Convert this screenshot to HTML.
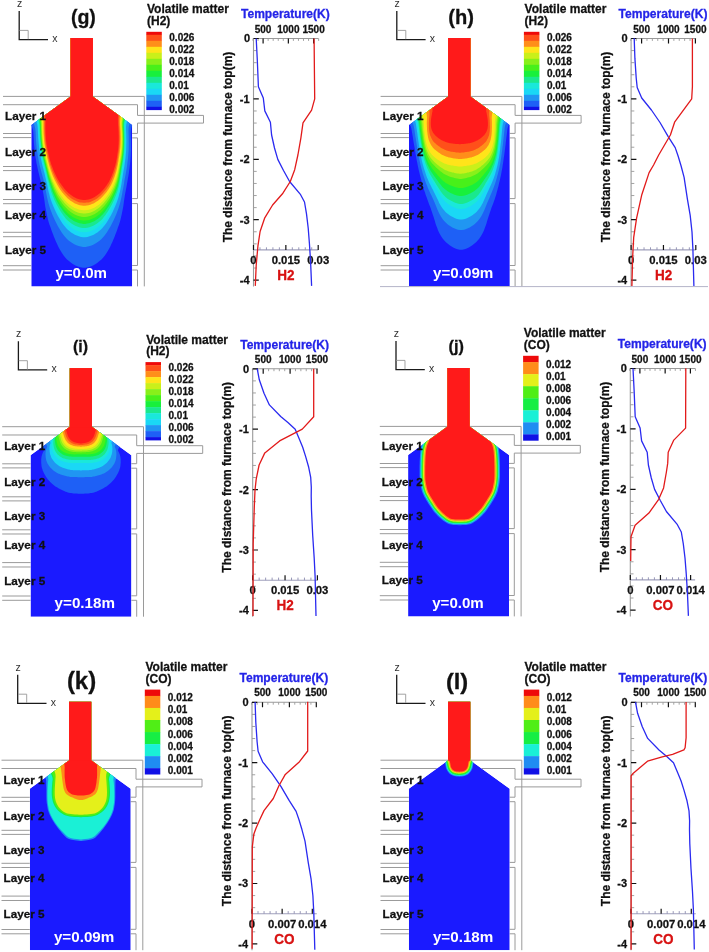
<!DOCTYPE html>
<html><head><meta charset="utf-8"><title>Volatile matter contours</title>
<style>html,body{margin:0;padding:0;background:#fff;}svg{display:block;}</style></head>
<body>
<svg width="709" height="952" viewBox="0 0 709 952">
<rect width="709" height="952" fill="#fff"/>
<g transform="translate(0,0)">
<path d="M19.2 10.9V39.6H48" stroke="#1a1a1a" stroke-width="1.3" fill="none"/><path d="M19.5 30.4H28.2V39.2" stroke="#999" stroke-width="0.9" fill="none"/><text x="16.9" y="6.7" font-family="&quot;Liberation Sans&quot;, Arial, sans-serif" font-size="10.5" fill="#333">z</text><text x="52.2" y="42" font-family="&quot;Liberation Sans&quot;, Arial, sans-serif" font-size="10.5" fill="#333">x</text>
<text stroke="#111" stroke-width="0.28" x="70.9" y="23.8" font-family="&quot;Liberation Sans&quot;, Arial, sans-serif" font-weight="bold" font-size="20.2" fill="#111" textLength="25" lengthAdjust="spacingAndGlyphs">(g)</text>
<path d="M3 96.4H70.6M92.8 96.4H144.3V286.4 M3 104.7H59.3M104.1 104.7H137.5V115.4H203.5V123.1H137.5V133.4H132.2 M132.2 137.9H137.5V198.6H132.2M132.2 203.6H137.5V265.5H132.2M132.2 270H137.5V286.4 M3 133.5H31.3 M3 137.6H31.3 M3 166.5H31.3 M3 170.6H31.3 M3 199.5H31.3 M3 203.7H31.3 M3 232.3H31.3 M3 236.7H31.3 M3 265.7H31.3 M3 270H31.3" stroke="#9a9a9a" stroke-width="1" fill="none"/>
<clipPath id="clipg"><polygon points="70.6,37.9 92.8,37.9 92.8,96.5 132.2,124.9 132.2,286.4 31.3,286.4 31.3,124.9 70.6,96.5"/></clipPath>
<g clip-path="url(#clipg)">
<polygon points="70.6,37.9 92.8,37.9 92.8,96.5 132.2,124.9 132.2,286.4 31.3,286.4 31.3,124.9 70.6,96.5" fill="#1a1aff"/>
<polygon points="18,20 18,108 19.7,110 21.3,112 23,114 24.7,116 26.3,118.1 27.9,120.1 29.5,122.3 30.8,124.5 32,126.8 32.9,129.3 33.3,131.9 33.5,134.5 33.6,137.1 33.8,139.7 33.9,142.4 34.1,145 34.4,147.6 34.6,150.2 34.9,152.8 35.2,155.4 35.6,158 36.1,160.6 36.5,163.2 37.1,165.8 37.6,168.3 38.2,170.9 38.8,173.5 39.4,176 40,178.6 40.7,181.1 41.4,183.7 41.9,186.3 42.4,188.8 42.9,191.4 43.4,194 43.8,196.5 44.2,199.1 44.6,201.7 44.9,204.3 45.3,206.9 45.8,209.5 46.3,212 46.8,214.6 47.4,217.1 48,219.7 48.7,222.2 49.5,224.7 50.4,227.1 51.2,229.6 52.1,232.1 53.1,234.5 54,236.9 55,239.3 56,241.7 57.1,244.1 58.2,246.5 59.4,248.8 60.7,251.1 62.1,253.3 63.6,255.5 65.2,257.5 67,259.4 69,261.1 71,262.7 73.2,264.2 75.5,265.4 77.9,266.5 80.4,267.2 83,267.7 85.5,267.7 88.1,267.2 90.6,266.5 93,265.4 95.3,264.2 97.5,262.7 99.5,261.1 101.5,259.4 103.3,257.5 104.9,255.5 106.4,253.3 107.8,251.1 109.1,248.8 110.3,246.5 111.4,244.1 112.5,241.7 113.5,239.3 114.5,236.9 115.4,234.5 116.4,232.1 117.3,229.6 118.1,227.1 119,224.7 119.8,222.2 120.5,219.7 121.1,217.1 121.7,214.6 122.2,212 122.7,209.5 123.2,206.9 123.6,204.3 123.9,201.7 124.3,199.1 124.7,196.5 125.1,194 125.6,191.4 126.1,188.8 126.6,186.3 127,183.7 127.5,181.1 127.9,178.6 128.4,176 128.8,173.5 129.1,170.9 129.5,168.3 129.8,165.8 130.1,163.2 130.4,160.6 130.6,158 130.8,155.4 130.9,152.8 131,150.2 131,147.6 131,145 131,142.4 131,139.7 130.9,137.1 130.8,134.5 130.8,131.9 131,129.3 131.6,126.8 132.7,124.5 134,122.3 135.6,120.1 137.2,118.1 138.8,116 140.5,114 142.2,112 143.8,110 145.5,108 145.5,20" fill="#1e60f6"/>
<polygon points="21.4,20 21.4,106.6 22.9,108.6 24.5,110.5 26,112.4 27.5,114.3 29,116.2 30.5,118.2 31.9,120.2 33.1,122.3 34.2,124.5 34.9,126.9 35.3,129.3 35.6,131.8 35.7,134.2 35.8,136.6 35.9,139.1 36.1,141.5 36.3,143.9 36.5,146.4 36.8,148.8 37.1,151.2 37.5,153.6 37.8,155.9 38.3,158.3 38.7,160.7 39.2,163 39.7,165.4 40.3,167.7 40.9,170 41.4,172.3 42.1,174.6 42.7,176.9 43.3,179.1 43.9,181.4 44.4,183.7 44.9,185.9 45.3,188.2 45.8,190.4 46.2,192.7 46.6,194.9 47,197.1 47.5,199.3 48,201.5 48.6,203.7 49.2,205.8 49.9,207.9 50.6,210 51.4,212.1 52.2,214.2 53.1,216.2 54,218.3 54.9,220.3 55.9,222.3 56.9,224.2 57.9,226.2 59,228.1 60.2,230 61.4,231.9 62.6,233.8 63.9,235.6 65.4,237.3 67,238.9 68.6,240.4 70.4,241.8 72.3,243.1 74.3,244.3 76.4,245.3 78.6,246.1 80.8,246.6 83.1,247 85.4,247 87.7,246.6 89.9,246.1 92.1,245.3 94.2,244.3 96.2,243.1 98.1,241.8 99.9,240.4 101.5,238.9 103.1,237.3 104.6,235.6 105.9,233.8 107.1,231.9 108.3,230 109.5,228.1 110.6,226.2 111.6,224.2 112.6,222.3 113.6,220.3 114.5,218.3 115.4,216.2 116.3,214.2 117.1,212.1 117.9,210 118.6,207.9 119.3,205.8 119.9,203.7 120.5,201.5 121,199.3 121.5,197.1 121.9,194.9 122.3,192.7 122.7,190.4 123.2,188.2 123.6,185.9 124,183.7 124.3,181.4 124.7,179.1 125.1,176.9 125.6,174.6 126,172.3 126.4,170 126.8,167.7 127.1,165.4 127.4,163 127.7,160.7 128,158.3 128.2,155.9 128.4,153.6 128.6,151.2 128.7,148.8 128.7,146.4 128.8,143.9 128.7,141.5 128.7,139.1 128.7,136.6 128.6,134.2 128.5,131.8 128.5,129.3 128.7,126.9 129.3,124.5 130.4,122.3 131.6,120.2 133,118.2 134.5,116.2 136,114.3 137.5,112.4 139,110.5 140.6,108.6 142.1,106.6 142.1,20" fill="#2096f2"/>
<polygon points="25.2,20 25.2,105.1 26.6,106.9 27.9,108.7 29.3,110.6 30.7,112.4 32,114.2 33.4,116 34.6,118 35.7,119.9 36.6,122 37.2,124.2 37.6,126.5 37.8,128.7 37.9,131 38,133.3 38.1,135.5 38.2,137.8 38.4,140.1 38.6,142.3 38.8,144.6 39,146.8 39.3,149.1 39.6,151.3 40,153.5 40.4,155.7 40.8,157.9 41.2,160.1 41.7,162.3 42.2,164.5 42.7,166.7 43.3,168.8 43.8,171 44.4,173.1 44.9,175.3 45.4,177.4 45.9,179.5 46.4,181.7 46.9,183.8 47.4,185.9 47.8,188 48.2,190.1 48.7,192.2 49.3,194.3 49.8,196.4 50.4,198.4 51.1,200.4 51.8,202.4 52.6,204.4 53.4,206.4 54.2,208.3 55.1,210.3 56,212.2 56.9,214.1 57.9,215.9 59,217.8 60,219.6 61.2,221.4 62.3,223.2 63.6,224.9 64.9,226.6 66.3,228.2 67.8,229.7 69.4,231.1 71.1,232.4 72.9,233.6 74.8,234.7 76.8,235.6 78.9,236.3 81,236.9 83.2,237.2 85.3,237.2 87.5,236.9 89.6,236.3 91.7,235.6 93.7,234.7 95.6,233.6 97.4,232.4 99.1,231.1 100.7,229.7 102.2,228.2 103.6,226.6 104.9,224.9 106.2,223.2 107.3,221.4 108.5,219.6 109.5,217.8 110.6,215.9 111.6,214.1 112.5,212.2 113.4,210.3 114.3,208.3 115.1,206.4 115.9,204.4 116.7,202.4 117.4,200.4 118.1,198.4 118.7,196.4 119.2,194.3 119.8,192.2 120.3,190.1 120.7,188 121.1,185.9 121.5,183.8 121.8,181.7 122.1,179.5 122.5,177.4 122.8,175.3 123.2,173.1 123.5,171 123.9,168.8 124.3,166.7 124.6,164.5 124.9,162.3 125.2,160.1 125.5,157.9 125.7,155.7 125.9,153.5 126.1,151.3 126.2,149.1 126.3,146.8 126.3,144.6 126.4,142.3 126.4,140.1 126.3,137.8 126.3,135.5 126.2,133.3 126.1,131 126,128.7 126,126.5 126.3,124.2 126.9,122 127.8,119.9 128.9,118 130.1,116 131.5,114.2 132.8,112.4 134.2,110.6 135.6,108.7 136.9,106.9 138.3,105.1 138.3,20" fill="#1ad8f5"/>
<polygon points="26.6,20 26.6,104.6 27.9,106.3 29.2,108.1 30.5,109.9 31.9,111.7 33.2,113.4 34.4,115.3 35.6,117.1 36.6,119.1 37.5,121.1 38.1,123.2 38.4,125.4 38.6,127.6 38.7,129.8 38.8,132 38.9,134.2 39,136.4 39.2,138.6 39.3,140.8 39.5,143 39.7,145.2 40,147.4 40.3,149.5 40.6,151.7 41,153.8 41.4,156 41.8,158.1 42.2,160.2 42.7,162.3 43.2,164.4 43.7,166.5 44.3,168.6 44.8,170.7 45.3,172.8 45.8,174.9 46.3,176.9 46.8,179 47.3,181.1 47.8,183.1 48.3,185.1 48.8,187.2 49.2,189.2 49.8,191.2 50.3,193.2 51,195.1 51.6,197.1 52.3,199 53.1,200.9 53.9,202.8 54.7,204.7 55.6,206.6 56.5,208.4 57.4,210.2 58.4,212 59.5,213.8 60.5,215.5 61.6,217.2 62.8,218.9 64,220.6 65.3,222.2 66.7,223.7 68.2,225.1 69.8,226.5 71.5,227.7 73.3,228.9 75.1,229.9 77,230.8 79,231.4 81.1,231.9 83.2,232.2 85.3,232.2 87.4,231.9 89.5,231.4 91.5,230.8 93.4,229.9 95.2,228.9 97,227.7 98.7,226.5 100.3,225.1 101.8,223.7 103.2,222.2 104.5,220.6 105.7,218.9 106.9,217.2 108,215.5 109,213.8 110.1,212 111.1,210.2 112,208.4 112.9,206.6 113.8,204.7 114.6,202.8 115.4,200.9 116.2,199 116.9,197.1 117.5,195.1 118.2,193.2 118.7,191.2 119.3,189.2 119.7,187.2 120.2,185.1 120.6,183.1 120.9,181.1 121.2,179 121.5,176.9 121.9,174.9 122.2,172.8 122.5,170.7 122.9,168.6 123.2,166.5 123.6,164.4 123.9,162.3 124.2,160.2 124.5,158.1 124.7,156 124.9,153.8 125.1,151.7 125.3,149.5 125.4,147.4 125.4,145.2 125.5,143 125.5,140.8 125.5,138.6 125.4,136.4 125.4,134.2 125.3,132 125.2,129.8 125.1,127.6 125.1,125.4 125.4,123.2 126,121.1 126.9,119.1 127.9,117.1 129.1,115.3 130.3,113.4 131.6,111.7 133,109.9 134.3,108.1 135.6,106.3 136.9,104.6 136.9,20" fill="#1ae8da"/>
<polygon points="28,20 28,104 29.3,105.7 30.5,107.5 31.8,109.2 33,110.9 34.3,112.7 35.5,114.5 36.6,116.3 37.6,118.2 38.4,120.2 39,122.2 39.3,124.4 39.5,126.5 39.6,128.6 39.6,130.8 39.7,132.9 39.8,135.1 39.9,137.2 40.1,139.3 40.3,141.4 40.5,143.6 40.7,145.7 41,147.8 41.3,149.9 41.6,152 42,154.1 42.4,156.1 42.8,158.2 43.2,160.3 43.7,162.3 44.2,164.3 44.7,166.4 45.2,168.4 45.7,170.4 46.2,172.4 46.7,174.5 47.1,176.5 47.6,178.5 48.1,180.5 48.7,182.5 49.2,184.4 49.7,186.4 50.3,188.3 50.8,190.3 51.4,192.2 52.1,194.1 52.8,195.9 53.6,197.8 54.3,199.7 55.2,201.5 56,203.3 56.9,205.1 57.9,206.8 58.9,208.6 59.9,210.3 61,212 62.1,213.6 63.2,215.3 64.5,216.8 65.7,218.4 67.1,219.9 68.6,221.2 70.2,222.5 71.8,223.7 73.5,224.8 75.3,225.8 77.2,226.6 79.2,227.3 81.2,227.7 83.2,228 85.3,228 87.3,227.7 89.3,227.3 91.3,226.6 93.2,225.8 95,224.8 96.7,223.7 98.3,222.5 99.9,221.2 101.4,219.9 102.8,218.4 104,216.8 105.3,215.3 106.4,213.6 107.5,212 108.6,210.3 109.6,208.6 110.6,206.8 111.6,205.1 112.5,203.3 113.3,201.5 114.2,199.7 114.9,197.8 115.7,195.9 116.4,194.1 117.1,192.2 117.7,190.3 118.2,188.3 118.8,186.4 119.3,184.4 119.6,182.5 120,180.5 120.3,178.5 120.6,176.5 120.9,174.5 121.3,172.4 121.6,170.4 121.9,168.4 122.2,166.4 122.6,164.3 122.9,162.3 123.2,160.3 123.5,158.2 123.7,156.1 124,154.1 124.2,152 124.3,149.9 124.4,147.8 124.5,145.7 124.6,143.6 124.6,141.4 124.6,139.3 124.6,137.2 124.5,135.1 124.5,132.9 124.4,130.8 124.2,128.6 124.2,126.5 124.2,124.4 124.5,122.2 125.1,120.2 125.9,118.2 126.9,116.3 128,114.5 129.2,112.7 130.5,110.9 131.7,109.2 133,107.5 134.2,105.7 135.5,104 135.5,20" fill="#1ae88e"/>
<polygon points="29,20 29,103.6 30.2,105.3 31.4,107 32.6,108.7 33.9,110.4 35.1,112.2 36.2,113.9 37.3,115.7 38.3,117.6 39,119.5 39.6,121.5 39.9,123.6 40.1,125.7 40.2,127.8 40.2,129.9 40.3,132 40.4,134.1 40.5,136.1 40.6,138.2 40.8,140.3 41,142.4 41.2,144.4 41.4,146.5 41.7,148.5 42.1,150.6 42.4,152.6 42.8,154.6 43.2,156.7 43.6,158.7 44.1,160.7 44.5,162.6 45,164.6 45.5,166.6 46,168.6 46.5,170.5 47,172.5 47.4,174.4 47.9,176.4 48.4,178.3 49,180.2 49.5,182.1 50.1,184 50.7,185.9 51.2,187.8 51.9,189.6 52.5,191.4 53.2,193.3 54,195 54.8,196.8 55.6,198.6 56.4,200.3 57.3,202 58.3,203.7 59.3,205.4 60.3,207 61.4,208.6 62.5,210.2 63.6,211.8 64.8,213.3 66.1,214.7 67.5,216.1 68.9,217.5 70.5,218.7 72.1,219.8 73.8,220.9 75.5,221.8 77.4,222.6 79.3,223.2 81.3,223.6 83.3,223.9 85.2,223.9 87.2,223.6 89.2,223.2 91.1,222.6 93,221.8 94.7,220.9 96.4,219.8 98,218.7 99.6,217.5 101,216.1 102.4,214.7 103.7,213.3 104.9,211.8 106,210.2 107.1,208.6 108.2,207 109.2,205.4 110.2,203.7 111.2,202 112.1,200.3 112.9,198.6 113.7,196.8 114.5,195 115.3,193.3 116,191.4 116.6,189.6 117.3,187.8 117.8,185.9 118.3,184 118.8,182.1 119.1,180.2 119.5,178.3 119.8,176.4 120.2,174.4 120.5,172.5 120.8,170.5 121.1,168.6 121.4,166.6 121.8,164.6 122.1,162.6 122.4,160.7 122.7,158.7 123,156.7 123.2,154.6 123.4,152.6 123.6,150.6 123.7,148.5 123.8,146.5 123.9,144.4 124,142.4 124,140.3 124,138.2 123.9,136.1 123.9,134.1 123.8,132 123.7,129.9 123.6,127.8 123.5,125.7 123.6,123.6 123.9,121.5 124.5,119.5 125.2,117.6 126.2,115.7 127.3,113.9 128.4,112.2 129.6,110.4 130.9,108.7 132.1,107 133.3,105.3 134.5,103.6 134.5,20" fill="#18f03c"/>
<polygon points="29.8,20 29.8,103.3 31,105 32.2,106.7 33.3,108.3 34.5,110 35.7,111.7 36.8,113.4 37.8,115.2 38.8,117.1 39.5,119 40.1,121 40.4,123 40.5,125.1 40.6,127.1 40.7,129.2 40.7,131.2 40.8,133.3 40.9,135.3 41.1,137.4 41.2,139.4 41.4,141.4 41.6,143.4 41.8,145.5 42.1,147.5 42.4,149.5 42.8,151.5 43.1,153.4 43.5,155.4 43.9,157.4 44.4,159.3 44.8,161.3 45.3,163.2 45.8,165.1 46.3,167.1 46.7,169 47.2,170.9 47.7,172.8 48.2,174.7 48.7,176.6 49.2,178.4 49.7,180.3 50.3,182.1 51,184 51.6,185.8 52.2,187.6 52.9,189.3 53.6,191.1 54.3,192.8 55.1,194.6 55.9,196.3 56.7,197.9 57.6,199.6 58.6,201.2 59.6,202.8 60.6,204.4 61.7,206 62.8,207.5 63.9,209 65.2,210.4 66.4,211.8 67.8,213.2 69.2,214.4 70.7,215.6 72.3,216.7 74,217.7 75.7,218.6 77.5,219.3 79.4,219.9 81.3,220.3 83.3,220.6 85.2,220.6 87.2,220.3 89.1,219.9 91,219.3 92.8,218.6 94.5,217.7 96.2,216.7 97.8,215.6 99.3,214.4 100.7,213.2 102.1,211.8 103.3,210.4 104.6,209 105.7,207.5 106.8,206 107.9,204.4 108.9,202.8 109.9,201.2 110.9,199.6 111.8,197.9 112.6,196.3 113.4,194.6 114.2,192.8 114.9,191.1 115.6,189.3 116.3,187.6 116.9,185.8 117.5,184 117.9,182.1 118.4,180.3 118.8,178.4 119.1,176.6 119.5,174.7 119.8,172.8 120.1,170.9 120.4,169 120.7,167.1 121.1,165.1 121.4,163.2 121.7,161.3 122,159.3 122.3,157.4 122.5,155.4 122.8,153.4 123,151.5 123.1,149.5 123.3,147.5 123.4,145.5 123.4,143.4 123.5,141.4 123.5,139.4 123.5,137.4 123.4,135.3 123.3,133.3 123.3,131.2 123.2,129.2 123,127.1 123,125.1 123.1,123 123.4,121 124,119 124.7,117.1 125.7,115.2 126.7,113.4 127.8,111.7 129,110 130.2,108.3 131.3,106.7 132.5,105 133.7,103.3 133.7,20" fill="#48f01a"/>
<polygon points="30.6,20 30.6,103 31.7,104.6 32.9,106.3 34,108 35.2,109.6 36.3,111.3 37.4,113 38.4,114.8 39.3,116.6 40.1,118.4 40.6,120.4 40.9,122.4 41,124.4 41.1,126.4 41.1,128.4 41.2,130.5 41.3,132.5 41.4,134.5 41.5,136.5 41.7,138.5 41.8,140.5 42,142.4 42.2,144.4 42.5,146.4 42.8,148.3 43.1,150.3 43.5,152.2 43.8,154.2 44.2,156.1 44.7,158 45.1,159.9 45.6,161.8 46.1,163.6 46.5,165.5 47,167.4 47.5,169.2 47.9,171.1 48.4,172.9 48.9,174.7 49.4,176.6 50,178.3 50.6,180.1 51.2,181.9 51.9,183.6 52.6,185.4 53.2,187.1 53.9,188.8 54.7,190.5 55.4,192.1 56.2,193.8 57.1,195.4 58,197 58.9,198.5 59.9,200 61,201.6 62,203 63.1,204.5 64.3,205.9 65.5,207.3 66.8,208.6 68.1,209.9 69.5,211.1 71,212.2 72.6,213.3 74.2,214.2 75.9,215.1 77.7,215.8 79.5,216.3 81.4,216.7 83.3,216.9 85.2,216.9 87.1,216.7 89,216.3 90.8,215.8 92.6,215.1 94.3,214.2 95.9,213.3 97.5,212.2 99,211.1 100.4,209.9 101.7,208.6 103,207.3 104.2,205.9 105.4,204.5 106.5,203 107.5,201.6 108.6,200 109.6,198.5 110.5,197 111.4,195.4 112.3,193.8 113.1,192.1 113.8,190.5 114.6,188.8 115.3,187.1 115.9,185.4 116.5,183.6 117,181.9 117.5,180.1 117.9,178.3 118.4,176.6 118.7,174.7 119.1,172.9 119.4,171.1 119.7,169.2 120,167.4 120.3,165.5 120.7,163.6 121,161.8 121.3,159.9 121.6,158 121.9,156.1 122.1,154.2 122.3,152.2 122.5,150.3 122.7,148.3 122.8,146.4 122.9,144.4 122.9,142.4 123,140.5 123,138.5 122.9,136.5 122.9,134.5 122.8,132.5 122.7,130.5 122.6,128.4 122.5,126.4 122.5,124.4 122.6,122.4 122.9,120.4 123.4,118.4 124.2,116.6 125.1,114.8 126.1,113 127.2,111.3 128.3,109.6 129.5,108 130.6,106.3 131.8,104.6 132.9,103 132.9,20" fill="#88f01a"/>
<polygon points="31.6,20 31.6,102.6 32.7,104.2 33.8,105.8 34.9,107.5 36,109.1 37.1,110.8 38.2,112.4 39.1,114.2 40,115.9 40.7,117.8 41.2,119.7 41.5,121.6 41.7,123.6 41.7,125.6 41.7,127.6 41.8,129.5 41.9,131.5 41.9,133.4 42,135.4 42.2,137.3 42.3,139.3 42.5,141.2 42.7,143.2 43,145.1 43.2,147 43.5,148.9 43.9,150.8 44.2,152.7 44.6,154.6 45,156.4 45.5,158.3 45.9,160.1 46.4,161.9 46.8,163.8 47.3,165.6 47.7,167.4 48.2,169.2 48.7,171 49.2,172.8 49.7,174.5 50.3,176.3 50.9,178 51.5,179.7 52.1,181.4 52.9,183.1 53.6,184.8 54.3,186.4 55,188 55.8,189.6 56.6,191.2 57.4,192.8 58.3,194.4 59.3,195.9 60.3,197.3 61.3,198.8 62.4,200.2 63.5,201.6 64.6,203 65.8,204.3 67.1,205.6 68.4,206.8 69.8,208 71.3,209.1 72.8,210.1 74.4,211 76.1,211.8 77.8,212.4 79.6,213 81.5,213.3 83.3,213.5 85.2,213.5 87,213.3 88.9,213 90.7,212.4 92.4,211.8 94.1,211 95.7,210.1 97.2,209.1 98.7,208 100.1,206.8 101.4,205.6 102.7,204.3 103.9,203 105,201.6 106.1,200.2 107.2,198.8 108.2,197.3 109.2,195.9 110.2,194.4 111.1,192.8 111.9,191.2 112.7,189.6 113.5,188 114.2,186.4 114.9,184.8 115.5,183.1 116.1,181.4 116.6,179.7 117.1,178 117.5,176.3 117.9,174.5 118.3,172.8 118.6,171 119,169.2 119.3,167.4 119.6,165.6 119.9,163.8 120.2,161.9 120.5,160.1 120.8,158.3 121.1,156.4 121.4,154.6 121.6,152.7 121.8,150.8 122,148.9 122.1,147 122.2,145.1 122.3,143.2 122.3,141.2 122.4,139.3 122.3,137.3 122.3,135.4 122.3,133.4 122.2,131.5 122.1,129.5 122,127.6 121.9,125.6 121.8,123.6 122,121.6 122.3,119.7 122.8,117.8 123.5,115.9 124.4,114.2 125.3,112.4 126.4,110.8 127.5,109.1 128.6,107.5 129.7,105.8 130.8,104.2 131.9,102.6 131.9,20" fill="#caf01a"/>
<polygon points="32.6,20 32.6,102.2 33.7,103.8 34.7,105.4 35.8,107 36.9,108.6 37.9,110.2 39,111.9 39.8,113.6 40.7,115.3 41.3,117.1 41.8,119 42.1,120.9 42.3,122.8 42.3,124.7 42.3,126.7 42.4,128.6 42.4,130.5 42.5,132.4 42.6,134.3 42.7,136.2 42.8,138.1 43,140 43.2,141.9 43.4,143.8 43.7,145.7 44,147.5 44.3,149.4 44.6,151.2 45,153 45.4,154.9 45.8,156.7 46.2,158.5 46.7,160.3 47.1,162 47.6,163.8 48,165.6 48.4,167.3 48.9,169.1 49.4,170.8 50,172.5 50.5,174.2 51.1,175.9 51.8,177.6 52.4,179.3 53.1,180.9 53.8,182.5 54.6,184.1 55.4,185.7 56.1,187.3 56.9,188.8 57.8,190.3 58.7,191.8 59.6,193.3 60.6,194.7 61.6,196.1 62.7,197.5 63.8,198.9 64.9,200.2 66.1,201.5 67.4,202.7 68.7,203.9 70.1,205 71.6,206 73.1,207 74.6,207.9 76.3,208.6 78,209.2 79.7,209.8 81.5,210.1 83.3,210.3 85.2,210.3 87,210.1 88.8,209.8 90.5,209.2 92.2,208.6 93.9,207.9 95.4,207 96.9,206 98.4,205 99.8,203.9 101.1,202.7 102.4,201.5 103.6,200.2 104.7,198.9 105.8,197.5 106.9,196.1 107.9,194.7 108.9,193.3 109.8,191.8 110.7,190.3 111.6,188.8 112.4,187.3 113.1,185.7 113.8,184.1 114.5,182.5 115,180.9 115.6,179.3 116.1,177.6 116.6,175.9 117.1,174.2 117.5,172.5 117.9,170.8 118.2,169.1 118.6,167.3 118.9,165.6 119.2,163.8 119.5,162 119.8,160.3 120.1,158.5 120.3,156.7 120.6,154.9 120.9,153 121.1,151.2 121.3,149.4 121.4,147.5 121.5,145.7 121.6,143.8 121.7,141.9 121.7,140 121.7,138.1 121.7,136.2 121.7,134.3 121.6,132.4 121.5,130.5 121.4,128.6 121.3,126.7 121.2,124.7 121.2,122.8 121.4,120.9 121.7,119 122.2,117.1 122.8,115.3 123.7,113.6 124.5,111.9 125.6,110.2 126.6,108.6 127.7,107 128.8,105.4 129.8,103.8 130.9,102.2 130.9,20" fill="#ffe41a"/>
<polygon points="34.4,20 34.4,101.4 35.4,103 36.4,104.6 37.4,106.1 38.4,107.7 39.3,109.3 40.3,110.8 41.1,112.5 41.9,114.2 42.5,115.9 43,117.7 43.2,119.5 43.4,121.4 43.4,123.2 43.4,125.1 43.4,126.9 43.4,128.8 43.5,130.6 43.5,132.4 43.6,134.2 43.8,136.1 43.9,137.9 44,139.7 44.2,141.5 44.4,143.3 44.7,145.1 45,146.9 45.3,148.7 45.6,150.4 46,152.2 46.4,153.9 46.8,155.7 47.2,157.4 47.6,159.1 48,160.9 48.5,162.6 48.9,164.3 49.4,166 49.9,167.6 50.4,169.3 51,171 51.6,172.6 52.2,174.2 52.8,175.8 53.6,177.4 54.3,179 55,180.5 55.8,182.1 56.6,183.6 57.4,185.1 58.3,186.6 59.2,188 60.1,189.4 61.1,190.8 62.1,192.2 63.2,193.5 64.3,194.8 65.4,196.1 66.6,197.3 67.8,198.5 69.1,199.6 70.5,200.7 71.9,201.6 73.4,202.6 74.9,203.4 76.5,204.1 78.2,204.7 79.9,205.2 81.6,205.5 83.4,205.7 85.1,205.7 86.9,205.5 88.6,205.2 90.3,204.7 92,204.1 93.6,203.4 95.1,202.6 96.6,201.6 98,200.7 99.4,199.6 100.7,198.5 101.9,197.3 103.1,196.1 104.2,194.8 105.3,193.5 106.4,192.2 107.4,190.8 108.4,189.4 109.3,188 110.2,186.6 111.1,185.1 111.8,183.6 112.5,182.1 113.1,180.5 113.7,179 114.3,177.4 114.9,175.8 115.4,174.2 115.9,172.6 116.4,171 116.8,169.3 117.2,167.6 117.5,166 117.9,164.3 118.2,162.6 118.5,160.9 118.7,159.1 119,157.4 119.3,155.7 119.5,153.9 119.8,152.2 120,150.4 120.2,148.7 120.4,146.9 120.5,145.1 120.6,143.3 120.6,141.5 120.7,139.7 120.7,137.9 120.7,136.1 120.6,134.2 120.6,132.4 120.5,130.6 120.4,128.8 120.3,126.9 120.2,125.1 120.1,123.2 120.1,121.4 120.3,119.5 120.5,117.7 121,115.9 121.6,114.2 122.4,112.5 123.2,110.8 124.2,109.3 125.1,107.7 126.1,106.1 127.1,104.6 128.1,103 129.1,101.4 129.1,20" fill="#ff8e1a"/>
<polygon points="36.2,20 36.2,100.7 37.1,102.2 38,103.8 38.9,105.3 39.9,106.8 40.8,108.3 41.7,109.8 42.4,111.4 43.1,113.1 43.6,114.7 44.1,116.5 44.4,118.2 44.5,120 44.5,121.7 44.4,123.5 44.4,125.3 44.4,127 44.4,128.8 44.5,130.5 44.6,132.3 44.6,134.1 44.7,135.8 44.9,137.6 45,139.3 45.2,141.1 45.4,142.8 45.6,144.5 45.9,146.3 46.2,148 46.5,149.7 46.9,151.4 47.3,153.1 47.7,154.8 48.1,156.5 48.4,158.2 48.9,159.9 49.3,161.6 49.8,163.2 50.2,164.9 50.8,166.5 51.3,168.2 51.9,169.8 52.5,171.4 53.2,173 53.9,174.6 54.6,176.2 55.3,177.7 56.1,179.3 56.9,180.8 57.7,182.3 58.6,183.8 59.5,185.2 60.5,186.7 61.4,188 62.4,189.4 63.5,190.7 64.6,192 65.7,193.3 66.9,194.5 68.1,195.7 69.4,196.8 70.8,197.9 72.2,198.9 73.6,199.8 75.1,200.6 76.7,201.3 78.3,201.9 80,202.4 81.7,202.6 83.4,202.8 85.1,202.8 86.8,202.6 88.5,202.4 90.2,201.9 91.8,201.3 93.4,200.6 94.9,199.8 96.3,198.9 97.7,197.9 99.1,196.8 100.4,195.7 101.6,194.5 102.8,193.3 103.9,192 105,190.7 106.1,189.4 107.1,188 108,186.7 109,185.2 109.8,183.8 110.5,182.3 111.2,180.8 111.9,179.3 112.5,177.7 113.2,176.2 113.7,174.6 114.3,173 114.8,171.4 115.3,169.8 115.8,168.2 116.2,166.5 116.6,164.9 116.9,163.2 117.3,161.6 117.5,159.9 117.8,158.2 118.1,156.5 118.3,154.8 118.6,153.1 118.8,151.4 119,149.7 119.2,148 119.4,146.3 119.5,144.5 119.6,142.8 119.7,141.1 119.7,139.3 119.7,137.6 119.7,135.8 119.6,134.1 119.6,132.3 119.5,130.5 119.4,128.8 119.3,127 119.1,125.3 119.1,123.5 119,121.7 119,120 119.1,118.2 119.4,116.5 119.9,114.7 120.4,113.1 121.1,111.4 121.8,109.8 122.7,108.3 123.6,106.8 124.6,105.3 125.5,103.8 126.4,102.2 127.3,100.7 127.3,20" fill="#ff501a"/>
<polygon points="38,20 38,100 38.8,101.5 39.7,102.9 40.5,104.4 41.4,105.9 42.2,107.3 43,108.8 43.7,110.4 44.3,111.9 44.8,113.6 45.2,115.2 45.5,116.9 45.6,118.5 45.6,120.2 45.5,121.9 45.5,123.6 45.4,125.3 45.4,127 45.4,128.7 45.5,130.4 45.5,132.1 45.6,133.7 45.7,135.4 45.8,137.1 45.9,138.8 46.1,140.5 46.3,142.2 46.5,143.9 46.8,145.5 47.1,147.2 47.4,148.9 47.8,150.6 48.1,152.2 48.5,153.9 48.9,155.6 49.3,157.2 49.7,158.9 50.1,160.5 50.6,162.2 51.1,163.8 51.7,165.4 52.3,167 52.9,168.6 53.5,170.2 54.2,171.8 54.9,173.3 55.7,174.9 56.4,176.4 57.2,178 58,179.5 58.9,181 59.8,182.4 60.8,183.8 61.8,185.2 62.8,186.6 63.8,187.9 64.9,189.2 66,190.5 67.2,191.7 68.4,192.9 69.7,194 71,195 72.4,196 73.8,196.9 75.3,197.7 76.8,198.4 78.4,199 80.1,199.5 81.7,199.7 83.4,199.9 85.1,199.9 86.8,199.7 88.4,199.5 90.1,199 91.7,198.4 93.2,197.7 94.7,196.9 96.1,196 97.5,195 98.8,194 100.1,192.9 101.3,191.7 102.5,190.5 103.6,189.2 104.7,187.9 105.7,186.6 106.7,185.2 107.6,183.8 108.5,182.4 109.3,181 110,179.5 110.7,178 111.4,176.4 112,174.9 112.6,173.3 113.2,171.8 113.7,170.2 114.2,168.6 114.7,167 115.2,165.4 115.6,163.8 116,162.2 116.3,160.5 116.7,158.9 116.9,157.2 117.2,155.6 117.4,153.9 117.7,152.2 117.9,150.6 118.1,148.9 118.3,147.2 118.4,145.5 118.6,143.9 118.6,142.2 118.7,140.5 118.7,138.8 118.7,137.1 118.7,135.4 118.6,133.7 118.6,132.1 118.5,130.4 118.4,128.7 118.3,127 118.1,125.3 118,123.6 118,121.9 117.9,120.2 117.9,118.5 118,116.9 118.3,115.2 118.7,113.6 119.2,111.9 119.8,110.4 120.5,108.8 121.3,107.3 122.1,105.9 123,104.4 123.8,102.9 124.7,101.5 125.5,100 125.5,20" fill="#ff1a1a"/>
<rect x="70.6" y="37.9" width="22.2" height="59.1" fill="#ff1a1a"/>
</g>
<text stroke="#111" stroke-width="0.28" x="5" y="119.8" font-family="&quot;Liberation Sans&quot;, Arial, sans-serif" font-weight="bold" font-size="11.5" fill="#111" textLength="41" lengthAdjust="spacingAndGlyphs">Layer 1</text>
<text stroke="#111" stroke-width="0.28" x="5" y="156" font-family="&quot;Liberation Sans&quot;, Arial, sans-serif" font-weight="bold" font-size="11.5" fill="#111" textLength="41" lengthAdjust="spacingAndGlyphs">Layer 2</text>
<text stroke="#111" stroke-width="0.28" x="5" y="190" font-family="&quot;Liberation Sans&quot;, Arial, sans-serif" font-weight="bold" font-size="11.5" fill="#111" textLength="41" lengthAdjust="spacingAndGlyphs">Layer 3</text>
<text stroke="#111" stroke-width="0.28" x="5" y="218.5" font-family="&quot;Liberation Sans&quot;, Arial, sans-serif" font-weight="bold" font-size="11.5" fill="#111" textLength="41" lengthAdjust="spacingAndGlyphs">Layer 4</text>
<text stroke="#111" stroke-width="0.28" x="5" y="254.3" font-family="&quot;Liberation Sans&quot;, Arial, sans-serif" font-weight="bold" font-size="11.5" fill="#111" textLength="41" lengthAdjust="spacingAndGlyphs">Layer 5</text>
<text x="55.4" y="277.9" font-family="&quot;Liberation Sans&quot;, Arial, sans-serif" font-weight="bold" font-size="14.6" fill="#fff" textLength="51.6" lengthAdjust="spacingAndGlyphs">y=0.0m</text>
<text stroke="#111" stroke-width="0.28" x="147" y="13.4" font-family="&quot;Liberation Sans&quot;, Arial, sans-serif" font-weight="bold" font-size="12" fill="#111">Volatile matter</text>
<text stroke="#111" stroke-width="0.28" x="147" y="25.1" font-family="&quot;Liberation Sans&quot;, Arial, sans-serif" font-weight="bold" font-size="12" fill="#111">(H2)</text>
<rect x="146.3" y="31.8" width="15.5" height="3.3" fill="#ee0a0a"/>
<rect x="146.3" y="34.8" width="15.5" height="6.3" fill="#ff501a"/>
<rect x="146.3" y="40.8" width="15.5" height="6.3" fill="#ff8e1a"/>
<rect x="146.3" y="46.8" width="15.5" height="6.3" fill="#ffe41a"/>
<rect x="146.3" y="52.8" width="15.5" height="6.3" fill="#caf01a"/>
<rect x="146.3" y="58.8" width="15.5" height="6.3" fill="#88f01a"/>
<rect x="146.3" y="64.8" width="15.5" height="6.3" fill="#48f01a"/>
<rect x="146.3" y="70.8" width="15.5" height="6.3" fill="#18f03c"/>
<rect x="146.3" y="76.8" width="15.5" height="6.3" fill="#1ae88e"/>
<rect x="146.3" y="82.8" width="15.5" height="6.3" fill="#1ae8da"/>
<rect x="146.3" y="88.8" width="15.5" height="6.3" fill="#1ad8f5"/>
<rect x="146.3" y="94.8" width="15.5" height="6.3" fill="#2096f2"/>
<rect x="146.3" y="100.8" width="15.5" height="6.3" fill="#1e60f6"/>
<rect x="146.3" y="106.8" width="15.5" height="3.3" fill="#1010e6"/>
<text stroke="#111" stroke-width="0.28" x="169.3" y="40.5" font-family="&quot;Liberation Sans&quot;, Arial, sans-serif" font-weight="bold" font-size="10" fill="#111">0.026</text>
<text stroke="#111" stroke-width="0.28" x="169.3" y="52.5" font-family="&quot;Liberation Sans&quot;, Arial, sans-serif" font-weight="bold" font-size="10" fill="#111">0.022</text>
<text stroke="#111" stroke-width="0.28" x="169.3" y="64.5" font-family="&quot;Liberation Sans&quot;, Arial, sans-serif" font-weight="bold" font-size="10" fill="#111">0.018</text>
<text stroke="#111" stroke-width="0.28" x="169.3" y="76.5" font-family="&quot;Liberation Sans&quot;, Arial, sans-serif" font-weight="bold" font-size="10" fill="#111">0.014</text>
<text stroke="#111" stroke-width="0.28" x="169.3" y="88.5" font-family="&quot;Liberation Sans&quot;, Arial, sans-serif" font-weight="bold" font-size="10" fill="#111">0.01</text>
<text stroke="#111" stroke-width="0.28" x="169.3" y="100.5" font-family="&quot;Liberation Sans&quot;, Arial, sans-serif" font-weight="bold" font-size="10" fill="#111">0.006</text>
<text stroke="#111" stroke-width="0.28" x="169.3" y="112.5" font-family="&quot;Liberation Sans&quot;, Arial, sans-serif" font-weight="bold" font-size="10" fill="#111">0.002</text>
<text stroke="#2424e8" stroke-width="0.28" x="241" y="18.3" font-family="&quot;Liberation Sans&quot;, Arial, sans-serif" font-weight="bold" font-size="12" fill="#2424e8" textLength="88.8" lengthAdjust="spacingAndGlyphs">Temperature(K)</text>
<text stroke="#111" stroke-width="0.28" transform="translate(232,147) rotate(-90)" font-family="&quot;Liberation Sans&quot;, Arial, sans-serif" font-weight="bold" font-size="12" fill="#111" text-anchor="middle">The distance from furnace top(m)</text>
<path d="M253.5 38.5H318.5M253.5 38.5V286.4" stroke="#9a9a9a" stroke-width="1.1" fill="none"/>
<path d="M253 38.5v2.4 M258.05 38.5v2.4 M268.15 38.5v2.4 M273.2 38.5v2.4 M278.25 38.5v2.4 M283.3 38.5v2.4 M293.4 38.5v2.4 M298.45 38.5v2.4 M303.5 38.5v2.4 M308.55 38.5v2.4 M318.65 38.5v2.4" stroke="#999" stroke-width="0.9"/>
<path d="M263.1 38.5v5 M288.35 38.5v5 M313.6 38.5v5" stroke="#111" stroke-width="1.2"/>
<text stroke="#111" stroke-width="0.28" x="263.1" y="32.6" font-family="&quot;Liberation Sans&quot;, Arial, sans-serif" font-weight="bold" font-size="10" fill="#111" text-anchor="middle">500</text>
<text stroke="#111" stroke-width="0.28" x="288.35" y="32.6" font-family="&quot;Liberation Sans&quot;, Arial, sans-serif" font-weight="bold" font-size="10" fill="#111" text-anchor="middle">1000</text>
<text stroke="#111" stroke-width="0.28" x="313.6" y="32.6" font-family="&quot;Liberation Sans&quot;, Arial, sans-serif" font-weight="bold" font-size="10" fill="#111" text-anchor="middle">1500</text>
<path d="M253.5 50.58h3.2 M253.5 62.66h3.2 M253.5 74.74h3.2 M253.5 86.82h3.2 M253.5 110.98h3.2 M253.5 123.06h3.2 M253.5 135.14h3.2 M253.5 147.22h3.2 M253.5 171.38h3.2 M253.5 183.46h3.2 M253.5 195.54h3.2 M253.5 207.62h3.2 M253.5 231.78h3.2 M253.5 243.86h3.2 M253.5 255.94h3.2 M253.5 268.02h3.2" stroke="#999" stroke-width="0.9"/>
<path d="M253.5 38.5h5.3 M253.5 98.9h5.3 M253.5 159.3h5.3 M253.5 219.7h5.3 M253.5 280.1h5.3" stroke="#111" stroke-width="1.2"/>
<text stroke="#111" stroke-width="0.28" x="250" y="42.3" font-family="&quot;Liberation Sans&quot;, Arial, sans-serif" font-weight="bold" font-size="11" fill="#111" text-anchor="end">0</text>
<text stroke="#111" stroke-width="0.28" x="249.6" y="102.9" font-family="&quot;Liberation Sans&quot;, Arial, sans-serif" font-weight="bold" font-size="11" fill="#111" text-anchor="end">-1</text>
<text stroke="#111" stroke-width="0.28" x="249.6" y="163.3" font-family="&quot;Liberation Sans&quot;, Arial, sans-serif" font-weight="bold" font-size="11" fill="#111" text-anchor="end">-2</text>
<text stroke="#111" stroke-width="0.28" x="249.6" y="223.7" font-family="&quot;Liberation Sans&quot;, Arial, sans-serif" font-weight="bold" font-size="11" fill="#111" text-anchor="end">-3</text>
<text stroke="#111" stroke-width="0.28" x="249.6" y="284.1" font-family="&quot;Liberation Sans&quot;, Arial, sans-serif" font-weight="bold" font-size="11" fill="#111" text-anchor="end">-4</text>
<path d="M253.5 249.9H318.3" stroke="#a0a0bc" stroke-width="1.1"/>
<path d="M259.97 249.9v-2.6 M266.44 249.9v-2.6 M272.91 249.9v-2.6 M279.38 249.9v-2.6 M292.32 249.9v-2.6 M298.79 249.9v-2.6 M305.26 249.9v-2.6 M311.73 249.9v-2.6" stroke="#8c8cb0" stroke-width="0.9"/>
<path d="M253.5 249.9v-5 M285.85 249.9v-5 M318.2 249.9v-5" stroke="#111" stroke-width="1.2"/>
<text stroke="#111" stroke-width="0.28" x="253.5" y="264.2" font-family="&quot;Liberation Sans&quot;, Arial, sans-serif" font-weight="bold" font-size="11.3" fill="#111" text-anchor="middle">0</text>
<text stroke="#111" stroke-width="0.28" x="285.85" y="264.2" font-family="&quot;Liberation Sans&quot;, Arial, sans-serif" font-weight="bold" font-size="11.3" fill="#111" text-anchor="middle">0.015</text>
<text stroke="#111" stroke-width="0.28" x="318.2" y="264.2" font-family="&quot;Liberation Sans&quot;, Arial, sans-serif" font-weight="bold" font-size="11.3" fill="#111" text-anchor="middle">0.03</text>
<text stroke="#d81212" stroke-width="0.28" x="277.35" y="279.8" font-family="&quot;Liberation Sans&quot;, Arial, sans-serif" font-weight="bold" font-size="14.5" fill="#d81212" textLength="17.3" lengthAdjust="spacingAndGlyphs">H2</text>
<polyline points="256.2,38.5 257.3,60 258.4,86.7 263.3,98 264.8,110.9 270.4,122.2 271.6,135 274.5,148 277.8,159.4 283.5,170.5 289.6,181.5 300.6,194.7 304.5,202 306.5,213.8 308.2,228 309.4,243.2 310.6,262 311.6,285.9" fill="none" stroke="#2a2af0" stroke-width="1.3" stroke-linejoin="round"/>
<polyline points="314.1,38.5 314.4,70 314.7,98.8 311.6,110.1 303,122.9 300.9,137.8 297.9,155 294.7,169.7 290.3,181.5 282.9,193.2 272.6,205 264.6,218.2 260.1,231.5 257.9,246.2 256.2,265.3 255.3,285.9" fill="none" stroke="#e21a1a" stroke-width="1.3" stroke-linejoin="round"/>
</g>
<g transform="translate(377.6,0)">
<path d="M19.2 10.9V39.6H48" stroke="#1a1a1a" stroke-width="1.3" fill="none"/><path d="M19.5 30.4H28.2V39.2" stroke="#999" stroke-width="0.9" fill="none"/><text x="16.9" y="6.7" font-family="&quot;Liberation Sans&quot;, Arial, sans-serif" font-size="10.5" fill="#333">z</text><text x="52.2" y="42" font-family="&quot;Liberation Sans&quot;, Arial, sans-serif" font-size="10.5" fill="#333">x</text>
<text stroke="#111" stroke-width="0.28" x="70.7" y="23.5" font-family="&quot;Liberation Sans&quot;, Arial, sans-serif" font-weight="bold" font-size="20.3" fill="#111" textLength="25.7" lengthAdjust="spacingAndGlyphs">(h)</text>
<path d="M3 96.4H70.6M92.8 96.4H144.3V286.4 M3 104.7H59.3M104.1 104.7H137.5V115.4H203.5V123.1H137.5V133.4H132.2 M132.2 137.9H137.5V198.6H132.2M132.2 203.6H137.5V265.5H132.2M132.2 270H137.5V286.4 M3 133.5H31.3 M3 137.6H31.3 M3 166.5H31.3 M3 170.6H31.3 M3 199.5H31.3 M3 203.7H31.3 M3 232.3H31.3 M3 236.7H31.3 M3 265.7H31.3 M3 270H31.3" stroke="#9a9a9a" stroke-width="1" fill="none"/>
<clipPath id="cliph"><polygon points="70.6,37.9 92.8,37.9 92.8,96.5 132.2,124.9 132.2,286.4 31.3,286.4 31.3,124.9 70.6,96.5"/></clipPath>
<g clip-path="url(#cliph)">
<polygon points="70.6,37.9 92.8,37.9 92.8,96.5 132.2,124.9 132.2,286.4 31.3,286.4 31.3,124.9 70.6,96.5" fill="#1a1aff"/>
<polygon points="18,20 18,108 19.5,109.8 21,111.6 22.5,113.4 24,115.2 25.5,117 27,118.8 28.5,120.6 30,122.4 31.5,124.2 33,126 33.7,128.2 34.1,130.6 34.5,132.9 34.9,135.2 35.3,137.5 35.6,139.8 36,142.2 36.4,144.5 36.8,146.8 37.2,149.1 37.6,151.4 38,153.7 38.4,156.1 38.8,158.4 39.2,160.7 39.7,163 40.1,165.3 40.6,167.6 41.1,169.9 41.7,172.2 42.2,174.5 42.8,176.8 43.4,179.1 44,181.3 44.6,183.6 45.3,185.9 46,188.1 46.6,190.4 47.4,192.6 48.1,194.9 48.9,197.1 49.7,199.3 50.5,201.5 51.3,203.7 52.2,205.9 53,208.1 53.7,210.3 54.5,212.5 55.2,214.7 56,217 56.7,219.2 57.4,221.4 58,223.7 58.8,225.9 59.6,228.1 60.4,230.3 61.4,232.4 62.5,234.5 63.7,236.5 65,238.4 66.5,240.3 68.1,242 69.9,243.5 71.7,245 73.6,246.3 75.6,247.5 77.7,248.6 79.9,249.3 82.2,249.8 84.6,249.8 86.9,249.3 89.1,248.6 91.2,247.5 93.2,246.3 95.1,245 96.9,243.5 98.7,242 100.3,240.3 101.8,238.4 103.1,236.5 104.3,234.5 105.4,232.4 106.4,230.3 107.2,228.1 108,225.9 108.8,223.7 109.4,221.4 110.1,219.2 110.8,217 111.6,214.7 112.3,212.5 113.1,210.3 113.8,208.1 114.6,205.9 115.5,203.7 116.3,201.5 117.1,199.3 117.8,197.1 118.5,194.9 119.1,192.6 119.7,190.4 120.3,188.1 120.9,185.9 121.4,183.6 122,181.3 122.5,179.1 123,176.8 123.5,174.5 123.9,172.2 124.3,169.9 124.8,167.6 125.1,165.3 125.5,163 125.8,160.7 126.1,158.4 126.5,156.1 126.8,153.7 127.1,151.4 127.4,149.1 127.7,146.8 128,144.5 128.2,142.2 128.5,139.8 128.8,137.5 129.1,135.2 129.4,132.9 129.6,130.6 130,128.2 130.6,126 132,124.2 133.5,122.4 135,120.6 136.5,118.8 138,117 139.5,115.2 141,113.4 142.5,111.6 144,109.8 145.5,108 145.5,20" fill="#1e60f6"/>
<polygon points="21.7,20 21.7,107.1 23.1,108.8 24.5,110.4 25.9,112.1 27.3,113.8 28.7,115.5 30.1,117.1 31.4,118.8 32.8,120.5 34.2,122.2 35.5,123.9 36.1,126 36.5,128.1 36.9,130.3 37.2,132.4 37.5,134.6 37.8,136.7 38.2,138.8 38.5,141 38.8,143.1 39.2,145.2 39.5,147.3 39.9,149.4 40.3,151.6 40.6,153.7 41,155.8 41.4,157.8 41.8,159.9 42.3,162 42.7,164 43.2,166.1 43.7,168.1 44.3,170.2 44.8,172.2 45.4,174.2 46,176.1 46.7,178.1 47.3,180.1 48,182 48.7,183.9 49.5,185.8 50.2,187.7 51,189.6 51.9,191.4 52.7,193.3 53.6,195.1 54.5,196.9 55.3,198.7 56.1,200.5 56.9,202.3 57.6,204.1 58.4,205.9 59.1,207.7 59.8,209.5 60.6,211.3 61.4,213.1 62.3,214.8 63.3,216.5 64.3,218.1 65.5,219.7 66.8,221.2 68.1,222.6 69.6,224 71.2,225.2 72.9,226.3 74.7,227.4 76.5,228.3 78.3,229.1 80.3,229.8 82.4,230.1 84.4,230.1 86.5,229.8 88.5,229.1 90.3,228.3 92.1,227.4 93.9,226.3 95.6,225.2 97.2,224 98.7,222.6 100,221.2 101.3,219.7 102.5,218.1 103.5,216.5 104.5,214.8 105.4,213.1 106.2,211.3 107,209.5 107.7,207.7 108.4,205.9 109.2,204.1 109.9,202.3 110.7,200.5 111.5,198.7 112.2,196.9 113,195.1 113.8,193.3 114.5,191.4 115.3,189.6 116,187.7 116.7,185.8 117.4,183.9 118,182 118.6,180.1 119.2,178.1 119.7,176.1 120.2,174.2 120.7,172.2 121.2,170.2 121.7,168.1 122.1,166.1 122.5,164 122.9,162 123.2,159.9 123.5,157.8 123.8,155.8 124.1,153.7 124.4,151.6 124.7,149.4 124.9,147.3 125.2,145.2 125.5,143.1 125.7,141 125.9,138.8 126.2,136.7 126.4,134.6 126.6,132.4 126.9,130.3 127.1,128.1 127.4,126 128,123.9 129.3,122.2 130.7,120.5 132.1,118.8 133.4,117.1 134.8,115.5 136.2,113.8 137.6,112.1 139,110.4 140.4,108.8 141.8,107.1 141.8,20" fill="#2096f2"/>
<polygon points="25,20 25,106.2 26.3,107.8 27.6,109.4 28.9,111 30.2,112.5 31.5,114.1 32.8,115.7 34.1,117.2 35.3,118.8 36.6,120.4 37.8,122 38.3,124 38.6,126 38.9,128 39.2,130 39.5,132 39.8,134 40,135.9 40.3,137.9 40.6,139.9 40.9,141.9 41.2,143.9 41.5,145.8 41.8,147.8 42.1,149.8 42.5,151.7 42.8,153.7 43.2,155.6 43.6,157.5 44,159.5 44.4,161.4 44.9,163.3 45.4,165.2 45.9,167 46.5,168.9 47.1,170.7 47.7,172.6 48.3,174.4 48.9,176.2 49.6,178 50.4,179.7 51.1,181.4 51.9,183.2 52.7,184.8 53.6,186.5 54.4,188.2 55.3,189.8 56.1,191.5 56.9,193.1 57.7,194.8 58.6,196.4 59.3,198 60.1,199.6 60.9,201.3 61.6,202.9 62.5,204.4 63.3,206 64.3,207.5 65.4,208.9 66.5,210.3 67.7,211.7 69,212.9 70.4,214.1 72,215.2 73.6,216.2 75.2,217.1 76.9,218 78.7,218.7 80.5,219.2 82.4,219.6 84.4,219.6 86.3,219.2 88.1,218.7 89.9,218 91.6,217.1 93.2,216.2 94.8,215.2 96.4,214.1 97.8,212.9 99.1,211.7 100.3,210.3 101.4,208.9 102.5,207.5 103.5,206 104.3,204.4 105.2,202.9 105.9,201.3 106.7,199.6 107.4,198 108.1,196.4 108.8,194.8 109.6,193.1 110.3,191.5 111.1,189.8 111.8,188.2 112.6,186.5 113.4,184.8 114.1,183.2 114.8,181.4 115.5,179.7 116.2,178 116.8,176.2 117.4,174.4 117.9,172.6 118.4,170.7 118.9,168.9 119.4,167 119.9,165.2 120.3,163.3 120.7,161.4 121,159.5 121.4,157.5 121.7,155.6 122,153.7 122.2,151.7 122.5,149.8 122.7,147.8 122.9,145.8 123.1,143.9 123.4,141.9 123.6,139.9 123.8,137.9 123.9,135.9 124.1,134 124.3,132 124.5,130 124.7,128 124.9,126 125.2,124 125.7,122 126.9,120.4 128.2,118.8 129.4,117.2 130.7,115.7 132,114.1 133.3,112.5 134.6,111 135.9,109.4 137.2,107.8 138.5,106.2 138.5,20" fill="#1ad8f5"/>
<polygon points="27,20 27,105.8 28.2,107.3 29.4,108.8 30.7,110.3 31.9,111.8 33.1,113.3 34.4,114.8 35.6,116.3 36.8,117.8 38,119.3 39.1,120.9 39.6,122.8 39.9,124.7 40.2,126.6 40.4,128.5 40.7,130.4 40.9,132.3 41.2,134.2 41.4,136.1 41.7,138 41.9,139.9 42.2,141.7 42.5,143.6 42.8,145.5 43.1,147.3 43.4,149.1 43.7,151 44.1,152.8 44.4,154.6 44.8,156.4 45.2,158.2 45.7,159.9 46.2,161.7 46.7,163.4 47.2,165.1 47.8,166.8 48.4,168.5 49,170.2 49.7,171.8 50.4,173.4 51.1,175 51.8,176.5 52.6,178 53.4,179.5 54.3,181 55.1,182.5 56,183.9 56.8,185.3 57.6,186.8 58.5,188.2 59.3,189.6 60.1,191 60.9,192.4 61.7,193.7 62.5,195.1 63.4,196.4 64.3,197.7 65.3,199 66.4,200.2 67.5,201.4 68.7,202.5 69.9,203.6 71.3,204.5 72.7,205.4 74.2,206.2 75.8,207 77.4,207.8 79,208.4 80.7,208.8 82.5,209.1 84.3,209.1 86.1,208.8 87.8,208.4 89.4,207.8 91,207 92.6,206.2 94.1,205.4 95.5,204.5 96.9,203.6 98.1,202.5 99.3,201.4 100.4,200.2 101.5,199 102.4,197.7 103.3,196.4 104.1,195.1 104.9,193.7 105.6,192.4 106.3,191 107.1,189.6 107.8,188.2 108.6,186.8 109.3,185.3 110.1,183.9 110.9,182.5 111.7,181 112.5,179.5 113.2,178 113.9,176.5 114.6,175 115.3,173.4 115.9,171.8 116.5,170.2 117,168.5 117.5,166.8 118,165.1 118.5,163.4 119,161.7 119.4,159.9 119.7,158.2 120.1,156.4 120.4,154.6 120.7,152.8 120.9,151 121.2,149.1 121.4,147.3 121.6,145.5 121.8,143.6 122,141.7 122.2,139.9 122.4,138 122.6,136.1 122.7,134.2 122.9,132.3 123.1,130.4 123.2,128.5 123.4,126.6 123.6,124.7 123.9,122.8 124.4,120.9 125.5,119.3 126.7,117.8 127.9,116.3 129.1,114.8 130.4,113.3 131.6,111.8 132.8,110.3 134.1,108.8 135.3,107.3 136.5,105.8 136.5,20" fill="#1ae8da"/>
<polygon points="28.3,20 28.3,105.4 29.5,106.9 30.7,108.4 31.9,109.8 33.1,111.3 34.3,112.7 35.5,114.2 36.6,115.7 37.8,117.2 39,118.6 40,120.2 40.5,122 40.8,123.8 41,125.7 41.3,127.5 41.5,129.4 41.7,131.2 41.9,133 42.1,134.9 42.4,136.7 42.6,138.5 42.9,140.3 43.1,142.1 43.4,143.9 43.7,145.7 44,147.5 44.3,149.2 44.6,151 45,152.7 45.3,154.5 45.7,156.2 46.2,157.9 46.6,159.6 47.2,161.2 47.7,162.9 48.2,164.5 48.8,166.1 49.4,167.7 50.1,169.2 50.8,170.8 51.5,172.2 52.2,173.7 53,175.2 53.8,176.6 54.7,177.9 55.5,179.3 56.4,180.7 57.2,182 58,183.3 58.8,184.7 59.7,186 60.5,187.3 61.3,188.6 62.1,189.8 62.9,191.1 63.8,192.3 64.7,193.5 65.7,194.7 66.8,195.8 67.9,196.9 69.1,197.9 70.3,198.9 71.7,199.8 73.1,200.6 74.6,201.3 76,202 77.6,202.7 79.2,203.2 80.8,203.7 82.5,203.9 84.3,203.9 86,203.7 87.6,203.2 89.2,202.7 90.8,202 92.2,201.3 93.7,200.6 95.1,199.8 96.4,198.9 97.6,197.9 98.8,196.9 99.9,195.8 100.9,194.7 101.8,193.5 102.7,192.3 103.5,191.1 104.3,189.8 105,188.6 105.8,187.3 106.5,186 107.3,184.7 108,183.3 108.8,182 109.6,180.7 110.4,179.3 111.1,177.9 111.9,176.6 112.7,175.2 113.4,173.7 114.1,172.2 114.8,170.8 115.4,169.2 115.9,167.7 116.5,166.1 117,164.5 117.5,162.9 117.9,161.2 118.4,159.6 118.8,157.9 119.1,156.2 119.5,154.5 119.8,152.7 120,151 120.3,149.2 120.5,147.5 120.7,145.7 120.9,143.9 121.1,142.1 121.3,140.3 121.5,138.5 121.6,136.7 121.8,134.9 121.9,133 122.1,131.2 122.2,129.4 122.3,127.5 122.5,125.7 122.7,123.8 123,122 123.5,120.2 124.5,118.6 125.7,117.2 126.9,115.7 128,114.2 129.2,112.7 130.4,111.3 131.6,109.8 132.8,108.4 134,106.9 135.2,105.4 135.2,20" fill="#1ae88e"/>
<polygon points="29.5,20 29.5,105.1 30.7,106.5 31.8,108 33,109.4 34.1,110.8 35.3,112.2 36.5,113.7 37.6,115.1 38.7,116.5 39.8,118 40.8,119.5 41.3,121.2 41.6,123 41.8,124.8 42,126.6 42.2,128.4 42.4,130.2 42.6,131.9 42.9,133.7 43.1,135.4 43.3,137.2 43.5,138.9 43.8,140.6 44,142.4 44.3,144.1 44.6,145.8 44.9,147.4 45.2,149.1 45.5,150.8 45.9,152.4 46.3,154 46.7,155.6 47.2,157.2 47.7,158.7 48.2,160.3 48.8,161.8 49.3,163.3 49.9,164.7 50.6,166.1 51.3,167.5 52,168.9 52.7,170.2 53.5,171.5 54.3,172.7 55.2,174 56,175.2 56.9,176.4 57.7,177.5 58.5,178.7 59.4,179.8 60.2,181 61,182.1 61.8,183.2 62.7,184.3 63.5,185.3 64.4,186.4 65.3,187.4 66.3,188.3 67.4,189.3 68.5,190.1 69.6,191 70.8,191.8 72.1,192.5 73.5,193.2 74.9,193.8 76.3,194.4 77.8,194.9 79.3,195.4 80.9,195.8 82.5,196 84.1,196 85.7,195.8 87.3,195.4 88.8,194.9 90.2,194.4 91.6,193.8 93,193.2 94.3,192.5 95.6,191.8 96.8,191 97.9,190.1 99,189.3 100,188.3 100.9,187.4 101.8,186.4 102.6,185.3 103.5,184.3 104.2,183.2 105,182.1 105.8,181 106.5,179.8 107.3,178.7 108.1,177.5 108.9,176.4 109.7,175.2 110.5,174 111.3,172.7 112,171.5 112.7,170.2 113.4,168.9 114.1,167.5 114.7,166.1 115.3,164.7 115.9,163.3 116.4,161.8 116.9,160.3 117.3,158.7 117.7,157.2 118.1,155.6 118.5,154 118.8,152.4 119.1,150.8 119.4,149.1 119.6,147.4 119.8,145.8 120,144.1 120.2,142.4 120.4,140.6 120.6,138.9 120.7,137.2 120.9,135.4 121,133.7 121.2,131.9 121.3,130.2 121.4,128.4 121.5,126.6 121.7,124.8 121.9,123 122.2,121.2 122.7,119.5 123.7,118 124.8,116.5 125.9,115.1 127,113.7 128.2,112.2 129.4,110.8 130.5,109.4 131.7,108 132.8,106.5 134,105.1 134,20" fill="#18f03c"/>
<polygon points="30.8,20 30.8,104.8 31.9,106.2 33,107.6 34.1,108.9 35.3,110.3 36.4,111.7 37.5,113.1 38.6,114.5 39.7,115.9 40.8,117.3 41.7,118.7 42.2,120.4 42.4,122.2 42.6,123.9 42.9,125.6 43,127.4 43.2,129.1 43.4,130.8 43.6,132.5 43.8,134.1 44,135.8 44.2,137.5 44.5,139.1 44.7,140.8 45,142.4 45.2,144 45.5,145.6 45.8,147.2 46.1,148.7 46.5,150.3 46.9,151.8 47.3,153.3 47.7,154.7 48.2,156.2 48.7,157.6 49.3,159 49.8,160.4 50.4,161.7 51.1,163 51.8,164.2 52.5,165.5 53.3,166.6 54,167.8 54.9,168.9 55.7,169.9 56.5,171 57.4,172 58.2,173 59.1,174 59.9,175 60.7,175.9 61.6,176.8 62.4,177.8 63.2,178.7 64.1,179.5 65,180.4 65.9,181.2 66.9,182 67.9,182.7 69,183.4 70.2,184.1 71.3,184.7 72.6,185.3 73.9,185.8 75.2,186.3 76.6,186.8 78,187.2 79.4,187.6 80.9,187.9 82.4,188.1 83.9,188.1 85.4,187.9 86.8,187.6 88.3,187.2 89.6,186.8 91,186.3 92.3,185.8 93.6,185.3 94.8,184.7 95.9,184.1 97,183.4 98.1,182.7 99.1,182 100.1,181.2 100.9,180.4 101.8,179.5 102.6,178.7 103.4,177.8 104.2,176.8 105,175.9 105.8,175 106.6,174 107.4,173 108.2,172 109,171 109.8,169.9 110.6,168.9 111.3,167.8 112.1,166.6 112.8,165.5 113.5,164.2 114.1,163 114.7,161.7 115.2,160.4 115.7,159 116.2,157.6 116.7,156.2 117.1,154.7 117.5,153.3 117.8,151.8 118.1,150.3 118.4,148.7 118.7,147.2 118.9,145.6 119.1,144 119.3,142.4 119.5,140.8 119.7,139.1 119.8,137.5 120,135.8 120.1,134.1 120.2,132.5 120.4,130.8 120.5,129.1 120.6,127.4 120.7,125.6 120.9,123.9 121.1,122.2 121.3,120.4 121.8,118.7 122.7,117.3 123.8,115.9 124.9,114.5 126,113.1 127.1,111.7 128.2,110.3 129.4,108.9 130.5,107.6 131.6,106.2 132.7,104.8 132.7,20" fill="#48f01a"/>
<polygon points="32.4,20 32.4,104.4 33.5,105.7 34.5,107.1 35.6,108.4 36.7,109.7 37.7,111 38.8,112.4 39.9,113.7 40.9,115.1 41.9,116.4 42.8,117.8 43.3,119.4 43.5,121.1 43.7,122.8 43.9,124.4 44,126.1 44.2,127.7 44.3,129.3 44.5,130.9 44.7,132.5 44.9,134.1 45.1,135.7 45.3,137.2 45.5,138.8 45.8,140.3 46,141.8 46.3,143.3 46.6,144.8 46.8,146.2 47.2,147.7 47.5,149.1 48,150.4 48.4,151.8 48.9,153.1 49.4,154.4 49.9,155.7 50.5,156.9 51.1,158.1 51.7,159.2 52.4,160.3 53.1,161.4 53.9,162.4 54.6,163.4 55.5,164.3 56.3,165.2 57.2,166 58,166.9 58.8,167.7 59.7,168.5 60.5,169.2 61.4,170 62.2,170.7 63.1,171.4 63.9,172.1 64.8,172.8 65.7,173.4 66.6,174 67.6,174.6 68.6,175.1 69.7,175.6 70.8,176 71.9,176.5 73.1,176.9 74.4,177.2 75.6,177.6 76.9,177.9 78.2,178.2 79.5,178.5 80.9,178.7 82.2,178.9 83.6,178.9 85,178.7 86.4,178.5 87.7,178.2 88.9,177.9 90.2,177.6 91.4,177.2 92.7,176.9 93.8,176.5 94.9,176 96,175.6 97.1,175.1 98.1,174.6 99,174 99.9,173.4 100.8,172.8 101.7,172.1 102.5,171.4 103.3,170.7 104.1,170 104.9,169.2 105.7,168.5 106.5,167.7 107.3,166.9 108.2,166 109,165.2 109.8,164.3 110.5,163.4 111.3,162.4 112,161.4 112.7,160.3 113.3,159.2 113.9,158.1 114.4,156.9 114.9,155.7 115.4,154.4 115.9,153.1 116.3,151.8 116.7,150.4 117,149.1 117.3,147.7 117.6,146.2 117.8,144.8 118,143.3 118.2,141.8 118.4,140.3 118.6,138.8 118.7,137.2 118.9,135.7 119,134.1 119.2,132.5 119.3,130.9 119.4,129.3 119.5,127.7 119.5,126.1 119.6,124.4 119.8,122.8 120,121.1 120.2,119.4 120.7,117.8 121.6,116.4 122.6,115.1 123.6,113.7 124.7,112.4 125.8,111 126.8,109.7 127.9,108.4 129,107.1 130,105.7 131.1,104.4 131.1,20" fill="#88f01a"/>
<polygon points="34,20 34,104 35,105.3 36,106.6 37.1,107.8 38.1,109.1 39.1,110.4 40.1,111.7 41.1,113 42.1,114.3 43.1,115.6 43.9,116.9 44.3,118.5 44.5,120.1 44.7,121.7 44.9,123.3 45,124.8 45.1,126.4 45.2,127.9 45.4,129.5 45.5,131 45.7,132.5 45.9,134 46.1,135.5 46.3,137 46.5,138.4 46.7,139.9 46.9,141.3 47.2,142.7 47.5,144.1 47.8,145.4 48.1,146.8 48.5,148.1 48.9,149.4 49.4,150.6 49.9,151.9 50.4,153 50.9,154.2 51.5,155.3 52.2,156.4 52.8,157.4 53.6,158.4 54.3,159.3 55.1,160.2 55.9,161.1 56.7,161.9 57.6,162.7 58.4,163.4 59.3,164.2 60.1,164.9 60.9,165.5 61.8,166.2 62.6,166.9 63.5,167.5 64.3,168.1 65.2,168.6 66.1,169.2 67,169.7 68,170.2 69,170.6 70.1,171 71.2,171.4 72.3,171.7 73.4,172.1 74.6,172.4 75.8,172.6 77,172.9 78.3,173.2 79.6,173.4 80.8,173.6 82.2,173.7 83.5,173.7 84.8,173.6 86.1,173.4 87.3,173.2 88.6,172.9 89.8,172.6 91,172.4 92.2,172.1 93.3,171.7 94.4,171.4 95.4,171 96.5,170.6 97.5,170.2 98.4,169.7 99.3,169.2 100.2,168.6 101.1,168.1 101.9,167.5 102.7,166.9 103.5,166.2 104.3,165.5 105.2,164.9 106,164.2 106.8,163.4 107.6,162.7 108.4,161.9 109.2,161.1 110,160.2 110.7,159.3 111.4,158.4 112.1,157.4 112.7,156.4 113.3,155.3 113.8,154.2 114.3,153 114.8,151.9 115.2,150.6 115.6,149.4 116,148.1 116.3,146.8 116.6,145.4 116.9,144.1 117.1,142.7 117.3,141.3 117.5,139.9 117.6,138.4 117.8,137 117.9,135.5 118,134 118.1,132.5 118.2,131 118.3,129.5 118.4,127.9 118.5,126.4 118.5,124.8 118.6,123.3 118.8,121.7 119,120.1 119.2,118.5 119.6,116.9 120.4,115.6 121.4,114.3 122.4,113 123.4,111.7 124.4,110.4 125.4,109.1 126.4,107.8 127.5,106.6 128.5,105.3 129.5,104 129.5,20" fill="#caf01a"/>
<polygon points="36,20 36,103.5 37,104.7 37.9,105.9 38.9,107.1 39.9,108.3 40.8,109.6 41.8,110.8 42.7,112 43.6,113.2 44.5,114.5 45.3,115.8 45.7,117.3 45.9,118.8 46,120.3 46.2,121.8 46.2,123.2 46.3,124.7 46.4,126.2 46.5,127.6 46.6,129.1 46.7,130.5 46.9,131.9 47,133.3 47.2,134.7 47.4,136 47.6,137.4 47.8,138.7 48,140 48.3,141.3 48.6,142.6 48.9,143.8 49.2,145.1 49.6,146.2 50.1,147.4 50.5,148.5 51,149.6 51.6,150.7 52.1,151.7 52.8,152.7 53.4,153.6 54.1,154.5 54.9,155.3 55.6,156.1 56.5,156.8 57.3,157.5 58.1,158.2 59,158.8 59.8,159.4 60.6,160 61.5,160.6 62.3,161.1 63.2,161.6 64,162.1 64.9,162.6 65.8,163 66.7,163.4 67.6,163.8 68.6,164.1 69.6,164.4 70.6,164.7 71.7,164.9 72.7,165.2 73.8,165.4 75,165.6 76.1,165.8 77.3,165.9 78.4,166.1 79.6,166.3 80.8,166.4 82.1,166.6 83.3,166.6 84.5,166.4 85.7,166.3 86.9,166.1 88,165.9 89.2,165.8 90.3,165.6 91.4,165.4 92.5,165.2 93.6,164.9 94.6,164.7 95.6,164.4 96.6,164.1 97.6,163.8 98.5,163.4 99.4,163 100.2,162.6 101.1,162.1 101.9,161.6 102.8,161.1 103.6,160.6 104.4,160 105.2,159.4 106,158.8 106.8,158.2 107.7,157.5 108.4,156.8 109.2,156.1 110,155.3 110.7,154.5 111.3,153.6 111.9,152.7 112.5,151.7 113.1,150.7 113.5,149.6 114,148.5 114.4,147.4 114.8,146.2 115.1,145.1 115.4,143.8 115.7,142.6 115.9,141.3 116.1,140 116.3,138.7 116.5,137.4 116.6,136 116.7,134.7 116.8,133.3 116.9,131.9 117,130.5 117.1,129.1 117.1,127.6 117.2,126.2 117.2,124.7 117.3,123.2 117.3,121.8 117.5,120.3 117.6,118.8 117.8,117.3 118.2,115.8 119,114.5 119.9,113.2 120.8,112 121.7,110.8 122.7,109.6 123.6,108.3 124.6,107.1 125.6,105.9 126.5,104.7 127.5,103.5 127.5,20" fill="#ffe41a"/>
<polygon points="41.2,20 41.2,102.2 42,103.3 42.8,104.3 43.6,105.3 44.4,106.4 45.2,107.4 46,108.5 46.8,109.5 47.5,110.6 48.2,111.7 48.7,112.9 49.1,114.2 49.2,115.4 49.3,116.7 49.4,118 49.3,119.3 49.3,120.6 49.2,121.8 49.2,123.1 49.2,124.3 49.3,125.6 49.3,126.8 49.4,128 49.4,129.2 49.5,130.5 49.6,131.7 49.8,132.8 49.9,134 50.1,135.2 50.3,136.3 50.5,137.5 50.8,138.6 51.1,139.7 51.5,140.8 51.9,141.8 52.3,142.8 52.8,143.8 53.3,144.8 53.9,145.7 54.5,146.6 55.2,147.4 55.9,148.2 56.6,149 57.4,149.7 58.2,150.3 59,151 59.8,151.6 60.6,152.2 61.4,152.8 62.3,153.3 63.1,153.9 63.9,154.4 64.8,154.9 65.7,155.3 66.5,155.7 67.4,156.1 68.3,156.5 69.3,156.8 70.3,157.1 71.2,157.4 72.2,157.6 73.3,157.8 74.3,158 75.4,158.2 76.4,158.4 77.5,158.5 78.6,158.7 79.7,158.8 80.8,158.9 81.9,159.1 83.1,159.1 84.2,158.9 85.3,158.8 86.4,158.7 87.5,158.5 88.5,158.4 89.6,158.2 90.6,158 91.7,157.8 92.7,157.6 93.7,157.4 94.7,157.1 95.6,156.8 96.5,156.5 97.4,156.1 98.3,155.7 99.2,155.3 100,154.9 100.8,154.4 101.7,153.9 102.5,153.3 103.3,152.8 104.1,152.2 104.9,151.6 105.7,151 106.4,150.3 107.2,149.7 107.9,149 108.6,148.2 109.3,147.4 109.9,146.6 110.5,145.7 111.1,144.8 111.5,143.8 112,142.8 112.4,141.8 112.7,140.8 113.1,139.7 113.3,138.6 113.5,137.5 113.7,136.3 113.9,135.2 114,134 114.1,132.8 114.2,131.7 114.2,130.5 114.2,129.2 114.3,128 114.3,126.8 114.3,125.6 114.3,124.3 114.3,123.1 114.3,121.8 114.2,120.6 114.2,119.3 114.1,118 114.2,116.7 114.3,115.4 114.4,114.2 114.8,112.9 115.3,111.7 116,110.6 116.7,109.5 117.5,108.5 118.3,107.4 119.1,106.4 119.9,105.3 120.7,104.3 121.5,103.3 122.3,102.2 122.3,20" fill="#ff8e1a"/>
<polygon points="45.3,20 45.3,101.2 46,102.1 46.7,103 47.4,103.9 48,104.8 48.7,105.7 49.4,106.6 50,107.6 50.6,108.5 51.1,109.5 51.5,110.6 51.8,111.7 51.9,112.8 51.9,113.9 51.9,115 51.8,116.1 51.7,117.2 51.6,118.3 51.5,119.4 51.4,120.5 51.4,121.6 51.3,122.7 51.3,123.8 51.3,124.8 51.3,125.9 51.3,127 51.3,128.1 51.4,129.1 51.5,130.2 51.7,131.3 51.8,132.3 52,133.3 52.3,134.4 52.6,135.4 53,136.3 53.4,137.3 53.8,138.2 54.3,139.1 54.8,140 55.4,140.9 56,141.7 56.7,142.4 57.4,143.1 58.2,143.8 58.9,144.4 59.7,145.1 60.5,145.7 61.3,146.3 62.1,146.8 62.9,147.4 63.7,147.9 64.6,148.4 65.4,148.8 66.3,149.3 67.2,149.7 68,150.1 68.9,150.4 69.9,150.7 70.8,151 71.8,151.2 72.7,151.5 73.7,151.7 74.7,151.8 75.7,152 76.7,152.1 77.7,152.3 78.7,152.4 79.8,152.5 80.8,152.6 81.8,152.7 82.9,152.7 83.9,152.6 84.9,152.5 86,152.4 87,152.3 88,152.1 89,152 90,151.8 91,151.7 91.9,151.5 92.9,151.2 93.8,151 94.8,150.7 95.7,150.4 96.6,150.1 97.4,149.7 98.3,149.3 99.1,148.8 99.9,148.4 100.8,147.9 101.6,147.4 102.4,146.8 103.1,146.3 103.9,145.7 104.7,145.1 105.4,144.4 106.2,143.8 106.9,143.1 107.5,142.4 108.2,141.7 108.8,140.9 109.3,140 109.8,139.1 110.3,138.2 110.7,137.3 111,136.3 111.4,135.4 111.6,134.4 111.8,133.3 112,132.3 112.1,131.3 112.2,130.2 112.2,129.1 112.3,128.1 112.3,127 112.3,125.9 112.2,124.8 112.2,123.8 112.2,122.7 112.1,121.6 112.1,120.5 112,119.4 111.9,118.3 111.8,117.2 111.7,116.1 111.6,115 111.6,113.9 111.6,112.8 111.7,111.7 112,110.6 112.4,109.5 112.9,108.5 113.5,107.6 114.1,106.6 114.8,105.7 115.5,104.8 116.1,103.9 116.8,103 117.5,102.1 118.2,101.2 118.2,20" fill="#ff501a"/>
<polygon points="50,20 50,100 50.5,100.8 51.1,101.5 51.6,102.3 52.2,103 52.7,103.8 53.2,104.5 53.7,105.3 54.1,106.2 54.5,107 54.7,107.9 54.9,108.8 54.9,109.8 54.9,110.7 54.9,111.6 54.6,112.5 54.4,113.4 54.3,114.3 54.1,115.2 53.9,116.2 53.8,117.1 53.6,118 53.5,118.9 53.4,119.8 53.3,120.8 53.3,121.7 53.2,122.6 53.2,123.6 53.2,124.5 53.3,125.4 53.3,126.3 53.5,127.3 53.7,128.2 53.9,129.1 54.2,130 54.6,130.8 55,131.7 55.4,132.5 55.9,133.3 56.5,134.1 57.1,134.8 57.7,135.5 58.4,136.1 59.1,136.7 59.8,137.3 60.6,137.9 61.4,138.4 62.1,138.9 62.9,139.4 63.7,139.9 64.5,140.4 65.4,140.8 66.2,141.2 67.1,141.6 68,142 68.8,142.3 69.7,142.6 70.6,142.8 71.5,143 72.4,143.2 73.4,143.3 74.3,143.5 75.2,143.6 76.1,143.7 77.1,143.8 78,143.9 78.9,143.9 79.9,144 80.8,144.1 81.7,144.2 82.6,144.2 83.6,144.1 84.5,144 85.4,143.9 86.3,143.9 87.3,143.8 88.2,143.7 89.1,143.6 90,143.5 90.9,143.3 91.9,143.2 92.8,143 93.7,142.8 94.6,142.6 95.4,142.3 96.3,142 97.2,141.6 98,141.2 98.8,140.8 99.6,140.4 100.4,139.9 101.2,139.4 102,138.9 102.7,138.4 103.5,137.9 104.2,137.3 104.9,136.7 105.6,136.1 106.2,135.5 106.9,134.8 107.4,134.1 107.9,133.3 108.4,132.5 108.8,131.7 109.2,130.8 109.5,130 109.8,129.1 110,128.2 110.1,127.3 110.2,126.3 110.3,125.4 110.3,124.5 110.3,123.6 110.3,122.6 110.2,121.7 110.2,120.8 110.1,119.8 110,118.9 109.9,118 109.7,117.1 109.6,116.2 109.4,115.2 109.2,114.3 109.1,113.4 108.9,112.5 108.6,111.6 108.6,110.7 108.6,109.8 108.6,108.8 108.8,107.9 109,107 109.4,106.2 109.8,105.3 110.3,104.5 110.8,103.8 111.3,103 111.9,102.3 112.4,101.5 113,100.8 113.5,100 113.5,20" fill="#ff1a1a"/>
<rect x="70.6" y="37.9" width="22.2" height="59.1" fill="#ff1a1a"/>
</g>
<text stroke="#111" stroke-width="0.28" x="5" y="119.8" font-family="&quot;Liberation Sans&quot;, Arial, sans-serif" font-weight="bold" font-size="11.5" fill="#111" textLength="41" lengthAdjust="spacingAndGlyphs">Layer 1</text>
<text stroke="#111" stroke-width="0.28" x="5" y="156" font-family="&quot;Liberation Sans&quot;, Arial, sans-serif" font-weight="bold" font-size="11.5" fill="#111" textLength="41" lengthAdjust="spacingAndGlyphs">Layer 2</text>
<text stroke="#111" stroke-width="0.28" x="5" y="190" font-family="&quot;Liberation Sans&quot;, Arial, sans-serif" font-weight="bold" font-size="11.5" fill="#111" textLength="41" lengthAdjust="spacingAndGlyphs">Layer 3</text>
<text stroke="#111" stroke-width="0.28" x="5" y="218.5" font-family="&quot;Liberation Sans&quot;, Arial, sans-serif" font-weight="bold" font-size="11.5" fill="#111" textLength="41" lengthAdjust="spacingAndGlyphs">Layer 4</text>
<text stroke="#111" stroke-width="0.28" x="5" y="254.3" font-family="&quot;Liberation Sans&quot;, Arial, sans-serif" font-weight="bold" font-size="11.5" fill="#111" textLength="41" lengthAdjust="spacingAndGlyphs">Layer 5</text>
<text x="55.4" y="277.9" font-family="&quot;Liberation Sans&quot;, Arial, sans-serif" font-weight="bold" font-size="14.6" fill="#fff" textLength="60.4" lengthAdjust="spacingAndGlyphs">y=0.09m</text>
<text stroke="#111" stroke-width="0.28" x="147" y="13.4" font-family="&quot;Liberation Sans&quot;, Arial, sans-serif" font-weight="bold" font-size="12" fill="#111">Volatile matter</text>
<text stroke="#111" stroke-width="0.28" x="147" y="25.1" font-family="&quot;Liberation Sans&quot;, Arial, sans-serif" font-weight="bold" font-size="12" fill="#111">(H2)</text>
<rect x="146.3" y="31.8" width="15.5" height="3.3" fill="#ee0a0a"/>
<rect x="146.3" y="34.8" width="15.5" height="6.3" fill="#ff501a"/>
<rect x="146.3" y="40.8" width="15.5" height="6.3" fill="#ff8e1a"/>
<rect x="146.3" y="46.8" width="15.5" height="6.3" fill="#ffe41a"/>
<rect x="146.3" y="52.8" width="15.5" height="6.3" fill="#caf01a"/>
<rect x="146.3" y="58.8" width="15.5" height="6.3" fill="#88f01a"/>
<rect x="146.3" y="64.8" width="15.5" height="6.3" fill="#48f01a"/>
<rect x="146.3" y="70.8" width="15.5" height="6.3" fill="#18f03c"/>
<rect x="146.3" y="76.8" width="15.5" height="6.3" fill="#1ae88e"/>
<rect x="146.3" y="82.8" width="15.5" height="6.3" fill="#1ae8da"/>
<rect x="146.3" y="88.8" width="15.5" height="6.3" fill="#1ad8f5"/>
<rect x="146.3" y="94.8" width="15.5" height="6.3" fill="#2096f2"/>
<rect x="146.3" y="100.8" width="15.5" height="6.3" fill="#1e60f6"/>
<rect x="146.3" y="106.8" width="15.5" height="3.3" fill="#1010e6"/>
<text stroke="#111" stroke-width="0.28" x="169.3" y="40.5" font-family="&quot;Liberation Sans&quot;, Arial, sans-serif" font-weight="bold" font-size="10" fill="#111">0.026</text>
<text stroke="#111" stroke-width="0.28" x="169.3" y="52.5" font-family="&quot;Liberation Sans&quot;, Arial, sans-serif" font-weight="bold" font-size="10" fill="#111">0.022</text>
<text stroke="#111" stroke-width="0.28" x="169.3" y="64.5" font-family="&quot;Liberation Sans&quot;, Arial, sans-serif" font-weight="bold" font-size="10" fill="#111">0.018</text>
<text stroke="#111" stroke-width="0.28" x="169.3" y="76.5" font-family="&quot;Liberation Sans&quot;, Arial, sans-serif" font-weight="bold" font-size="10" fill="#111">0.014</text>
<text stroke="#111" stroke-width="0.28" x="169.3" y="88.5" font-family="&quot;Liberation Sans&quot;, Arial, sans-serif" font-weight="bold" font-size="10" fill="#111">0.01</text>
<text stroke="#111" stroke-width="0.28" x="169.3" y="100.5" font-family="&quot;Liberation Sans&quot;, Arial, sans-serif" font-weight="bold" font-size="10" fill="#111">0.006</text>
<text stroke="#111" stroke-width="0.28" x="169.3" y="112.5" font-family="&quot;Liberation Sans&quot;, Arial, sans-serif" font-weight="bold" font-size="10" fill="#111">0.002</text>
<text stroke="#2424e8" stroke-width="0.28" x="241" y="18.3" font-family="&quot;Liberation Sans&quot;, Arial, sans-serif" font-weight="bold" font-size="12" fill="#2424e8" textLength="88.8" lengthAdjust="spacingAndGlyphs">Temperature(K)</text>
<text stroke="#111" stroke-width="0.28" transform="translate(232,147) rotate(-90)" font-family="&quot;Liberation Sans&quot;, Arial, sans-serif" font-weight="bold" font-size="12" fill="#111" text-anchor="middle">The distance from furnace top(m)</text>
<path d="M253.5 38.5H318.5M253.5 38.5V286.4" stroke="#9a9a9a" stroke-width="1.1" fill="none"/>
<path d="M253.24 38.5v2.4 M258.62 38.5v2.4 M269.38 38.5v2.4 M274.76 38.5v2.4 M280.14 38.5v2.4 M285.52 38.5v2.4 M296.28 38.5v2.4 M301.66 38.5v2.4 M307.04 38.5v2.4 M312.42 38.5v2.4" stroke="#999" stroke-width="0.9"/>
<path d="M264 38.5v5 M290.9 38.5v5 M317.8 38.5v5" stroke="#111" stroke-width="1.2"/>
<text stroke="#111" stroke-width="0.28" x="264" y="32.6" font-family="&quot;Liberation Sans&quot;, Arial, sans-serif" font-weight="bold" font-size="10" fill="#111" text-anchor="middle">500</text>
<text stroke="#111" stroke-width="0.28" x="290.9" y="32.6" font-family="&quot;Liberation Sans&quot;, Arial, sans-serif" font-weight="bold" font-size="10" fill="#111" text-anchor="middle">1000</text>
<text stroke="#111" stroke-width="0.28" x="317.8" y="32.6" font-family="&quot;Liberation Sans&quot;, Arial, sans-serif" font-weight="bold" font-size="10" fill="#111" text-anchor="middle">1500</text>
<path d="M253.5 50.58h3.2 M253.5 62.66h3.2 M253.5 74.74h3.2 M253.5 86.82h3.2 M253.5 110.98h3.2 M253.5 123.06h3.2 M253.5 135.14h3.2 M253.5 147.22h3.2 M253.5 171.38h3.2 M253.5 183.46h3.2 M253.5 195.54h3.2 M253.5 207.62h3.2 M253.5 231.78h3.2 M253.5 243.86h3.2 M253.5 255.94h3.2 M253.5 268.02h3.2" stroke="#999" stroke-width="0.9"/>
<path d="M253.5 38.5h5.3 M253.5 98.9h5.3 M253.5 159.3h5.3 M253.5 219.7h5.3 M253.5 280.1h5.3" stroke="#111" stroke-width="1.2"/>
<text stroke="#111" stroke-width="0.28" x="250" y="42.3" font-family="&quot;Liberation Sans&quot;, Arial, sans-serif" font-weight="bold" font-size="11" fill="#111" text-anchor="end">0</text>
<text stroke="#111" stroke-width="0.28" x="249.6" y="102.9" font-family="&quot;Liberation Sans&quot;, Arial, sans-serif" font-weight="bold" font-size="11" fill="#111" text-anchor="end">-1</text>
<text stroke="#111" stroke-width="0.28" x="249.6" y="163.3" font-family="&quot;Liberation Sans&quot;, Arial, sans-serif" font-weight="bold" font-size="11" fill="#111" text-anchor="end">-2</text>
<text stroke="#111" stroke-width="0.28" x="249.6" y="223.7" font-family="&quot;Liberation Sans&quot;, Arial, sans-serif" font-weight="bold" font-size="11" fill="#111" text-anchor="end">-3</text>
<text stroke="#111" stroke-width="0.28" x="249.6" y="284.1" font-family="&quot;Liberation Sans&quot;, Arial, sans-serif" font-weight="bold" font-size="11" fill="#111" text-anchor="end">-4</text>
<path d="M253.5 249.9H318.3" stroke="#a0a0bc" stroke-width="1.1"/>
<path d="M259.97 249.9v-2.6 M266.44 249.9v-2.6 M272.91 249.9v-2.6 M279.38 249.9v-2.6 M292.32 249.9v-2.6 M298.79 249.9v-2.6 M305.26 249.9v-2.6 M311.73 249.9v-2.6" stroke="#8c8cb0" stroke-width="0.9"/>
<path d="M253.5 249.9v-5 M285.85 249.9v-5 M318.2 249.9v-5" stroke="#111" stroke-width="1.2"/>
<text stroke="#111" stroke-width="0.28" x="253.5" y="264.2" font-family="&quot;Liberation Sans&quot;, Arial, sans-serif" font-weight="bold" font-size="11.3" fill="#111" text-anchor="middle">0</text>
<text stroke="#111" stroke-width="0.28" x="285.85" y="264.2" font-family="&quot;Liberation Sans&quot;, Arial, sans-serif" font-weight="bold" font-size="11.3" fill="#111" text-anchor="middle">0.015</text>
<text stroke="#111" stroke-width="0.28" x="318.2" y="264.2" font-family="&quot;Liberation Sans&quot;, Arial, sans-serif" font-weight="bold" font-size="11.3" fill="#111" text-anchor="middle">0.03</text>
<text stroke="#d81212" stroke-width="0.28" x="277.35" y="279.8" font-family="&quot;Liberation Sans&quot;, Arial, sans-serif" font-weight="bold" font-size="14.5" fill="#d81212" textLength="17.3" lengthAdjust="spacingAndGlyphs">H2</text>
<polyline points="256.6,38.3 257.3,58.4 258.6,78 259.6,87.5 264.1,98 273.8,110 282.4,122.5 290.6,136.6 297.6,147.6 300.5,156 303.5,166 306.5,177.4 309.8,199.1 312.6,215.4 314.4,232 315.3,249.1 316.3,285.9" fill="none" stroke="#2a2af0" stroke-width="1.3" stroke-linejoin="round"/>
<polyline points="314.8,38.5 314.8,86.8 314.1,98.8 297,122.2 292.8,135 287.8,143.5 281.1,155 276,165 271.5,172.6 264.2,194.7 259,218.2 256.1,237.4 255,258 254.3,285.9" fill="none" stroke="#e21a1a" stroke-width="1.3" stroke-linejoin="round"/>
</g>
<g transform="translate(-0.8,330.3)">
<path d="M19.2 10.9V39.6H48" stroke="#1a1a1a" stroke-width="1.3" fill="none"/><path d="M19.5 30.4H28.2V39.2" stroke="#999" stroke-width="0.9" fill="none"/><text x="16.9" y="6.7" font-family="&quot;Liberation Sans&quot;, Arial, sans-serif" font-size="10.5" fill="#333">z</text><text x="52.2" y="42" font-family="&quot;Liberation Sans&quot;, Arial, sans-serif" font-size="10.5" fill="#333">x</text>
<text stroke="#111" stroke-width="0.28" x="73.7" y="21.3" font-family="&quot;Liberation Sans&quot;, Arial, sans-serif" font-weight="bold" font-size="16.2" fill="#111" textLength="15.1" lengthAdjust="spacingAndGlyphs">(i)</text>
<path d="M3 96.4H70.6M92.8 96.4H144.3V286.4 M3 104.7H59.3M104.1 104.7H137.5V115.4H203.5V123.1H137.5V133.4H132.2 M132.2 137.9H137.5V198.6H132.2M132.2 203.6H137.5V265.5H132.2M132.2 270H137.5V286.4 M3 133.5H31.3 M3 137.6H31.3 M3 166.5H31.3 M3 170.6H31.3 M3 199.5H31.3 M3 203.7H31.3 M3 232.3H31.3 M3 236.7H31.3 M3 265.7H31.3 M3 270H31.3" stroke="#9a9a9a" stroke-width="1" fill="none"/>
<clipPath id="clipi"><polygon points="70.6,37.9 92.8,37.9 92.8,96.5 132.2,124.9 132.2,286.4 31.3,286.4 31.3,124.9 70.6,96.5"/></clipPath>
<g clip-path="url(#clipi)">
<polygon points="70.6,37.9 92.8,37.9 92.8,96.5 132.2,124.9 132.2,286.4 31.3,286.4 31.3,124.9 70.6,96.5" fill="#1a1aff"/>
<polygon points="38,20 38,111 38.8,111.9 39.5,112.7 40.3,113.6 41.1,114.4 41.9,115.3 42.6,116.1 43.3,117 44,118 44.5,119 44.7,120.1 44.3,121.1 43.7,122.1 43.3,123.2 42.9,124.3 42.6,125.4 42.3,126.5 42.2,127.6 42,128.8 42,129.9 42,131.1 42,132.2 42.1,133.4 42.2,134.5 42.3,135.7 42.5,136.8 42.8,137.9 43.2,139 43.5,140.1 44,141.2 44.4,142.2 44.9,143.3 45.5,144.3 46.1,145.3 46.6,146.3 47.3,147.2 48,148.2 48.7,149.1 49.4,150 50.2,150.8 51,151.7 51.8,152.5 52.6,153.3 53.5,154 54.4,154.7 55.3,155.4 56.2,156.1 57.2,156.7 58.2,157.3 59.2,157.9 60.2,158.5 61.2,159 62.2,159.5 63.3,160 64.3,160.5 65.4,161 66.4,161.4 67.5,161.8 68.6,162.2 69.7,162.5 70.8,162.7 72,162.8 73.1,163 74.3,163.1 75.4,163.2 76.6,163.3 77.7,163.3 78.9,163.4 80,163.4 81.2,163.5 82.3,163.5 83.5,163.4 84.6,163.4 85.8,163.3 86.9,163.3 88.1,163.2 89.2,163.1 90.4,163 91.5,162.8 92.7,162.7 93.8,162.5 94.9,162.2 96,161.8 97.1,161.4 98.1,161 99.2,160.5 100.2,160 101.3,159.5 102.3,159 103.3,158.5 104.3,157.9 105.3,157.3 106.3,156.7 107.3,156.1 108.2,155.4 109.1,154.7 110,154 110.9,153.3 111.7,152.5 112.5,151.7 113.3,150.8 114.1,150 114.8,149.1 115.5,148.2 116.2,147.2 116.9,146.3 117.4,145.3 118,144.3 118.6,143.3 119.1,142.2 119.5,141.2 120,140.1 120.3,139 120.7,137.9 121,136.8 121.2,135.7 121.3,134.5 121.4,133.4 121.5,132.2 121.5,131.1 121.5,129.9 121.5,128.8 121.3,127.6 121.2,126.5 120.9,125.4 120.6,124.3 120.2,123.2 119.8,122.1 119.2,121.1 118.8,120.1 119,119 119.5,118 120.2,117 120.9,116.1 121.6,115.3 122.4,114.4 123.2,113.6 124,112.7 124.7,111.9 125.5,111 125.5,20" fill="#1e60f6"/>
<polygon points="41.8,20 41.8,108.3 42.5,109 43.2,109.8 43.9,110.6 44.6,111.4 45.3,112.1 46,112.9 46.6,113.7 47.3,114.5 47.7,115.4 48,116.4 47.7,117.3 47.2,118.2 46.9,119.1 46.7,120 46.5,121 46.4,121.9 46.3,122.9 46.3,123.9 46.3,124.8 46.4,125.8 46.5,126.8 46.6,127.7 46.8,128.6 47,129.6 47.2,130.5 47.6,131.4 47.9,132.2 48.3,133.1 48.8,133.9 49.3,134.7 49.8,135.5 50.3,136.2 50.9,136.9 51.5,137.6 52.2,138.3 52.8,138.9 53.5,139.5 54.2,140.1 54.9,140.7 55.7,141.2 56.4,141.7 57.2,142.2 58,142.7 58.9,143.1 59.7,143.4 60.5,143.8 61.4,144.1 62.3,144.5 63.1,144.8 64,145 64.9,145.3 65.8,145.5 66.7,145.7 67.6,146 68.5,146.2 69.4,146.3 70.3,146.5 71.2,146.6 72.1,146.7 73,146.8 74,146.8 74.9,146.8 75.8,146.8 76.7,146.8 77.6,146.8 78.6,146.9 79.5,146.9 80.4,146.9 81.3,146.9 82.2,146.9 83.1,146.9 84,146.9 84.9,146.9 85.9,146.8 86.8,146.8 87.7,146.8 88.6,146.8 89.5,146.8 90.5,146.8 91.4,146.7 92.3,146.6 93.2,146.5 94.1,146.3 95,146.2 95.9,146 96.8,145.7 97.7,145.5 98.6,145.3 99.5,145 100.4,144.8 101.2,144.5 102.1,144.1 103,143.8 103.8,143.4 104.6,143.1 105.5,142.7 106.3,142.2 107.1,141.7 107.8,141.2 108.6,140.7 109.3,140.1 110,139.5 110.7,138.9 111.3,138.3 112,137.6 112.6,136.9 113.2,136.2 113.7,135.5 114.2,134.7 114.7,133.9 115.2,133.1 115.6,132.2 115.9,131.4 116.3,130.5 116.5,129.6 116.7,128.6 116.9,127.7 117,126.8 117.1,125.8 117.2,124.8 117.2,123.9 117.2,122.9 117.1,121.9 117,121 116.8,120 116.6,119.1 116.3,118.2 115.8,117.3 115.5,116.4 115.8,115.4 116.2,114.5 116.9,113.7 117.5,112.9 118.2,112.1 118.9,111.4 119.6,110.6 120.3,109.8 121,109 121.7,108.3 121.7,20" fill="#2096f2"/>
<polygon points="45.8,20 45.8,105.5 46.4,106.2 47,106.9 47.6,107.5 48.2,108.2 48.8,108.9 49.5,109.6 50,110.3 50.6,111 51,111.8 51.3,112.7 51.1,113.4 50.8,114.2 50.6,115 50.5,115.8 50.4,116.7 50.3,117.5 50.3,118.3 50.3,119.2 50.4,120 50.4,120.9 50.5,121.7 50.7,122.6 50.8,123.4 51,124.2 51.3,125 51.6,125.8 51.9,126.6 52.2,127.4 52.6,128.1 53,128.8 53.5,129.5 54,130.2 54.5,130.8 55,131.5 55.6,132.1 56.1,132.6 56.7,133.2 57.3,133.7 58,134.3 58.6,134.7 59.3,135.2 60,135.6 60.7,136.1 61.4,136.4 62.1,136.8 62.9,137.1 63.6,137.4 64.4,137.7 65.2,138 66,138.3 66.8,138.5 67.5,138.7 68.3,138.9 69.1,139.1 69.9,139.3 70.7,139.5 71.5,139.6 72.3,139.7 73.2,139.8 74,139.9 74.8,139.9 75.6,139.9 76.5,139.9 77.3,140 78.1,140 78.9,140 79.7,140 80.5,140 81.3,140.1 82.2,140.1 83,140 83.8,140 84.6,140 85.4,140 86.2,140 87,139.9 87.9,139.9 88.7,139.9 89.5,139.9 90.3,139.8 91.2,139.7 92,139.6 92.8,139.5 93.6,139.3 94.4,139.1 95.2,138.9 96,138.7 96.7,138.5 97.5,138.3 98.3,138 99.1,137.7 99.9,137.4 100.6,137.1 101.4,136.8 102.1,136.4 102.8,136.1 103.5,135.6 104.2,135.2 104.9,134.7 105.5,134.3 106.2,133.7 106.8,133.2 107.4,132.6 107.9,132.1 108.5,131.5 109,130.8 109.5,130.2 110,129.5 110.5,128.8 110.9,128.1 111.3,127.4 111.6,126.6 111.9,125.8 112.2,125 112.5,124.2 112.7,123.4 112.8,122.6 113,121.7 113.1,120.9 113.1,120 113.2,119.2 113.2,118.3 113.2,117.5 113.1,116.7 113,115.8 112.9,115 112.7,114.2 112.4,113.4 112.2,112.7 112.5,111.8 112.9,111 113.5,110.3 114,109.6 114.7,108.9 115.3,108.2 115.9,107.5 116.5,106.9 117.1,106.2 117.7,105.5 117.7,20" fill="#1ad8f5"/>
<polygon points="47.8,20 47.8,104 48.4,104.7 49,105.3 49.6,105.9 50.1,106.6 50.7,107.2 51.3,107.8 51.8,108.5 52.3,109.2 52.7,109.9 53,110.7 52.9,111.4 52.7,112.1 52.5,112.8 52.5,113.6 52.4,114.3 52.4,115.1 52.5,115.8 52.5,116.6 52.6,117.4 52.7,118.1 52.9,118.9 53,119.6 53.2,120.4 53.4,121.1 53.7,121.8 54,122.5 54.3,123.2 54.7,123.8 55,124.4 55.5,125 55.9,125.6 56.4,126.2 56.9,126.7 57.4,127.2 57.9,127.7 58.5,128.2 59,128.6 59.6,129.1 60.2,129.5 60.8,129.8 61.5,130.2 62.1,130.5 62.8,130.8 63.5,131 64.2,131.3 64.9,131.5 65.6,131.7 66.3,131.9 67,132 67.7,132.2 68.4,132.3 69.2,132.4 69.9,132.5 70.6,132.6 71.3,132.7 72,132.8 72.8,132.8 73.5,132.8 74.2,132.9 75,132.9 75.7,132.8 76.4,132.8 77.1,132.8 77.8,132.8 78.6,132.8 79.3,132.8 80,132.8 80.7,132.8 81.4,132.8 82.1,132.8 82.8,132.8 83.5,132.8 84.2,132.8 84.9,132.8 85.7,132.8 86.4,132.8 87.1,132.8 87.8,132.8 88.5,132.9 89.3,132.9 90,132.8 90.7,132.8 91.5,132.8 92.2,132.7 92.9,132.6 93.6,132.5 94.3,132.4 95.1,132.3 95.8,132.2 96.5,132 97.2,131.9 97.9,131.7 98.6,131.5 99.3,131.3 100,131 100.7,130.8 101.4,130.5 102,130.2 102.7,129.8 103.3,129.5 103.9,129.1 104.5,128.6 105,128.2 105.6,127.7 106.1,127.2 106.6,126.7 107.1,126.2 107.6,125.6 108,125 108.5,124.4 108.8,123.8 109.2,123.2 109.5,122.5 109.8,121.8 110.1,121.1 110.3,120.4 110.5,119.6 110.6,118.9 110.8,118.1 110.9,117.4 111,116.6 111,115.8 111.1,115.1 111.1,114.3 111,113.6 111,112.8 110.8,112.1 110.6,111.4 110.5,110.7 110.8,109.9 111.2,109.2 111.7,108.5 112.2,107.8 112.8,107.2 113.4,106.6 113.9,105.9 114.5,105.3 115.1,104.7 115.7,104 115.7,20" fill="#1ae8da"/>
<polygon points="49.5,20 49.5,102.8 50.1,103.4 50.6,104 51.1,104.6 51.7,105.2 52.2,105.8 52.8,106.4 53.3,107 53.7,107.7 54.1,108.4 54.4,109.1 54.3,109.7 54.2,110.4 54.1,111.1 54.1,111.8 54.1,112.5 54.1,113.2 54.2,113.9 54.2,114.6 54.4,115.3 54.5,116 54.6,116.7 54.8,117.4 55,118.1 55.2,118.8 55.4,119.5 55.7,120.1 56,120.7 56.3,121.3 56.7,121.9 57.1,122.5 57.5,123 57.9,123.6 58.4,124.1 58.9,124.6 59.4,125 59.9,125.4 60.4,125.9 61,126.3 61.5,126.6 62.1,127 62.7,127.3 63.3,127.6 64,127.9 64.6,128.1 65.3,128.3 65.9,128.5 66.6,128.7 67.2,128.9 67.9,129 68.6,129.2 69.3,129.3 69.9,129.4 70.6,129.5 71.3,129.5 72,129.6 72.7,129.7 73.3,129.7 74,129.7 74.7,129.7 75.4,129.7 76.1,129.7 76.7,129.7 77.4,129.7 78.1,129.6 78.8,129.6 79.4,129.6 80.1,129.7 80.8,129.7 81.4,129.7 82.1,129.7 82.7,129.7 83.4,129.7 84.1,129.6 84.7,129.6 85.4,129.6 86.1,129.7 86.8,129.7 87.4,129.7 88.1,129.7 88.8,129.7 89.5,129.7 90.2,129.7 90.8,129.7 91.5,129.6 92.2,129.5 92.9,129.5 93.6,129.4 94.2,129.3 94.9,129.2 95.6,129 96.3,128.9 96.9,128.7 97.6,128.5 98.2,128.3 98.9,128.1 99.5,127.9 100.2,127.6 100.8,127.3 101.4,127 102,126.6 102.5,126.3 103.1,125.9 103.6,125.4 104.1,125 104.6,124.6 105.1,124.1 105.6,123.6 106,123 106.4,122.5 106.8,121.9 107.2,121.3 107.5,120.7 107.8,120.1 108.1,119.5 108.3,118.8 108.5,118.1 108.7,117.4 108.9,116.7 109,116 109.1,115.3 109.3,114.6 109.3,113.9 109.4,113.2 109.4,112.5 109.4,111.8 109.4,111.1 109.3,110.4 109.2,109.7 109.1,109.1 109.4,108.4 109.8,107.7 110.2,107 110.7,106.4 111.3,105.8 111.8,105.2 112.4,104.6 112.9,104 113.4,103.4 114,102.8 114,20" fill="#1ae88e"/>
<polygon points="51.2,20 51.2,101.7 51.7,102.2 52.2,102.8 52.7,103.3 53.2,103.9 53.7,104.5 54.2,105 54.7,105.6 55.2,106.2 55.5,106.8 55.8,107.5 55.8,108.1 55.7,108.7 55.7,109.3 55.7,110 55.7,110.6 55.8,111.3 55.9,111.9 56,112.6 56.1,113.2 56.2,113.9 56.4,114.6 56.5,115.2 56.7,115.9 56.9,116.5 57.2,117.1 57.4,117.7 57.7,118.3 58,118.9 58.4,119.4 58.7,119.9 59.1,120.4 59.5,120.9 60,121.4 60.4,121.8 60.9,122.3 61.4,122.7 61.9,123 62.4,123.4 62.9,123.7 63.4,124.1 64,124.4 64.6,124.6 65.2,124.9 65.8,125.1 66.4,125.3 67,125.5 67.6,125.6 68.2,125.8 68.8,125.9 69.5,126 70.1,126.1 70.7,126.2 71.4,126.3 72,126.3 72.7,126.4 73.3,126.4 73.9,126.5 74.6,126.5 75.2,126.5 75.8,126.4 76.5,126.4 77.1,126.4 77.7,126.4 78.4,126.4 79,126.4 79.6,126.4 80.2,126.4 80.8,126.4 81.4,126.5 82.1,126.5 82.7,126.4 83.3,126.4 83.9,126.4 84.5,126.4 85.1,126.4 85.8,126.4 86.4,126.4 87,126.4 87.7,126.4 88.3,126.5 88.9,126.5 89.6,126.5 90.2,126.4 90.8,126.4 91.5,126.3 92.1,126.3 92.8,126.2 93.4,126.1 94,126 94.7,125.9 95.3,125.8 95.9,125.6 96.5,125.5 97.1,125.3 97.7,125.1 98.3,124.9 98.9,124.6 99.5,124.4 100.1,124.1 100.6,123.7 101.1,123.4 101.6,123 102.1,122.7 102.6,122.3 103.1,121.8 103.5,121.4 104,120.9 104.4,120.4 104.8,119.9 105.1,119.4 105.5,118.9 105.8,118.3 106.1,117.7 106.3,117.1 106.6,116.5 106.8,115.9 107,115.2 107.1,114.6 107.3,113.9 107.4,113.2 107.5,112.6 107.6,111.9 107.7,111.3 107.8,110.6 107.8,110 107.8,109.3 107.8,108.7 107.7,108.1 107.7,107.5 108,106.8 108.3,106.2 108.8,105.6 109.3,105 109.8,104.5 110.3,103.9 110.8,103.3 111.3,102.8 111.8,102.2 112.3,101.7 112.3,20" fill="#18f03c"/>
<polygon points="52.6,20 52.6,100.6 53.1,101.2 53.6,101.7 54.1,102.2 54.5,102.7 55,103.3 55.5,103.8 55.9,104.3 56.4,104.9 56.7,105.5 57,106.1 57,106.7 57,107.2 57,107.8 57.1,108.4 57.1,109 57.2,109.7 57.3,110.3 57.4,110.9 57.6,111.5 57.7,112.1 57.9,112.7 58,113.4 58.2,114 58.4,114.6 58.6,115.1 58.9,115.7 59.2,116.2 59.5,116.8 59.8,117.3 60.1,117.8 60.5,118.3 60.8,118.7 61.3,119.2 61.7,119.6 62.1,120 62.5,120.4 63,120.8 63.5,121.1 64,121.4 64.5,121.7 65,122 65.5,122.3 66.1,122.5 66.7,122.7 67.2,122.9 67.8,123.1 68.4,123.3 69,123.4 69.6,123.5 70.2,123.6 70.8,123.7 71.4,123.8 72,123.9 72.6,123.9 73.2,124 73.8,124 74.4,124.1 75,124.1 75.6,124.1 76.2,124.1 76.8,124 77.4,124 78,124 78.5,124 79.1,124 79.7,124 80.3,124 80.9,124 81.5,124.1 82,124.1 82.6,124 83.2,124 83.8,124 84.4,124 85,124 85.5,124 86.1,124 86.7,124 87.3,124.1 87.9,124.1 88.5,124.1 89.1,124.1 89.7,124 90.3,124 90.9,123.9 91.5,123.9 92.1,123.8 92.7,123.7 93.3,123.6 93.9,123.5 94.5,123.4 95.1,123.3 95.7,123.1 96.3,122.9 96.8,122.7 97.4,122.5 98,122.3 98.5,122 99,121.7 99.5,121.4 100,121.1 100.5,120.8 101,120.4 101.4,120 101.8,119.6 102.2,119.2 102.7,118.7 103,118.3 103.4,117.8 103.7,117.3 104,116.8 104.3,116.2 104.6,115.7 104.9,115.1 105.1,114.6 105.3,114 105.5,113.4 105.6,112.7 105.8,112.1 105.9,111.5 106.1,110.9 106.2,110.3 106.3,109.7 106.4,109 106.4,108.4 106.5,107.8 106.5,107.2 106.5,106.7 106.5,106.1 106.8,105.5 107.1,104.9 107.6,104.3 108,103.8 108.5,103.3 109,102.7 109.4,102.2 109.9,101.7 110.4,101.2 110.9,100.6 110.9,20" fill="#48f01a"/>
<polygon points="55,20 55,98.9 55.5,99.4 55.9,99.9 56.3,100.4 56.7,100.8 57.2,101.3 57.6,101.8 58,102.3 58.4,102.8 58.7,103.3 59,103.8 59.1,104.3 59.1,104.8 59.2,105.4 59.3,105.9 59.4,106.5 59.5,107 59.7,107.5 59.8,108.1 60,108.7 60.1,109.2 60.3,109.8 60.4,110.4 60.6,110.9 60.7,111.5 60.9,112 61.1,112.6 61.4,113.1 61.6,113.6 61.9,114.1 62.2,114.6 62.5,115.1 62.8,115.5 63.1,116 63.5,116.4 63.8,116.8 64.2,117.2 64.6,117.6 65,118 65.4,118.4 65.9,118.7 66.3,119 66.8,119.3 67.3,119.6 67.8,119.8 68.3,120.1 68.8,120.3 69.3,120.5 69.8,120.7 70.4,120.9 70.9,121 71.5,121.2 72,121.3 72.6,121.4 73.1,121.5 73.7,121.6 74.2,121.7 74.8,121.7 75.3,121.8 75.9,121.8 76.5,121.8 77,121.9 77.6,121.9 78.2,121.9 78.7,121.9 79.3,121.9 79.8,121.9 80.4,122 80.9,122 81.5,122.1 82,122.1 82.6,122 83.1,122 83.7,121.9 84.2,121.9 84.8,121.9 85.3,121.9 85.9,121.9 86.5,121.9 87,121.8 87.6,121.8 88.2,121.8 88.7,121.7 89.3,121.7 89.8,121.6 90.4,121.5 90.9,121.4 91.5,121.3 92,121.2 92.6,121 93.1,120.9 93.7,120.7 94.2,120.5 94.7,120.3 95.2,120.1 95.7,119.8 96.2,119.6 96.7,119.3 97.2,119 97.6,118.7 98.1,118.4 98.5,118 98.9,117.6 99.3,117.2 99.7,116.8 100,116.4 100.4,116 100.7,115.5 101,115.1 101.3,114.6 101.6,114.1 101.9,113.6 102.1,113.1 102.4,112.6 102.6,112 102.8,111.5 102.9,110.9 103.1,110.4 103.2,109.8 103.4,109.2 103.5,108.7 103.7,108.1 103.8,107.5 104,107 104.1,106.5 104.2,105.9 104.3,105.4 104.4,104.8 104.4,104.3 104.5,103.8 104.8,103.3 105.1,102.8 105.5,102.3 105.9,101.8 106.3,101.3 106.8,100.8 107.2,100.4 107.6,99.9 108,99.4 108.5,98.9 108.5,20" fill="#88f01a"/>
<polygon points="56.2,20 56.2,98.1 56.6,98.5 57,99 57.4,99.4 57.8,99.9 58.2,100.3 58.6,100.8 59,101.2 59.4,101.7 59.7,102.2 60,102.7 60.1,103.2 60.2,103.6 60.3,104.1 60.4,104.6 60.6,105.1 60.7,105.7 60.9,106.2 61,106.7 61.2,107.2 61.4,107.8 61.5,108.3 61.6,108.8 61.8,109.4 62,109.9 62.1,110.4 62.3,110.9 62.5,111.4 62.8,111.9 63,112.4 63.3,112.9 63.5,113.4 63.8,113.8 64.1,114.2 64.5,114.7 64.8,115.1 65.1,115.5 65.5,115.8 65.9,116.2 66.3,116.6 66.7,116.9 67.1,117.2 67.5,117.5 68,117.8 68.5,118 68.9,118.3 69.4,118.5 69.9,118.7 70.4,118.9 70.9,119.1 71.4,119.3 71.9,119.4 72.5,119.5 73,119.7 73.5,119.8 74,119.8 74.6,119.9 75.1,120 75.6,120.1 76.2,120.1 76.7,120.1 77.2,120.2 77.8,120.2 78.3,120.2 78.8,120.2 79.4,120.2 79.9,120.3 80.4,120.3 81,120.4 81.5,120.4 82,120.4 82.5,120.4 83.1,120.3 83.6,120.3 84.1,120.2 84.7,120.2 85.2,120.2 85.7,120.2 86.3,120.2 86.8,120.1 87.3,120.1 87.9,120.1 88.4,120 88.9,119.9 89.5,119.8 90,119.8 90.5,119.7 91,119.5 91.6,119.4 92.1,119.3 92.6,119.1 93.1,118.9 93.6,118.7 94.1,118.5 94.6,118.3 95,118 95.5,117.8 96,117.5 96.4,117.2 96.8,116.9 97.2,116.6 97.6,116.2 98,115.8 98.4,115.5 98.7,115.1 99,114.7 99.4,114.2 99.7,113.8 100,113.4 100.2,112.9 100.5,112.4 100.7,111.9 101,111.4 101.2,110.9 101.4,110.4 101.5,109.9 101.7,109.4 101.9,108.8 102,108.3 102.1,107.8 102.3,107.2 102.5,106.7 102.6,106.2 102.8,105.7 102.9,105.1 103.1,104.6 103.2,104.1 103.3,103.6 103.4,103.2 103.5,102.7 103.8,102.2 104.1,101.7 104.5,101.2 104.9,100.8 105.3,100.3 105.7,99.9 106.1,99.4 106.5,99 106.9,98.5 107.3,98.1 107.3,20" fill="#caf01a"/>
<polygon points="57.4,20 57.4,97.2 57.8,97.7 58.2,98.1 58.6,98.5 58.9,98.9 59.3,99.3 59.7,99.8 60.1,100.2 60.4,100.6 60.7,101.1 61,101.5 61.2,102 61.3,102.4 61.4,102.9 61.6,103.4 61.7,103.8 61.9,104.3 62.1,104.8 62.3,105.3 62.4,105.8 62.6,106.3 62.7,106.8 62.9,107.3 63,107.8 63.2,108.3 63.3,108.8 63.5,109.3 63.7,109.8 63.9,110.3 64.1,110.7 64.4,111.2 64.6,111.6 64.9,112.1 65.2,112.5 65.4,112.9 65.8,113.3 66.1,113.7 66.4,114.1 66.8,114.4 67.1,114.8 67.5,115.1 67.9,115.4 68.3,115.7 68.7,116 69.1,116.3 69.6,116.5 70,116.7 70.5,117 71,117.2 71.4,117.4 71.9,117.5 72.4,117.7 72.9,117.8 73.4,117.9 73.9,118 74.4,118.2 74.9,118.2 75.4,118.3 75.9,118.4 76.4,118.4 76.9,118.5 77.4,118.5 78,118.5 78.5,118.6 79,118.6 79.5,118.6 80,118.7 80.5,118.7 81,118.7 81.5,118.8 82,118.8 82.5,118.7 83,118.7 83.5,118.7 84,118.6 84.5,118.6 85,118.6 85.5,118.5 86.1,118.5 86.6,118.5 87.1,118.4 87.6,118.4 88.1,118.3 88.6,118.2 89.1,118.2 89.6,118 90.1,117.9 90.6,117.8 91.1,117.7 91.6,117.5 92.1,117.4 92.5,117.2 93,117 93.5,116.7 93.9,116.5 94.4,116.3 94.8,116 95.2,115.7 95.6,115.4 96,115.1 96.4,114.8 96.7,114.4 97.1,114.1 97.4,113.7 97.7,113.3 98.1,112.9 98.3,112.5 98.6,112.1 98.9,111.6 99.1,111.2 99.4,110.7 99.6,110.3 99.8,109.8 100,109.3 100.2,108.8 100.3,108.3 100.5,107.8 100.6,107.3 100.8,106.8 100.9,106.3 101.1,105.8 101.2,105.3 101.4,104.8 101.6,104.3 101.8,103.8 101.9,103.4 102.1,102.9 102.2,102.4 102.3,102 102.5,101.5 102.8,101.1 103.1,100.6 103.4,100.2 103.8,99.8 104.2,99.3 104.6,98.9 104.9,98.5 105.3,98.1 105.7,97.7 106.1,97.2 106.1,20" fill="#ffe41a"/>
<polygon points="59.1,20 59.1,96 59.5,96.4 59.8,96.8 60.1,97.2 60.5,97.6 60.8,98 61.2,98.3 61.5,98.7 61.8,99.1 62.1,99.5 62.4,99.9 62.6,100.3 62.8,100.8 63,101.2 63.2,101.6 63.4,102 63.6,102.4 63.8,102.9 64,103.3 64.2,103.8 64.3,104.2 64.4,104.7 64.6,105.2 64.7,105.6 64.9,106.1 65,106.6 65.2,107 65.3,107.5 65.5,107.9 65.7,108.3 65.9,108.8 66.1,109.2 66.3,109.6 66.6,110 66.8,110.4 67.1,110.8 67.4,111.2 67.7,111.5 68,111.9 68.3,112.2 68.6,112.6 69,112.9 69.4,113.2 69.7,113.5 70.1,113.7 70.5,114 70.9,114.2 71.3,114.4 71.8,114.6 72.2,114.8 72.6,115 73.1,115.2 73.5,115.3 74,115.5 74.4,115.6 74.9,115.7 75.4,115.8 75.8,115.9 76.3,115.9 76.8,116 77.3,116 77.7,116.1 78.2,116.1 78.7,116.2 79.2,116.2 79.6,116.2 80.1,116.3 80.6,116.3 81,116.4 81.5,116.4 82,116.4 82.5,116.4 82.9,116.3 83.4,116.3 83.9,116.2 84.3,116.2 84.8,116.2 85.3,116.1 85.8,116.1 86.2,116 86.7,116 87.2,115.9 87.7,115.9 88.1,115.8 88.6,115.7 89.1,115.6 89.5,115.5 90,115.3 90.4,115.2 90.9,115 91.3,114.8 91.7,114.6 92.2,114.4 92.6,114.2 93,114 93.4,113.7 93.8,113.5 94.1,113.2 94.5,112.9 94.9,112.6 95.2,112.2 95.5,111.9 95.8,111.5 96.1,111.2 96.4,110.8 96.7,110.4 96.9,110 97.2,109.6 97.4,109.2 97.6,108.8 97.8,108.3 98,107.9 98.2,107.5 98.3,107 98.5,106.6 98.6,106.1 98.8,105.6 98.9,105.2 99.1,104.7 99.2,104.2 99.3,103.8 99.5,103.3 99.7,102.9 99.9,102.4 100.1,102 100.3,101.6 100.5,101.2 100.7,100.8 100.9,100.3 101.1,99.9 101.4,99.5 101.7,99.1 102,98.7 102.3,98.3 102.7,98 103,97.6 103.4,97.2 103.7,96.8 104,96.4 104.4,96 104.4,20" fill="#ff8e1a"/>
<polygon points="60.6,20 60.6,95 60.9,95.4 61.2,95.7 61.5,96.1 61.8,96.4 62.1,96.8 62.4,97.1 62.7,97.5 63,97.9 63.3,98.2 63.6,98.6 63.9,98.9 64.1,99.3 64.3,99.7 64.5,100.1 64.8,100.4 65,100.8 65.2,101.2 65.4,101.6 65.6,102 65.8,102.5 65.9,102.9 66,103.3 66.1,103.8 66.3,104.2 66.4,104.7 66.6,105.1 66.7,105.5 66.9,105.9 67,106.4 67.2,106.8 67.4,107.2 67.6,107.6 67.8,108 68,108.4 68.2,108.8 68.5,109.1 68.7,109.5 69,109.9 69.2,110.2 69.6,110.5 69.9,110.9 70.2,111.2 70.5,111.5 70.9,111.7 71.2,112 71.6,112.3 72,112.5 72.4,112.7 72.8,112.9 73.2,113.1 73.6,113.3 74,113.5 74.4,113.6 74.9,113.7 75.3,113.9 75.7,114 76.2,114.1 76.6,114.2 77.1,114.2 77.5,114.3 78,114.3 78.4,114.4 78.8,114.4 79.3,114.5 79.7,114.6 80.2,114.6 80.6,114.7 81.1,114.7 81.5,114.8 82,114.8 82.4,114.7 82.9,114.7 83.3,114.6 83.8,114.6 84.2,114.5 84.7,114.4 85.1,114.4 85.5,114.3 86,114.3 86.4,114.2 86.9,114.2 87.3,114.1 87.8,114 88.2,113.9 88.6,113.7 89.1,113.6 89.5,113.5 89.9,113.3 90.3,113.1 90.7,112.9 91.1,112.7 91.5,112.5 91.9,112.3 92.3,112 92.6,111.7 93,111.5 93.3,111.2 93.6,110.9 93.9,110.5 94.3,110.2 94.5,109.9 94.8,109.5 95,109.1 95.3,108.8 95.5,108.4 95.7,108 95.9,107.6 96.1,107.2 96.3,106.8 96.5,106.4 96.6,105.9 96.8,105.5 96.9,105.1 97.1,104.7 97.2,104.2 97.4,103.8 97.5,103.3 97.6,102.9 97.7,102.5 97.9,102 98.1,101.6 98.3,101.2 98.5,100.8 98.7,100.4 99,100.1 99.2,99.7 99.4,99.3 99.6,98.9 99.9,98.6 100.2,98.2 100.5,97.9 100.8,97.5 101.1,97.1 101.4,96.8 101.7,96.4 102,96.1 102.3,95.7 102.6,95.4 102.9,95 102.9,20" fill="#ff501a"/>
<polygon points="62,20 62,94 62.3,94.3 62.6,94.6 62.8,95 63.1,95.3 63.4,95.6 63.7,95.9 64,96.2 64.2,96.6 64.5,96.9 64.8,97.2 65.1,97.5 65.4,97.9 65.6,98.2 65.9,98.5 66.1,98.9 66.4,99.2 66.6,99.6 66.9,99.9 67.1,100.3 67.2,100.7 67.3,101.1 67.5,101.5 67.6,101.9 67.7,102.3 67.8,102.8 67.9,103.2 68.1,103.6 68.2,104 68.3,104.4 68.5,104.8 68.6,105.2 68.8,105.6 68.9,106 69.1,106.4 69.3,106.7 69.5,107.1 69.7,107.5 70,107.9 70.2,108.2 70.5,108.5 70.7,108.9 71,109.2 71.3,109.5 71.6,109.8 72,110.1 72.3,110.3 72.6,110.6 73,110.8 73.3,111.1 73.7,111.3 74.1,111.5 74.5,111.7 74.9,111.8 75.3,112 75.7,112.1 76.1,112.2 76.5,112.3 76.9,112.4 77.3,112.5 77.7,112.6 78.2,112.7 78.6,112.7 79,112.8 79.4,112.9 79.8,112.9 80.3,113 80.7,113 81.1,113.1 81.5,113.2 82,113.2 82.4,113.1 82.8,113 83.2,113 83.7,112.9 84.1,112.9 84.5,112.8 84.9,112.7 85.3,112.7 85.8,112.6 86.2,112.5 86.6,112.4 87,112.3 87.4,112.2 87.8,112.1 88.2,112 88.6,111.8 89,111.7 89.4,111.5 89.8,111.3 90.2,111.1 90.5,110.8 90.9,110.6 91.2,110.3 91.5,110.1 91.9,109.8 92.2,109.5 92.5,109.2 92.8,108.9 93,108.5 93.3,108.2 93.5,107.9 93.8,107.5 94,107.1 94.2,106.7 94.4,106.4 94.6,106 94.7,105.6 94.9,105.2 95,104.8 95.2,104.4 95.3,104 95.4,103.6 95.6,103.2 95.7,102.8 95.8,102.3 95.9,101.9 96,101.5 96.2,101.1 96.3,100.7 96.4,100.3 96.6,99.9 96.9,99.6 97.1,99.2 97.4,98.9 97.6,98.5 97.9,98.2 98.1,97.9 98.4,97.5 98.7,97.2 99,96.9 99.3,96.6 99.5,96.2 99.8,95.9 100.1,95.6 100.4,95.3 100.7,95 100.9,94.6 101.2,94.3 101.5,94 101.5,20" fill="#ff1a1a"/>
<rect x="70.6" y="37.9" width="22.2" height="59.1" fill="#ff1a1a"/>
</g>
<text stroke="#111" stroke-width="0.28" x="5" y="119.8" font-family="&quot;Liberation Sans&quot;, Arial, sans-serif" font-weight="bold" font-size="11.5" fill="#111" textLength="41" lengthAdjust="spacingAndGlyphs">Layer 1</text>
<text stroke="#111" stroke-width="0.28" x="5" y="156" font-family="&quot;Liberation Sans&quot;, Arial, sans-serif" font-weight="bold" font-size="11.5" fill="#111" textLength="41" lengthAdjust="spacingAndGlyphs">Layer 2</text>
<text stroke="#111" stroke-width="0.28" x="5" y="190" font-family="&quot;Liberation Sans&quot;, Arial, sans-serif" font-weight="bold" font-size="11.5" fill="#111" textLength="41" lengthAdjust="spacingAndGlyphs">Layer 3</text>
<text stroke="#111" stroke-width="0.28" x="5" y="218.5" font-family="&quot;Liberation Sans&quot;, Arial, sans-serif" font-weight="bold" font-size="11.5" fill="#111" textLength="41" lengthAdjust="spacingAndGlyphs">Layer 4</text>
<text stroke="#111" stroke-width="0.28" x="5" y="254.3" font-family="&quot;Liberation Sans&quot;, Arial, sans-serif" font-weight="bold" font-size="11.5" fill="#111" textLength="41" lengthAdjust="spacingAndGlyphs">Layer 5</text>
<text x="55.4" y="277.9" font-family="&quot;Liberation Sans&quot;, Arial, sans-serif" font-weight="bold" font-size="14.6" fill="#fff" textLength="60.4" lengthAdjust="spacingAndGlyphs">y=0.18m</text>
<text stroke="#111" stroke-width="0.28" x="147" y="13.4" font-family="&quot;Liberation Sans&quot;, Arial, sans-serif" font-weight="bold" font-size="12" fill="#111">Volatile matter</text>
<text stroke="#111" stroke-width="0.28" x="147" y="25.1" font-family="&quot;Liberation Sans&quot;, Arial, sans-serif" font-weight="bold" font-size="12" fill="#111">(H2)</text>
<rect x="146.3" y="31.8" width="15.5" height="3.3" fill="#ee0a0a"/>
<rect x="146.3" y="34.8" width="15.5" height="6.3" fill="#ff501a"/>
<rect x="146.3" y="40.8" width="15.5" height="6.3" fill="#ff8e1a"/>
<rect x="146.3" y="46.8" width="15.5" height="6.3" fill="#ffe41a"/>
<rect x="146.3" y="52.8" width="15.5" height="6.3" fill="#caf01a"/>
<rect x="146.3" y="58.8" width="15.5" height="6.3" fill="#88f01a"/>
<rect x="146.3" y="64.8" width="15.5" height="6.3" fill="#48f01a"/>
<rect x="146.3" y="70.8" width="15.5" height="6.3" fill="#18f03c"/>
<rect x="146.3" y="76.8" width="15.5" height="6.3" fill="#1ae88e"/>
<rect x="146.3" y="82.8" width="15.5" height="6.3" fill="#1ae8da"/>
<rect x="146.3" y="88.8" width="15.5" height="6.3" fill="#1ad8f5"/>
<rect x="146.3" y="94.8" width="15.5" height="6.3" fill="#2096f2"/>
<rect x="146.3" y="100.8" width="15.5" height="6.3" fill="#1e60f6"/>
<rect x="146.3" y="106.8" width="15.5" height="3.3" fill="#1010e6"/>
<text stroke="#111" stroke-width="0.28" x="169.3" y="40.5" font-family="&quot;Liberation Sans&quot;, Arial, sans-serif" font-weight="bold" font-size="10" fill="#111">0.026</text>
<text stroke="#111" stroke-width="0.28" x="169.3" y="52.5" font-family="&quot;Liberation Sans&quot;, Arial, sans-serif" font-weight="bold" font-size="10" fill="#111">0.022</text>
<text stroke="#111" stroke-width="0.28" x="169.3" y="64.5" font-family="&quot;Liberation Sans&quot;, Arial, sans-serif" font-weight="bold" font-size="10" fill="#111">0.018</text>
<text stroke="#111" stroke-width="0.28" x="169.3" y="76.5" font-family="&quot;Liberation Sans&quot;, Arial, sans-serif" font-weight="bold" font-size="10" fill="#111">0.014</text>
<text stroke="#111" stroke-width="0.28" x="169.3" y="88.5" font-family="&quot;Liberation Sans&quot;, Arial, sans-serif" font-weight="bold" font-size="10" fill="#111">0.01</text>
<text stroke="#111" stroke-width="0.28" x="169.3" y="100.5" font-family="&quot;Liberation Sans&quot;, Arial, sans-serif" font-weight="bold" font-size="10" fill="#111">0.006</text>
<text stroke="#111" stroke-width="0.28" x="169.3" y="112.5" font-family="&quot;Liberation Sans&quot;, Arial, sans-serif" font-weight="bold" font-size="10" fill="#111">0.002</text>
<text stroke="#2424e8" stroke-width="0.28" x="241" y="18.3" font-family="&quot;Liberation Sans&quot;, Arial, sans-serif" font-weight="bold" font-size="12" fill="#2424e8" textLength="88.8" lengthAdjust="spacingAndGlyphs">Temperature(K)</text>
<text stroke="#111" stroke-width="0.28" transform="translate(232,147) rotate(-90)" font-family="&quot;Liberation Sans&quot;, Arial, sans-serif" font-weight="bold" font-size="12" fill="#111" text-anchor="middle">The distance from furnace top(m)</text>
<path d="M253.5 38.5H318.5M253.5 38.5V286.4" stroke="#9a9a9a" stroke-width="1.1" fill="none"/>
<path d="M253.24 38.5v2.4 M258.62 38.5v2.4 M269.38 38.5v2.4 M274.76 38.5v2.4 M280.14 38.5v2.4 M285.52 38.5v2.4 M296.28 38.5v2.4 M301.66 38.5v2.4 M307.04 38.5v2.4 M312.42 38.5v2.4" stroke="#999" stroke-width="0.9"/>
<path d="M264 38.5v5 M290.9 38.5v5 M317.8 38.5v5" stroke="#111" stroke-width="1.2"/>
<text stroke="#111" stroke-width="0.28" x="264" y="32.6" font-family="&quot;Liberation Sans&quot;, Arial, sans-serif" font-weight="bold" font-size="10" fill="#111" text-anchor="middle">500</text>
<text stroke="#111" stroke-width="0.28" x="290.9" y="32.6" font-family="&quot;Liberation Sans&quot;, Arial, sans-serif" font-weight="bold" font-size="10" fill="#111" text-anchor="middle">1000</text>
<text stroke="#111" stroke-width="0.28" x="317.8" y="32.6" font-family="&quot;Liberation Sans&quot;, Arial, sans-serif" font-weight="bold" font-size="10" fill="#111" text-anchor="middle">1500</text>
<path d="M253.5 50.58h3.2 M253.5 62.66h3.2 M253.5 74.74h3.2 M253.5 86.82h3.2 M253.5 110.98h3.2 M253.5 123.06h3.2 M253.5 135.14h3.2 M253.5 147.22h3.2 M253.5 171.38h3.2 M253.5 183.46h3.2 M253.5 195.54h3.2 M253.5 207.62h3.2 M253.5 231.78h3.2 M253.5 243.86h3.2 M253.5 255.94h3.2 M253.5 268.02h3.2" stroke="#999" stroke-width="0.9"/>
<path d="M253.5 38.5h5.3 M253.5 98.9h5.3 M253.5 159.3h5.3 M253.5 219.7h5.3 M253.5 280.1h5.3" stroke="#111" stroke-width="1.2"/>
<text stroke="#111" stroke-width="0.28" x="250" y="42.3" font-family="&quot;Liberation Sans&quot;, Arial, sans-serif" font-weight="bold" font-size="11" fill="#111" text-anchor="end">0</text>
<text stroke="#111" stroke-width="0.28" x="249.6" y="102.9" font-family="&quot;Liberation Sans&quot;, Arial, sans-serif" font-weight="bold" font-size="11" fill="#111" text-anchor="end">-1</text>
<text stroke="#111" stroke-width="0.28" x="249.6" y="163.3" font-family="&quot;Liberation Sans&quot;, Arial, sans-serif" font-weight="bold" font-size="11" fill="#111" text-anchor="end">-2</text>
<text stroke="#111" stroke-width="0.28" x="249.6" y="223.7" font-family="&quot;Liberation Sans&quot;, Arial, sans-serif" font-weight="bold" font-size="11" fill="#111" text-anchor="end">-3</text>
<text stroke="#111" stroke-width="0.28" x="249.6" y="284.1" font-family="&quot;Liberation Sans&quot;, Arial, sans-serif" font-weight="bold" font-size="11" fill="#111" text-anchor="end">-4</text>
<path d="M253.5 249.9H318.3" stroke="#a0a0bc" stroke-width="1.1"/>
<path d="M259.97 249.9v-2.6 M266.44 249.9v-2.6 M272.91 249.9v-2.6 M279.38 249.9v-2.6 M292.32 249.9v-2.6 M298.79 249.9v-2.6 M305.26 249.9v-2.6 M311.73 249.9v-2.6" stroke="#8c8cb0" stroke-width="0.9"/>
<path d="M253.5 249.9v-5 M285.85 249.9v-5 M318.2 249.9v-5" stroke="#111" stroke-width="1.2"/>
<text stroke="#111" stroke-width="0.28" x="253.5" y="264.2" font-family="&quot;Liberation Sans&quot;, Arial, sans-serif" font-weight="bold" font-size="11.3" fill="#111" text-anchor="middle">0</text>
<text stroke="#111" stroke-width="0.28" x="285.85" y="264.2" font-family="&quot;Liberation Sans&quot;, Arial, sans-serif" font-weight="bold" font-size="11.3" fill="#111" text-anchor="middle">0.015</text>
<text stroke="#111" stroke-width="0.28" x="318.2" y="264.2" font-family="&quot;Liberation Sans&quot;, Arial, sans-serif" font-weight="bold" font-size="11.3" fill="#111" text-anchor="middle">0.03</text>
<text stroke="#d81212" stroke-width="0.28" x="277.35" y="279.8" font-family="&quot;Liberation Sans&quot;, Arial, sans-serif" font-weight="bold" font-size="14.5" fill="#d81212" textLength="17.3" lengthAdjust="spacingAndGlyphs">H2</text>
<polyline points="258,38.4 260.1,49.5 264.8,63 270.2,74.6 281.5,86.2 289,92.5 296,99 300.3,109.1 303.5,117 306.4,126.1 309.5,137 311.5,147 312.1,157 312,166 312.3,180 313.5,205 315,228 315.9,246 316.8,285.6" fill="none" stroke="#2a2af0" stroke-width="1.3" stroke-linejoin="round"/>
<polyline points="314.5,38.5 314.5,86.4 303.1,98.8 280.4,110.6 265.6,122.6 259.9,134.7 257,148.8 255.8,160 255.1,176.7 254,213.5 253.8,285.6" fill="none" stroke="#e21a1a" stroke-width="1.3" stroke-linejoin="round"/>
</g>
<g transform="translate(376.8,330)">
<path d="M19.2 10.9V39.6H48" stroke="#1a1a1a" stroke-width="1.3" fill="none"/><path d="M19.5 30.4H28.2V39.2" stroke="#999" stroke-width="0.9" fill="none"/><text x="16.9" y="6.7" font-family="&quot;Liberation Sans&quot;, Arial, sans-serif" font-size="10.5" fill="#333">z</text><text x="52.2" y="42" font-family="&quot;Liberation Sans&quot;, Arial, sans-serif" font-size="10.5" fill="#333">x</text>
<text stroke="#111" stroke-width="0.28" x="71.8" y="22.4" font-family="&quot;Liberation Sans&quot;, Arial, sans-serif" font-weight="bold" font-size="15.9" fill="#111" textLength="15.4" lengthAdjust="spacingAndGlyphs">(j)</text>
<path d="M3 96.4H70.6M92.8 96.4H144.3V286.4 M3 104.7H59.3M104.1 104.7H137.5V115.4H203.5V123.1H137.5V133.4H132.2 M132.2 137.9H137.5V198.6H132.2M132.2 203.6H137.5V265.5H132.2M132.2 270H137.5V286.4 M3 133.5H31.3 M3 137.6H31.3 M3 166.5H31.3 M3 170.6H31.3 M3 199.5H31.3 M3 203.7H31.3 M3 232.3H31.3 M3 236.7H31.3 M3 265.7H31.3 M3 270H31.3" stroke="#9a9a9a" stroke-width="1" fill="none"/>
<clipPath id="clipj"><polygon points="70.6,37.9 92.8,37.9 92.8,96.5 132.2,124.9 132.2,286.4 31.3,286.4 31.3,124.9 70.6,96.5"/></clipPath>
<g clip-path="url(#clipj)">
<polygon points="70.6,37.9 92.8,37.9 92.8,96.5 132.2,124.9 132.2,286.4 31.3,286.4 31.3,124.9 70.6,96.5" fill="#1a1aff"/>
<polygon points="45,20 45,104.5 45.9,106.2 46.7,107.9 46.8,109.7 46,111.4 45.4,113.2 44.8,114.9 44.3,116.8 44,118.6 43.7,120.5 43.5,122.4 43.3,124.3 43.2,126.1 43.1,128 43,129.9 42.9,131.8 42.9,133.7 42.8,135.6 42.8,137.5 42.8,139.3 42.8,141.2 42.8,143.1 42.8,145 42.8,146.9 42.9,148.8 43.1,150.7 43.3,152.5 43.6,154.4 44,156.2 44.4,158.1 44.8,159.9 45.3,161.7 46,163.5 46.8,165.2 47.6,166.9 48.6,168.5 49.5,170.2 50.5,171.8 51.5,173.4 52.5,175 53.6,176.6 54.6,178.1 55.7,179.7 56.8,181.2 58,182.7 59.3,184.1 60.6,185.4 61.9,186.7 63.3,188 64.7,189.2 66.2,190.4 67.7,191.6 69.3,192.6 70.9,193.5 72.7,194.2 74.5,194.6 76.4,194.9 78.3,195.1 80.2,195.1 82.1,195.2 83.9,195.2 85.8,195.1 87.7,195.1 89.6,194.9 91.5,194.6 93.3,194.2 95.1,193.5 96.7,192.6 98.3,191.6 99.8,190.4 101.3,189.2 102.7,188 104.1,186.7 105.4,185.4 106.7,184.1 108,182.7 109.2,181.2 110.3,179.7 111.4,178.1 112.4,176.6 113.5,175 114.5,173.4 115.5,171.8 116.5,170.2 117.4,168.5 118.4,166.9 119.2,165.2 120,163.5 120.7,161.7 121.2,159.9 121.6,158.1 122,156.2 122.4,154.4 122.7,152.5 122.9,150.7 123.1,148.8 123.2,146.9 123.2,145 123.2,143.1 123.2,141.2 123.2,139.3 123.2,137.5 123.2,135.6 123.1,133.7 123.1,131.8 123,129.9 122.9,128 122.8,126.1 122.7,124.3 122.5,122.4 122.3,120.5 122,118.6 121.7,116.8 121.2,114.9 120.6,113.2 120,111.4 119.2,109.7 119.3,107.9 120.1,106.2 121,104.5 121,20" fill="#1f8cf2"/>
<polygon points="46,20 46,104 46.8,105.7 47.7,107.3 47.9,109.1 47.3,110.8 46.8,112.6 46.2,114.4 45.7,116.2 45.3,118 44.9,119.8 44.7,121.6 44.5,123.5 44.4,125.4 44.3,127.2 44.2,129.1 44.1,131 44,132.8 44,134.7 44,136.6 43.9,138.4 43.9,140.3 43.9,142.2 43.9,144 43.9,145.9 44,147.8 44.2,149.6 44.4,151.5 44.6,153.3 44.9,155.2 45.3,157 45.7,158.8 46.2,160.6 46.8,162.4 47.5,164.1 48.3,165.8 49.2,167.4 50.2,169 51.1,170.6 52.1,172.2 53.1,173.8 54.1,175.4 55.1,176.9 56.2,178.5 57.3,180 58.4,181.4 59.7,182.8 61,184.2 62.3,185.5 63.6,186.8 65,188 66.5,189.2 67.9,190.3 69.5,191.4 71.1,192.3 72.8,193 74.6,193.5 76.5,193.8 78.3,193.9 80.2,194 82.1,194.1 83.9,194.1 85.8,194 87.7,193.9 89.5,193.8 91.4,193.5 93.2,193 94.9,192.3 96.5,191.4 98.1,190.3 99.5,189.2 101,188 102.4,186.8 103.7,185.5 105,184.2 106.3,182.8 107.6,181.4 108.7,180 109.8,178.5 110.9,176.9 111.9,175.4 112.9,173.8 113.9,172.2 114.9,170.6 115.8,169 116.8,167.4 117.7,165.8 118.5,164.1 119.2,162.4 119.8,160.6 120.3,158.8 120.7,157 121.1,155.2 121.4,153.3 121.6,151.5 121.8,149.6 122,147.8 122.1,145.9 122.1,144 122.1,142.2 122.1,140.3 122.1,138.4 122,136.6 122,134.7 122,132.8 121.9,131 121.8,129.1 121.7,127.2 121.6,125.4 121.5,123.5 121.3,121.6 121.1,119.8 120.7,118 120.3,116.2 119.8,114.4 119.2,112.6 118.7,110.8 118.1,109.1 118.3,107.3 119.2,105.7 120,104 120,20" fill="#1af0d6"/>
<polygon points="46.7,20 46.7,103.7 47.5,105.3 48.4,107 48.7,108.7 48.3,110.4 47.8,112.2 47.2,114 46.6,115.7 46.2,117.5 45.8,119.3 45.6,121.1 45.4,123 45.2,124.8 45.1,126.7 45,128.5 44.9,130.4 44.8,132.2 44.8,134.1 44.7,135.9 44.7,137.8 44.7,139.6 44.7,141.5 44.7,143.3 44.7,145.2 44.8,147 44.9,148.9 45.1,150.7 45.3,152.6 45.6,154.4 45.9,156.2 46.3,158 46.8,159.8 47.4,161.6 48,163.3 48.8,165 49.7,166.6 50.6,168.2 51.5,169.8 52.5,171.4 53.5,172.9 54.5,174.5 55.5,176.1 56.5,177.6 57.6,179.1 58.8,180.6 60,182 61.2,183.3 62.5,184.6 63.9,185.9 65.2,187.1 66.7,188.3 68.1,189.5 69.6,190.5 71.2,191.5 72.9,192.2 74.7,192.7 76.5,193 78.4,193.2 80.2,193.2 82.1,193.3 83.9,193.3 85.8,193.2 87.6,193.2 89.5,193 91.3,192.7 93.1,192.2 94.8,191.5 96.4,190.5 97.9,189.5 99.3,188.3 100.8,187.1 102.1,185.9 103.5,184.6 104.8,183.3 106,182 107.2,180.6 108.4,179.1 109.5,177.6 110.5,176.1 111.5,174.5 112.5,172.9 113.5,171.4 114.5,169.8 115.4,168.2 116.3,166.6 117.2,165 118,163.3 118.6,161.6 119.2,159.8 119.7,158 120.1,156.2 120.4,154.4 120.7,152.6 120.9,150.7 121.1,148.9 121.2,147 121.3,145.2 121.3,143.3 121.3,141.5 121.3,139.6 121.3,137.8 121.3,135.9 121.2,134.1 121.2,132.2 121.1,130.4 121,128.5 120.9,126.7 120.8,124.8 120.6,123 120.4,121.1 120.2,119.3 119.8,117.5 119.4,115.7 118.8,114 118.2,112.2 117.7,110.4 117.3,108.7 117.6,107 118.5,105.3 119.3,103.7 119.3,20" fill="#16ee44"/>
<polygon points="47.3,20 47.3,103.4 48.1,105 48.9,106.7 49.3,108.4 49,110.1 48.5,111.9 48,113.6 47.4,115.4 46.9,117.1 46.5,118.9 46.2,120.7 46,122.6 45.9,124.4 45.7,126.2 45.6,128.1 45.5,129.9 45.5,131.8 45.4,133.6 45.4,135.4 45.3,137.3 45.3,139.1 45.3,141 45.3,142.8 45.3,144.6 45.4,146.5 45.5,148.3 45.6,150.1 45.8,152 46.1,153.8 46.5,155.6 46.8,157.4 47.3,159.2 47.8,160.9 48.5,162.7 49.2,164.3 50,166 50.9,167.6 51.9,169.2 52.8,170.7 53.8,172.3 54.8,173.8 55.8,175.4 56.8,176.9 57.9,178.4 59,179.9 60.2,181.3 61.4,182.6 62.7,184 64,185.2 65.4,186.5 66.8,187.7 68.2,188.8 69.7,189.9 71.3,190.8 73,191.6 74.8,192.1 76.6,192.4 78.4,192.5 80.2,192.6 82.1,192.7 83.9,192.7 85.8,192.6 87.6,192.5 89.4,192.4 91.2,192.1 93,191.6 94.7,190.8 96.3,189.9 97.8,188.8 99.2,187.7 100.6,186.5 102,185.2 103.3,184 104.6,182.6 105.8,181.3 107,179.9 108.1,178.4 109.2,176.9 110.2,175.4 111.2,173.8 112.2,172.3 113.2,170.7 114.1,169.2 115.1,167.6 116,166 116.8,164.3 117.5,162.7 118.2,160.9 118.7,159.2 119.2,157.4 119.5,155.6 119.9,153.8 120.2,152 120.4,150.1 120.5,148.3 120.6,146.5 120.7,144.6 120.7,142.8 120.7,141 120.7,139.1 120.7,137.3 120.6,135.4 120.6,133.6 120.5,131.8 120.5,129.9 120.4,128.1 120.3,126.2 120.1,124.4 120,122.6 119.8,120.7 119.5,118.9 119.1,117.1 118.6,115.4 118,113.6 117.5,111.9 117,110.1 116.7,108.4 117.1,106.7 117.9,105 118.7,103.4 118.7,20" fill="#50ee16"/>
<polygon points="48.1,20 48.1,103 48.9,104.6 49.8,106.2 50.2,107.9 50.1,109.6 49.7,111.4 49.2,113.1 48.6,114.8 48,116.6 47.6,118.3 47.3,120.1 47,121.9 46.9,123.7 46.7,125.6 46.6,127.4 46.5,129.2 46.5,131 46.4,132.9 46.3,134.7 46.3,136.5 46.3,138.3 46.3,140.1 46.3,142 46.3,143.8 46.3,145.6 46.4,147.4 46.5,149.2 46.7,151.1 46.9,152.9 47.2,154.7 47.6,156.4 48,158.2 48.5,160 49.1,161.7 49.8,163.4 50.6,165 51.5,166.6 52.4,168.2 53.3,169.7 54.3,171.3 55.3,172.8 56.3,174.3 57.3,175.9 58.3,177.4 59.4,178.8 60.5,180.2 61.7,181.6 63,182.9 64.3,184.2 65.7,185.4 67,186.6 68.5,187.8 69.9,188.8 71.5,189.8 73.1,190.6 74.8,191.1 76.6,191.4 78.4,191.6 80.3,191.7 82.1,191.7 83.9,191.7 85.7,191.7 87.6,191.6 89.4,191.4 91.2,191.1 92.9,190.6 94.5,189.8 96.1,188.8 97.5,187.8 99,186.6 100.3,185.4 101.7,184.2 103,182.9 104.3,181.6 105.5,180.2 106.6,178.8 107.7,177.4 108.7,175.9 109.7,174.3 110.7,172.8 111.7,171.3 112.7,169.7 113.6,168.2 114.5,166.6 115.4,165 116.2,163.4 116.9,161.7 117.5,160 118,158.2 118.4,156.4 118.8,154.7 119.1,152.9 119.3,151.1 119.5,149.2 119.6,147.4 119.7,145.6 119.7,143.8 119.7,142 119.7,140.1 119.7,138.3 119.7,136.5 119.7,134.7 119.6,132.9 119.5,131 119.5,129.2 119.4,127.4 119.3,125.6 119.1,123.7 119,121.9 118.7,120.1 118.4,118.3 118,116.6 117.4,114.8 116.8,113.1 116.3,111.4 115.9,109.6 115.8,107.9 116.2,106.2 117.1,104.6 117.9,103 117.9,20" fill="#e4f01a"/>
<polygon points="48.9,20 48.9,102.6 49.7,104.2 50.5,105.8 51.1,107.4 51.1,109.2 50.9,111 50.4,112.7 49.7,114.3 49.1,116 48.6,117.8 48.3,119.6 48,121.3 47.8,123.1 47.7,124.9 47.6,126.7 47.5,128.5 47.4,130.3 47.3,132.2 47.3,134 47.2,135.8 47.2,137.6 47.2,139.4 47.2,141.2 47.2,143 47.2,144.8 47.2,146.6 47.3,148.4 47.5,150.2 47.7,152 48,153.8 48.3,155.5 48.7,157.3 49.2,159.1 49.7,160.8 50.3,162.5 51.1,164.1 52,165.7 52.9,167.2 53.8,168.8 54.8,170.3 55.7,171.8 56.7,173.4 57.7,174.9 58.7,176.4 59.8,177.8 60.9,179.3 62.1,180.6 63.3,181.9 64.6,183.2 65.9,184.4 67.3,185.6 68.6,186.8 70.1,187.9 71.6,188.9 73.2,189.7 74.9,190.2 76.7,190.5 78.5,190.7 80.3,190.8 82.1,190.8 83.9,190.8 85.7,190.8 87.5,190.7 89.3,190.5 91.1,190.2 92.8,189.7 94.4,188.9 95.9,187.9 97.4,186.8 98.7,185.6 100.1,184.4 101.4,183.2 102.7,181.9 103.9,180.6 105.1,179.3 106.2,177.8 107.3,176.4 108.3,174.9 109.3,173.4 110.3,171.8 111.2,170.3 112.2,168.8 113.1,167.2 114,165.7 114.9,164.1 115.7,162.5 116.3,160.8 116.8,159.1 117.3,157.3 117.7,155.5 118,153.8 118.3,152 118.5,150.2 118.7,148.4 118.8,146.6 118.8,144.8 118.8,143 118.8,141.2 118.8,139.4 118.8,137.6 118.8,135.8 118.7,134 118.7,132.2 118.6,130.3 118.5,128.5 118.4,126.7 118.3,124.9 118.2,123.1 118,121.3 117.7,119.6 117.4,117.8 116.9,116 116.3,114.3 115.6,112.7 115.1,111 114.9,109.2 114.9,107.4 115.5,105.8 116.3,104.2 117.1,102.6 117.1,20" fill="#ff8c1a"/>
<polygon points="50,20 50,102 50.8,103.6 51.6,105.2 52.3,106.8 52.6,108.6 52.4,110.3 51.9,112 51.2,113.6 50.5,115.3 50,117 49.6,118.8 49.3,120.5 49.1,122.3 49,124.1 48.8,125.8 48.7,127.6 48.6,129.4 48.6,131.2 48.5,133 48.5,134.8 48.4,136.5 48.4,138.3 48.4,140.1 48.4,141.9 48.4,143.7 48.4,145.5 48.5,147.2 48.5,149 48.7,150.8 49,152.6 49.3,154.3 49.7,156.1 50,157.8 50.5,159.5 51.1,161.2 51.8,162.8 52.7,164.4 53.5,166 54.5,167.5 55.4,169 56.3,170.5 57.3,172 58.3,173.5 59.2,175 60.3,176.5 61.3,177.9 62.5,179.3 63.7,180.6 64.9,181.8 66.2,183.1 67.6,184.3 68.9,185.4 70.3,186.5 71.8,187.6 73.3,188.4 75,189 76.8,189.3 78.5,189.5 80.3,189.5 82.1,189.6 83.9,189.6 85.7,189.5 87.5,189.5 89.2,189.3 91,189 92.7,188.4 94.2,187.6 95.7,186.5 97.1,185.4 98.4,184.3 99.8,183.1 101.1,181.8 102.3,180.6 103.5,179.3 104.7,177.9 105.7,176.5 106.8,175 107.7,173.5 108.7,172 109.7,170.5 110.6,169 111.5,167.5 112.5,166 113.3,164.4 114.2,162.8 114.9,161.2 115.5,159.5 116,157.8 116.3,156.1 116.7,154.3 117,152.6 117.3,150.8 117.5,149 117.5,147.2 117.6,145.5 117.6,143.7 117.6,141.9 117.6,140.1 117.6,138.3 117.6,136.5 117.5,134.8 117.5,133 117.4,131.2 117.4,129.4 117.3,127.6 117.2,125.8 117,124.1 116.9,122.3 116.7,120.5 116.4,118.8 116,117 115.5,115.3 114.8,113.6 114.1,112 113.6,110.3 113.4,108.6 113.7,106.8 114.4,105.2 115.2,103.6 116,102 116,20" fill="#ff1a1a"/>
<rect x="70.6" y="37.9" width="22.2" height="59.1" fill="#ff1a1a"/>
</g>
<text stroke="#111" stroke-width="0.28" x="5" y="119.8" font-family="&quot;Liberation Sans&quot;, Arial, sans-serif" font-weight="bold" font-size="11.5" fill="#111" textLength="41" lengthAdjust="spacingAndGlyphs">Layer 1</text>
<text stroke="#111" stroke-width="0.28" x="5" y="156" font-family="&quot;Liberation Sans&quot;, Arial, sans-serif" font-weight="bold" font-size="11.5" fill="#111" textLength="41" lengthAdjust="spacingAndGlyphs">Layer 2</text>
<text stroke="#111" stroke-width="0.28" x="5" y="190" font-family="&quot;Liberation Sans&quot;, Arial, sans-serif" font-weight="bold" font-size="11.5" fill="#111" textLength="41" lengthAdjust="spacingAndGlyphs">Layer 3</text>
<text stroke="#111" stroke-width="0.28" x="5" y="218.5" font-family="&quot;Liberation Sans&quot;, Arial, sans-serif" font-weight="bold" font-size="11.5" fill="#111" textLength="41" lengthAdjust="spacingAndGlyphs">Layer 4</text>
<text stroke="#111" stroke-width="0.28" x="5" y="254.3" font-family="&quot;Liberation Sans&quot;, Arial, sans-serif" font-weight="bold" font-size="11.5" fill="#111" textLength="41" lengthAdjust="spacingAndGlyphs">Layer 5</text>
<text x="55.4" y="277.9" font-family="&quot;Liberation Sans&quot;, Arial, sans-serif" font-weight="bold" font-size="14.6" fill="#fff" textLength="51.6" lengthAdjust="spacingAndGlyphs">y=0.0m</text>
<text stroke="#111" stroke-width="0.28" x="147" y="7.4" font-family="&quot;Liberation Sans&quot;, Arial, sans-serif" font-weight="bold" font-size="12" fill="#111">Volatile matter</text>
<text stroke="#111" stroke-width="0.28" x="147" y="19.1" font-family="&quot;Liberation Sans&quot;, Arial, sans-serif" font-weight="bold" font-size="12" fill="#111">(CO)</text>
<rect x="146.3" y="25.8" width="15.5" height="6.6" fill="#ee0a0a"/>
<rect x="146.3" y="32.1" width="15.5" height="12.35" fill="#ff8c1a"/>
<rect x="146.3" y="44.15" width="15.5" height="12.35" fill="#e4f01a"/>
<rect x="146.3" y="56.2" width="15.5" height="12.35" fill="#50ee16"/>
<rect x="146.3" y="68.25" width="15.5" height="12.35" fill="#16ee44"/>
<rect x="146.3" y="80.3" width="15.5" height="12.35" fill="#1af0d6"/>
<rect x="146.3" y="92.35" width="15.5" height="12.35" fill="#1f8cf2"/>
<rect x="146.3" y="104.4" width="15.5" height="6.3" fill="#1010e6"/>
<text stroke="#111" stroke-width="0.28" x="169.3" y="37.5" font-family="&quot;Liberation Sans&quot;, Arial, sans-serif" font-weight="bold" font-size="10" fill="#111">0.012</text>
<text stroke="#111" stroke-width="0.28" x="169.3" y="49.6" font-family="&quot;Liberation Sans&quot;, Arial, sans-serif" font-weight="bold" font-size="10" fill="#111">0.01</text>
<text stroke="#111" stroke-width="0.28" x="169.3" y="61.7" font-family="&quot;Liberation Sans&quot;, Arial, sans-serif" font-weight="bold" font-size="10" fill="#111">0.008</text>
<text stroke="#111" stroke-width="0.28" x="169.3" y="73.8" font-family="&quot;Liberation Sans&quot;, Arial, sans-serif" font-weight="bold" font-size="10" fill="#111">0.006</text>
<text stroke="#111" stroke-width="0.28" x="169.3" y="85.9" font-family="&quot;Liberation Sans&quot;, Arial, sans-serif" font-weight="bold" font-size="10" fill="#111">0.004</text>
<text stroke="#111" stroke-width="0.28" x="169.3" y="98" font-family="&quot;Liberation Sans&quot;, Arial, sans-serif" font-weight="bold" font-size="10" fill="#111">0.002</text>
<text stroke="#111" stroke-width="0.28" x="169.3" y="110.1" font-family="&quot;Liberation Sans&quot;, Arial, sans-serif" font-weight="bold" font-size="10" fill="#111">0.001</text>
<text stroke="#2424e8" stroke-width="0.28" x="241" y="18.3" font-family="&quot;Liberation Sans&quot;, Arial, sans-serif" font-weight="bold" font-size="12" fill="#2424e8" textLength="88.8" lengthAdjust="spacingAndGlyphs">Temperature(K)</text>
<text stroke="#111" stroke-width="0.28" transform="translate(232,147) rotate(-90)" font-family="&quot;Liberation Sans&quot;, Arial, sans-serif" font-weight="bold" font-size="12" fill="#111" text-anchor="middle">The distance from furnace top(m)</text>
<path d="M253.5 38.5H318.5M253.5 38.5V286.4" stroke="#9a9a9a" stroke-width="1.1" fill="none"/>
<path d="M253 38.5v2.4 M258.05 38.5v2.4 M268.15 38.5v2.4 M273.2 38.5v2.4 M278.25 38.5v2.4 M283.3 38.5v2.4 M293.4 38.5v2.4 M298.45 38.5v2.4 M303.5 38.5v2.4 M308.55 38.5v2.4 M318.65 38.5v2.4" stroke="#999" stroke-width="0.9"/>
<path d="M263.1 38.5v5 M288.35 38.5v5 M313.6 38.5v5" stroke="#111" stroke-width="1.2"/>
<text stroke="#111" stroke-width="0.28" x="263.1" y="32.6" font-family="&quot;Liberation Sans&quot;, Arial, sans-serif" font-weight="bold" font-size="10" fill="#111" text-anchor="middle">500</text>
<text stroke="#111" stroke-width="0.28" x="288.35" y="32.6" font-family="&quot;Liberation Sans&quot;, Arial, sans-serif" font-weight="bold" font-size="10" fill="#111" text-anchor="middle">1000</text>
<text stroke="#111" stroke-width="0.28" x="313.6" y="32.6" font-family="&quot;Liberation Sans&quot;, Arial, sans-serif" font-weight="bold" font-size="10" fill="#111" text-anchor="middle">1500</text>
<path d="M253.5 50.58h3.2 M253.5 62.66h3.2 M253.5 74.74h3.2 M253.5 86.82h3.2 M253.5 110.98h3.2 M253.5 123.06h3.2 M253.5 135.14h3.2 M253.5 147.22h3.2 M253.5 171.38h3.2 M253.5 183.46h3.2 M253.5 195.54h3.2 M253.5 207.62h3.2 M253.5 231.78h3.2 M253.5 243.86h3.2 M253.5 255.94h3.2 M253.5 268.02h3.2" stroke="#999" stroke-width="0.9"/>
<path d="M253.5 38.5h5.3 M253.5 98.9h5.3 M253.5 159.3h5.3 M253.5 219.7h5.3 M253.5 280.1h5.3" stroke="#111" stroke-width="1.2"/>
<text stroke="#111" stroke-width="0.28" x="250" y="42.3" font-family="&quot;Liberation Sans&quot;, Arial, sans-serif" font-weight="bold" font-size="11" fill="#111" text-anchor="end">0</text>
<text stroke="#111" stroke-width="0.28" x="249.6" y="102.9" font-family="&quot;Liberation Sans&quot;, Arial, sans-serif" font-weight="bold" font-size="11" fill="#111" text-anchor="end">-1</text>
<text stroke="#111" stroke-width="0.28" x="249.6" y="163.3" font-family="&quot;Liberation Sans&quot;, Arial, sans-serif" font-weight="bold" font-size="11" fill="#111" text-anchor="end">-2</text>
<text stroke="#111" stroke-width="0.28" x="249.6" y="223.7" font-family="&quot;Liberation Sans&quot;, Arial, sans-serif" font-weight="bold" font-size="11" fill="#111" text-anchor="end">-3</text>
<text stroke="#111" stroke-width="0.28" x="249.6" y="284.1" font-family="&quot;Liberation Sans&quot;, Arial, sans-serif" font-weight="bold" font-size="11" fill="#111" text-anchor="end">-4</text>
<path d="M253.5 249.9H318.3" stroke="#a0a0bc" stroke-width="1.1"/>
<path d="M259.53 249.9v-2.6 M265.56 249.9v-2.6 M271.59 249.9v-2.6 M277.62 249.9v-2.6 M289.68 249.9v-2.6 M295.71 249.9v-2.6 M301.74 249.9v-2.6 M307.77 249.9v-2.6" stroke="#8c8cb0" stroke-width="0.9"/>
<path d="M253.5 249.9v-5 M283.65 249.9v-5 M313.8 249.9v-5" stroke="#111" stroke-width="1.2"/>
<text stroke="#111" stroke-width="0.28" x="253.5" y="264.2" font-family="&quot;Liberation Sans&quot;, Arial, sans-serif" font-weight="bold" font-size="11.3" fill="#111" text-anchor="middle">0</text>
<text stroke="#111" stroke-width="0.28" x="283.65" y="264.2" font-family="&quot;Liberation Sans&quot;, Arial, sans-serif" font-weight="bold" font-size="11.3" fill="#111" text-anchor="middle">0.007</text>
<text stroke="#111" stroke-width="0.28" x="313.8" y="264.2" font-family="&quot;Liberation Sans&quot;, Arial, sans-serif" font-weight="bold" font-size="11.3" fill="#111" text-anchor="middle">0.014</text>
<text stroke="#d81212" stroke-width="0.28" x="275.85" y="279.8" font-family="&quot;Liberation Sans&quot;, Arial, sans-serif" font-weight="bold" font-size="14.5" fill="#d81212" textLength="20.3" lengthAdjust="spacingAndGlyphs">CO</text>
<polyline points="256.2,38.5 257.3,60 258.4,86.7 263.3,98 264.8,110.9 270.4,122.2 271.6,135 274.5,148 277.8,159.4 283.5,170.5 289.6,181.5 300.6,194.7 304.5,202 306.5,213.8 308.2,228 309.4,243.2 310.6,262 311.6,285.9" fill="none" stroke="#2a2af0" stroke-width="1.3" stroke-linejoin="round"/>
<polyline points="309,38.3 308.8,98.1 297,110.1 291.4,122.2 290.9,133.4 289.6,142 286.8,157.9 281.9,169.3 272.1,183.1 258.3,195.3 254.2,206.7 253.9,231.1" fill="none" stroke="#e21a1a" stroke-width="1.3" stroke-linejoin="round"/>
</g>
<g transform="translate(-1.5,663.8)">
<path d="M19.2 10.9V39.6H48" stroke="#1a1a1a" stroke-width="1.3" fill="none"/><path d="M19.5 30.4H28.2V39.2" stroke="#999" stroke-width="0.9" fill="none"/><text x="16.9" y="6.7" font-family="&quot;Liberation Sans&quot;, Arial, sans-serif" font-size="10.5" fill="#333">z</text><text x="52.2" y="42" font-family="&quot;Liberation Sans&quot;, Arial, sans-serif" font-size="10.5" fill="#333">x</text>
<text stroke="#111" stroke-width="0.28" x="68.4" y="24.9" font-family="&quot;Liberation Sans&quot;, Arial, sans-serif" font-weight="bold" font-size="24.6" fill="#111" textLength="29.3" lengthAdjust="spacingAndGlyphs">(k)</text>
<path d="M3 96.4H70.6M92.8 96.4H144.3V286.4 M3 104.7H59.3M104.1 104.7H137.5V115.4H203.5V123.1H137.5V133.4H132.2 M132.2 137.9H137.5V198.6H132.2M132.2 203.6H137.5V265.5H132.2M132.2 270H137.5V286.4 M3 133.5H31.3 M3 137.6H31.3 M3 166.5H31.3 M3 170.6H31.3 M3 199.5H31.3 M3 203.7H31.3 M3 232.3H31.3 M3 236.7H31.3 M3 265.7H31.3 M3 270H31.3" stroke="#9a9a9a" stroke-width="1" fill="none"/>
<clipPath id="clipk"><polygon points="70.6,37.9 92.8,37.9 92.8,96.5 132.2,124.9 132.2,286.4 31.3,286.4 31.3,124.9 70.6,96.5"/></clipPath>
<g clip-path="url(#clipk)">
<polygon points="70.6,37.9 92.8,37.9 92.8,96.5 132.2,124.9 132.2,286.4 31.3,286.4 31.3,124.9 70.6,96.5" fill="#1a1aff"/>
<polygon points="40,20 40,100 40.5,100.8 41.4,102.5 42.8,105.1 44.7,108.4 46.1,111.6 47.1,114.5 47.7,117.2 47.7,119.6 47.8,122.4 47.9,125.5 47.9,129 47.9,132.8 48,136.4 48.3,139.7 48.8,142.7 49.3,145.6 50.2,148.4 51.3,151.2 52.7,154 54.4,156.9 56.1,159.6 57.9,162.2 59.7,164.7 61.6,167 63.4,169.1 65,171 66.5,172.5 68,173.9 69.8,174.9 72,175.7 74.7,176.3 77.8,176.7 80.1,176.9 81.6,177.1 82.3,177.2 83.1,177.1 84.6,176.9 86.9,176.7 90,176.3 92.7,175.7 94.9,174.9 96.7,173.9 98.2,172.5 99.7,171 101.3,169.1 103.1,167 105,164.7 106.8,162.2 108.6,159.6 110.3,156.9 112,154 113.4,151.2 114.5,148.4 115.4,145.6 115.9,142.7 116.4,139.7 116.7,136.4 116.8,132.8 116.8,129 116.8,125.5 116.9,122.4 116.9,119.6 117,117.2 117.6,114.5 118.6,111.6 120,108.4 121.9,105.1 123.3,102.5 124.2,100.8 124.7,100 124.7,20" fill="#1f8cf2"/>
<polygon points="42,20 42,100 42.5,100.7 43.6,102.2 45.1,104.3 47.2,107.2 48.7,110.1 49.5,113 49.8,115.9 49.4,118.9 49.2,122 49,125.4 48.9,129 48.9,132.8 49,136.4 49.3,139.7 49.8,142.7 50.3,145.6 51.2,148.4 52.3,151.2 53.7,154 55.4,156.9 57.1,159.5 58.9,162 60.7,164.3 62.6,166.4 64.4,168.3 66,170 67.5,171.4 69,172.6 70.7,173.6 72.9,174.4 75.3,174.9 78.1,175.3 80.2,175.5 81.6,175.7 82.3,175.8 83.1,175.7 84.5,175.5 86.6,175.3 89.4,174.9 91.8,174.4 94,173.6 95.7,172.6 97.2,171.4 98.7,170 100.3,168.3 102.1,166.4 104,164.3 105.8,162 107.6,159.5 109.3,156.9 111,154 112.4,151.2 113.5,148.4 114.4,145.6 114.9,142.7 115.4,139.7 115.7,136.4 115.8,132.8 115.8,129 115.7,125.4 115.5,122 115.3,118.9 114.9,115.9 115.2,113 116,110.1 117.5,107.2 119.6,104.3 121.1,102.2 122.2,100.7 122.7,100 122.7,20" fill="#1af0d6"/>
<polygon points="48,20 48,102 48.4,102.7 49.2,104.2 50.5,106.3 52.1,109.2 53.3,111.7 54,113.9 54.2,115.8 53.9,117.3 53.7,119.3 53.5,121.9 53.3,124.9 53.2,128.4 53.3,131.7 53.7,134.7 54.3,137.6 55.2,140.1 56.3,142.5 57.8,144.7 59.5,146.6 61.5,148.4 63.5,149.8 65.4,150.9 67.3,151.8 69.2,152.2 71.2,152.7 73.5,152.9 75.9,153.1 78.5,153.2 80.4,153.3 81.7,153.4 82.3,153.4 83,153.4 84.3,153.3 86.2,153.2 88.8,153.1 91.2,152.9 93.5,152.7 95.5,152.2 97.4,151.8 99.3,150.9 101.2,149.8 103.2,148.4 105.2,146.6 106.9,144.7 108.4,142.5 109.5,140.1 110.4,137.6 111,134.7 111.4,131.7 111.5,128.4 111.4,124.9 111.2,121.9 111,119.3 110.8,117.3 110.5,115.8 110.7,113.9 111.4,111.7 112.6,109.2 114.2,106.3 115.5,104.2 116.3,102.7 116.7,102 116.7,20" fill="#16ee44"/>
<polygon points="49,20 49,101 49.4,101.8 50.2,103.2 51.5,105.5 53.1,108.5 54.3,111.2 55,113.5 55.2,115.5 55,117.1 54.8,119.2 54.6,121.8 54.5,124.9 54.4,128.4 54.5,131.7 54.8,134.7 55.4,137.4 56.3,139.8 57.4,142.1 58.7,144.2 60.4,146.1 62.3,147.8 64.2,149.2 66.1,150.3 67.9,151.1 69.8,151.5 71.7,151.9 73.9,152.1 76.2,152.3 78.7,152.3 80.5,152.4 81.7,152.4 82.3,152.4 83,152.4 84.2,152.4 86,152.3 88.5,152.3 90.8,152.1 93,151.9 94.9,151.5 96.8,151.1 98.6,150.3 100.5,149.2 102.4,147.8 104.3,146.1 106,144.2 107.3,142.1 108.4,139.8 109.3,137.4 109.9,134.7 110.2,131.7 110.3,128.4 110.2,124.9 110.1,121.8 109.9,119.2 109.7,117.1 109.5,115.5 109.7,113.5 110.4,111.2 111.6,108.5 113.2,105.5 114.5,103.2 115.3,101.8 115.7,101 115.7,20" fill="#50ee16"/>
<polygon points="51,20 51,102 51.4,102.4 52.2,103.2 53.4,104.4 55.1,106.1 56.2,108 56.9,110.2 57.1,112.7 56.9,115.4 56.7,118.4 56.5,121.5 56.3,124.9 56.2,128.4 56.3,131.6 56.6,134.5 57.1,137 57.9,139.2 58.9,141.3 60.1,143.2 61.6,144.9 63.4,146.6 65.1,147.9 66.9,148.9 68.6,149.6 70.4,149.9 72.3,150.2 74.3,150.5 76.5,150.7 78.8,150.8 80.6,150.9 81.8,151 82.3,151 82.9,151 84.1,150.9 85.9,150.8 88.2,150.7 90.4,150.5 92.4,150.2 94.3,149.9 96.1,149.6 97.8,148.9 99.6,147.9 101.3,146.6 103.1,144.9 104.6,143.2 105.8,141.3 106.8,139.2 107.6,137 108.1,134.5 108.4,131.6 108.5,128.4 108.4,124.9 108.2,121.5 108,118.4 107.8,115.4 107.6,112.7 107.8,110.2 108.5,108 109.6,106.1 111.3,104.4 112.5,103.2 113.3,102.4 113.7,102 113.7,20" fill="#e4f01a"/>
<polygon points="58,20 58,98 58.3,98.2 58.8,98.7 59.5,99.4 60.6,100.2 61.4,101.5 62,103 62.5,104.8 62.7,106.9 63,109.3 63.3,111.9 63.6,114.7 64,117.8 64.4,120.5 64.8,122.9 65.2,124.9 65.7,126.5 66.3,127.9 67,129.2 67.8,130.1 68.7,130.9 69.6,131.5 70.5,132.1 71.5,132.6 72.4,133.1 73.5,133.5 74.7,134 76,134.6 77.5,135.2 78.7,135.7 79.8,136 80.6,136.1 81.3,136.2 81.8,136.2 82.2,136.2 82.3,136.2 82.5,136.2 82.9,136.2 83.4,136.2 84.1,136.1 84.9,136 86,135.7 87.2,135.2 88.7,134.6 90,134 91.2,133.5 92.3,133.1 93.2,132.6 94.2,132.1 95.1,131.5 96,130.9 96.9,130.1 97.7,129.2 98.4,127.9 99,126.5 99.5,124.9 99.9,122.9 100.3,120.5 100.7,117.8 101.1,114.7 101.4,111.9 101.7,109.3 102,106.9 102.2,104.8 102.7,103 103.3,101.5 104.1,100.2 105.2,99.4 105.9,98.7 106.4,98.2 106.7,98 106.7,20" fill="#ff8c1a"/>
<polygon points="62,20 62,96 62.3,96.2 62.8,96.7 63.7,97.4 64.8,98.3 65.5,99.7 66,101.4 66.2,103.6 66.1,106.2 66.1,108.7 66.1,111.2 66.2,113.7 66.5,116 66.7,118.2 67,120.2 67.4,122.1 67.7,123.7 68.2,125.2 68.7,126.4 69.3,127.3 70,128.1 70.7,128.7 71.4,129.3 72.1,129.8 72.8,130.3 73.8,130.6 75,131 76.4,131.2 78,131.5 79.4,131.6 80.4,131.7 81.2,131.8 81.7,131.8 82,131.8 82.2,131.8 82.3,131.8 82.5,131.8 82.7,131.8 83,131.8 83.5,131.8 84.3,131.7 85.3,131.6 86.7,131.5 88.3,131.2 89.7,131 90.9,130.6 91.9,130.3 92.6,129.8 93.3,129.3 94,128.7 94.7,128.1 95.4,127.3 96,126.4 96.5,125.2 97,123.7 97.3,122.1 97.7,120.2 98,118.2 98.2,116 98.5,113.7 98.6,111.2 98.6,108.7 98.6,106.2 98.5,103.6 98.7,101.4 99.2,99.7 99.9,98.3 101,97.4 101.9,96.7 102.4,96.2 102.7,96 102.7,20" fill="#ff1a1a"/>
<rect x="70.6" y="37.9" width="22.2" height="59.1" fill="#ff1a1a"/>
</g>
<text stroke="#111" stroke-width="0.28" x="5" y="119.8" font-family="&quot;Liberation Sans&quot;, Arial, sans-serif" font-weight="bold" font-size="11.5" fill="#111" textLength="41" lengthAdjust="spacingAndGlyphs">Layer 1</text>
<text stroke="#111" stroke-width="0.28" x="5" y="156" font-family="&quot;Liberation Sans&quot;, Arial, sans-serif" font-weight="bold" font-size="11.5" fill="#111" textLength="41" lengthAdjust="spacingAndGlyphs">Layer 2</text>
<text stroke="#111" stroke-width="0.28" x="5" y="190" font-family="&quot;Liberation Sans&quot;, Arial, sans-serif" font-weight="bold" font-size="11.5" fill="#111" textLength="41" lengthAdjust="spacingAndGlyphs">Layer 3</text>
<text stroke="#111" stroke-width="0.28" x="5" y="218.5" font-family="&quot;Liberation Sans&quot;, Arial, sans-serif" font-weight="bold" font-size="11.5" fill="#111" textLength="41" lengthAdjust="spacingAndGlyphs">Layer 4</text>
<text stroke="#111" stroke-width="0.28" x="5" y="254.3" font-family="&quot;Liberation Sans&quot;, Arial, sans-serif" font-weight="bold" font-size="11.5" fill="#111" textLength="41" lengthAdjust="spacingAndGlyphs">Layer 5</text>
<text x="55.4" y="277.9" font-family="&quot;Liberation Sans&quot;, Arial, sans-serif" font-weight="bold" font-size="14.6" fill="#fff" textLength="60.4" lengthAdjust="spacingAndGlyphs">y=0.09m</text>
<text stroke="#111" stroke-width="0.28" x="147" y="7.4" font-family="&quot;Liberation Sans&quot;, Arial, sans-serif" font-weight="bold" font-size="12" fill="#111">Volatile matter</text>
<text stroke="#111" stroke-width="0.28" x="147" y="19.1" font-family="&quot;Liberation Sans&quot;, Arial, sans-serif" font-weight="bold" font-size="12" fill="#111">(CO)</text>
<rect x="146.3" y="25.8" width="15.5" height="6.6" fill="#ee0a0a"/>
<rect x="146.3" y="32.1" width="15.5" height="12.35" fill="#ff8c1a"/>
<rect x="146.3" y="44.15" width="15.5" height="12.35" fill="#e4f01a"/>
<rect x="146.3" y="56.2" width="15.5" height="12.35" fill="#50ee16"/>
<rect x="146.3" y="68.25" width="15.5" height="12.35" fill="#16ee44"/>
<rect x="146.3" y="80.3" width="15.5" height="12.35" fill="#1af0d6"/>
<rect x="146.3" y="92.35" width="15.5" height="12.35" fill="#1f8cf2"/>
<rect x="146.3" y="104.4" width="15.5" height="6.3" fill="#1010e6"/>
<text stroke="#111" stroke-width="0.28" x="169.3" y="37.5" font-family="&quot;Liberation Sans&quot;, Arial, sans-serif" font-weight="bold" font-size="10" fill="#111">0.012</text>
<text stroke="#111" stroke-width="0.28" x="169.3" y="49.6" font-family="&quot;Liberation Sans&quot;, Arial, sans-serif" font-weight="bold" font-size="10" fill="#111">0.01</text>
<text stroke="#111" stroke-width="0.28" x="169.3" y="61.7" font-family="&quot;Liberation Sans&quot;, Arial, sans-serif" font-weight="bold" font-size="10" fill="#111">0.008</text>
<text stroke="#111" stroke-width="0.28" x="169.3" y="73.8" font-family="&quot;Liberation Sans&quot;, Arial, sans-serif" font-weight="bold" font-size="10" fill="#111">0.006</text>
<text stroke="#111" stroke-width="0.28" x="169.3" y="85.9" font-family="&quot;Liberation Sans&quot;, Arial, sans-serif" font-weight="bold" font-size="10" fill="#111">0.004</text>
<text stroke="#111" stroke-width="0.28" x="169.3" y="98" font-family="&quot;Liberation Sans&quot;, Arial, sans-serif" font-weight="bold" font-size="10" fill="#111">0.002</text>
<text stroke="#111" stroke-width="0.28" x="169.3" y="110.1" font-family="&quot;Liberation Sans&quot;, Arial, sans-serif" font-weight="bold" font-size="10" fill="#111">0.001</text>
<text stroke="#2424e8" stroke-width="0.28" x="241" y="18.3" font-family="&quot;Liberation Sans&quot;, Arial, sans-serif" font-weight="bold" font-size="12" fill="#2424e8" textLength="88.8" lengthAdjust="spacingAndGlyphs">Temperature(K)</text>
<text stroke="#111" stroke-width="0.28" transform="translate(232,147) rotate(-90)" font-family="&quot;Liberation Sans&quot;, Arial, sans-serif" font-weight="bold" font-size="12" fill="#111" text-anchor="middle">The distance from furnace top(m)</text>
<path d="M253.5 38.5H318.5M253.5 38.5V286.4" stroke="#9a9a9a" stroke-width="1.1" fill="none"/>
<path d="M253.24 38.5v2.4 M258.62 38.5v2.4 M269.38 38.5v2.4 M274.76 38.5v2.4 M280.14 38.5v2.4 M285.52 38.5v2.4 M296.28 38.5v2.4 M301.66 38.5v2.4 M307.04 38.5v2.4 M312.42 38.5v2.4" stroke="#999" stroke-width="0.9"/>
<path d="M264 38.5v5 M290.9 38.5v5 M317.8 38.5v5" stroke="#111" stroke-width="1.2"/>
<text stroke="#111" stroke-width="0.28" x="264" y="32.6" font-family="&quot;Liberation Sans&quot;, Arial, sans-serif" font-weight="bold" font-size="10" fill="#111" text-anchor="middle">500</text>
<text stroke="#111" stroke-width="0.28" x="290.9" y="32.6" font-family="&quot;Liberation Sans&quot;, Arial, sans-serif" font-weight="bold" font-size="10" fill="#111" text-anchor="middle">1000</text>
<text stroke="#111" stroke-width="0.28" x="317.8" y="32.6" font-family="&quot;Liberation Sans&quot;, Arial, sans-serif" font-weight="bold" font-size="10" fill="#111" text-anchor="middle">1500</text>
<path d="M253.5 50.58h3.2 M253.5 62.66h3.2 M253.5 74.74h3.2 M253.5 86.82h3.2 M253.5 110.98h3.2 M253.5 123.06h3.2 M253.5 135.14h3.2 M253.5 147.22h3.2 M253.5 171.38h3.2 M253.5 183.46h3.2 M253.5 195.54h3.2 M253.5 207.62h3.2 M253.5 231.78h3.2 M253.5 243.86h3.2 M253.5 255.94h3.2 M253.5 268.02h3.2" stroke="#999" stroke-width="0.9"/>
<path d="M253.5 38.5h5.3 M253.5 98.9h5.3 M253.5 159.3h5.3 M253.5 219.7h5.3 M253.5 280.1h5.3" stroke="#111" stroke-width="1.2"/>
<text stroke="#111" stroke-width="0.28" x="250" y="42.3" font-family="&quot;Liberation Sans&quot;, Arial, sans-serif" font-weight="bold" font-size="11" fill="#111" text-anchor="end">0</text>
<text stroke="#111" stroke-width="0.28" x="249.6" y="102.9" font-family="&quot;Liberation Sans&quot;, Arial, sans-serif" font-weight="bold" font-size="11" fill="#111" text-anchor="end">-1</text>
<text stroke="#111" stroke-width="0.28" x="249.6" y="163.3" font-family="&quot;Liberation Sans&quot;, Arial, sans-serif" font-weight="bold" font-size="11" fill="#111" text-anchor="end">-2</text>
<text stroke="#111" stroke-width="0.28" x="249.6" y="223.7" font-family="&quot;Liberation Sans&quot;, Arial, sans-serif" font-weight="bold" font-size="11" fill="#111" text-anchor="end">-3</text>
<text stroke="#111" stroke-width="0.28" x="249.6" y="284.1" font-family="&quot;Liberation Sans&quot;, Arial, sans-serif" font-weight="bold" font-size="11" fill="#111" text-anchor="end">-4</text>
<path d="M253.5 249.9H318.3" stroke="#a0a0bc" stroke-width="1.1"/>
<path d="M259.53 249.9v-2.6 M265.56 249.9v-2.6 M271.59 249.9v-2.6 M277.62 249.9v-2.6 M289.68 249.9v-2.6 M295.71 249.9v-2.6 M301.74 249.9v-2.6 M307.77 249.9v-2.6" stroke="#8c8cb0" stroke-width="0.9"/>
<path d="M253.5 249.9v-5 M283.65 249.9v-5 M313.8 249.9v-5" stroke="#111" stroke-width="1.2"/>
<text stroke="#111" stroke-width="0.28" x="253.5" y="264.2" font-family="&quot;Liberation Sans&quot;, Arial, sans-serif" font-weight="bold" font-size="11.3" fill="#111" text-anchor="middle">0</text>
<text stroke="#111" stroke-width="0.28" x="283.65" y="264.2" font-family="&quot;Liberation Sans&quot;, Arial, sans-serif" font-weight="bold" font-size="11.3" fill="#111" text-anchor="middle">0.007</text>
<text stroke="#111" stroke-width="0.28" x="313.8" y="264.2" font-family="&quot;Liberation Sans&quot;, Arial, sans-serif" font-weight="bold" font-size="11.3" fill="#111" text-anchor="middle">0.014</text>
<text stroke="#d81212" stroke-width="0.28" x="275.85" y="279.8" font-family="&quot;Liberation Sans&quot;, Arial, sans-serif" font-weight="bold" font-size="14.5" fill="#d81212" textLength="20.3" lengthAdjust="spacingAndGlyphs">CO</text>
<polyline points="256.6,38.3 257.3,58.4 258.6,78 259.6,87.5 264.1,98 273.8,110 282.4,122.5 290.6,136.6 297.6,147.6 300.5,156 303.5,166 306.5,177.4 309.8,199.1 312.6,215.4 314.4,232 315.3,249.1 316.3,285.9" fill="none" stroke="#2a2af0" stroke-width="1.3" stroke-linejoin="round"/>
<polyline points="309.2,37.9 309.2,87.2 301,97.9 286.8,110.6 280.4,122 274.8,134.7 265.5,146.8 261.1,156.2 257.5,164.5 255.3,170.5 253.8,183 253.6,285" fill="none" stroke="#e21a1a" stroke-width="1.3" stroke-linejoin="round"/>
</g>
<g transform="translate(377.5,663.8)">
<path d="M19.2 10.9V39.6H48" stroke="#1a1a1a" stroke-width="1.3" fill="none"/><path d="M19.5 30.4H28.2V39.2" stroke="#999" stroke-width="0.9" fill="none"/><text x="16.9" y="6.7" font-family="&quot;Liberation Sans&quot;, Arial, sans-serif" font-size="10.5" fill="#333">z</text><text x="52.2" y="42" font-family="&quot;Liberation Sans&quot;, Arial, sans-serif" font-size="10.5" fill="#333">x</text>
<text stroke="#111" stroke-width="0.28" x="68.4" y="25.3" font-family="&quot;Liberation Sans&quot;, Arial, sans-serif" font-weight="bold" font-size="22.8" fill="#111" textLength="22.3" lengthAdjust="spacingAndGlyphs">(l)</text>
<path d="M3 96.4H70.6M92.8 96.4H144.3V286.4 M3 104.7H59.3M104.1 104.7H137.5V115.4H203.5V123.1H137.5V133.4H132.2 M132.2 137.9H137.5V198.6H132.2M132.2 203.6H137.5V265.5H132.2M132.2 270H137.5V286.4 M3 133.5H31.3 M3 137.6H31.3 M3 166.5H31.3 M3 170.6H31.3 M3 199.5H31.3 M3 203.7H31.3 M3 232.3H31.3 M3 236.7H31.3 M3 265.7H31.3 M3 270H31.3" stroke="#9a9a9a" stroke-width="1" fill="none"/>
<clipPath id="clipl"><polygon points="70.6,37.9 92.8,37.9 92.8,96.5 132.2,124.9 132.2,286.4 31.3,286.4 31.3,124.9 70.6,96.5"/></clipPath>
<g clip-path="url(#clipl)">
<polygon points="70.6,37.9 92.8,37.9 92.8,96.5 132.2,124.9 132.2,286.4 31.3,286.4 31.3,124.9 70.6,96.5" fill="#1a1aff"/>
<polygon points="65.9,20 65.9,96.9 66.2,97.3 66.4,97.6 66.7,97.9 66.9,98.3 67.2,98.6 67.4,99 67.6,99.3 67.7,99.8 67.7,100.2 67.8,100.6 67.9,101 68,101.4 68,101.8 68.1,102.2 68.2,102.6 68.3,103.1 68.3,103.5 68.4,103.9 68.6,104.3 68.7,104.7 68.8,105.1 69,105.5 69.2,105.8 69.4,106.2 69.6,106.6 69.7,107 70,107.3 70.2,107.6 70.5,108 70.7,108.3 71,108.6 71.3,109 71.6,109.3 71.8,109.6 72.1,109.9 72.5,110.1 72.8,110.4 73.2,110.6 73.5,110.9 73.8,111.1 74.2,111.3 74.6,111.4 75,111.6 75.4,111.8 75.8,111.9 76.2,112.1 76.6,112.2 77,112.3 77.4,112.4 77.8,112.5 78.2,112.5 78.6,112.6 79,112.6 79.5,112.7 79.9,112.7 80.3,112.8 80.7,112.8 81.1,112.8 81.5,112.9 82,112.9 82.4,112.8 82.8,112.8 83.2,112.8 83.6,112.7 84,112.7 84.5,112.6 84.9,112.6 85.3,112.5 85.7,112.5 86.1,112.4 86.5,112.3 86.9,112.2 87.3,112.1 87.7,111.9 88.1,111.8 88.5,111.6 88.9,111.4 89.3,111.3 89.7,111.1 90,110.9 90.3,110.6 90.7,110.4 91,110.1 91.4,109.9 91.7,109.6 91.9,109.3 92.2,109 92.5,108.6 92.8,108.3 93,108 93.3,107.6 93.5,107.3 93.8,107 93.9,106.6 94.1,106.2 94.3,105.8 94.5,105.5 94.7,105.1 94.8,104.7 94.9,104.3 95.1,103.9 95.2,103.5 95.2,103.1 95.3,102.6 95.4,102.2 95.5,101.8 95.5,101.4 95.6,101 95.7,100.6 95.8,100.2 95.8,99.8 95.9,99.3 96.1,99 96.3,98.6 96.6,98.3 96.8,97.9 97.1,97.6 97.3,97.3 97.6,96.9 97.6,20" fill="#1f8cf2"/>
<polygon points="66.6,20 66.6,96.5 66.8,96.8 67.1,97.1 67.3,97.4 67.5,97.8 67.8,98.1 68,98.4 68.2,98.8 68.3,99.2 68.4,99.6 68.5,100 68.6,100.4 68.6,100.8 68.7,101.2 68.8,101.6 68.9,102 69,102.4 69,102.8 69.1,103.2 69.2,103.5 69.4,103.9 69.5,104.3 69.6,104.7 69.8,105.1 70,105.4 70.1,105.8 70.3,106.2 70.5,106.5 70.7,106.9 70.9,107.2 71.2,107.5 71.4,107.9 71.7,108.2 71.9,108.5 72.2,108.8 72.5,109.1 72.8,109.3 73.1,109.6 73.5,109.8 73.8,110.1 74.1,110.3 74.5,110.5 74.8,110.7 75.2,110.8 75.6,111 75.9,111.2 76.3,111.3 76.7,111.4 77.1,111.5 77.5,111.6 77.9,111.7 78.3,111.7 78.7,111.8 79.1,111.8 79.5,111.9 79.9,111.9 80.3,112 80.7,112 81.1,112 81.5,112.1 82,112.1 82.4,112 82.8,112 83.2,112 83.6,111.9 84,111.9 84.4,111.8 84.8,111.8 85.2,111.7 85.6,111.7 86,111.6 86.4,111.5 86.8,111.4 87.2,111.3 87.6,111.2 87.9,111 88.3,110.8 88.7,110.7 89,110.5 89.4,110.3 89.7,110.1 90,109.8 90.4,109.6 90.7,109.3 91,109.1 91.3,108.8 91.6,108.5 91.8,108.2 92.1,107.9 92.3,107.5 92.6,107.2 92.8,106.9 93,106.5 93.2,106.2 93.4,105.8 93.5,105.4 93.7,105.1 93.9,104.7 94,104.3 94.1,103.9 94.3,103.5 94.4,103.2 94.5,102.8 94.5,102.4 94.6,102 94.7,101.6 94.8,101.2 94.9,100.8 94.9,100.4 95,100 95.1,99.6 95.2,99.2 95.3,98.8 95.5,98.4 95.7,98.1 96,97.8 96.2,97.4 96.4,97.1 96.7,96.8 96.9,96.5 96.9,20" fill="#1af0d6"/>
<polygon points="67.2,20 67.2,96 67.5,96.3 67.7,96.6 67.9,96.9 68.2,97.3 68.4,97.6 68.6,97.9 68.8,98.3 68.9,98.6 69,99 69.1,99.4 69.2,99.8 69.3,100.1 69.4,100.5 69.5,100.9 69.6,101.3 69.6,101.7 69.7,102.1 69.8,102.4 69.9,102.8 70,103.2 70.1,103.6 70.2,104 70.4,104.3 70.5,104.7 70.7,105 70.8,105.4 71,105.7 71.2,106.1 71.4,106.4 71.6,106.8 71.8,107.1 72.1,107.4 72.3,107.7 72.6,108 72.9,108.3 73.1,108.5 73.4,108.8 73.7,109 74.1,109.3 74.4,109.5 74.7,109.7 75.1,109.9 75.4,110.1 75.8,110.2 76.1,110.4 76.5,110.5 76.9,110.6 77.3,110.7 77.6,110.8 78,110.9 78.4,110.9 78.8,111 79.2,111 79.6,111.1 80,111.1 80.4,111.2 80.8,111.2 81.2,111.2 81.6,111.3 81.9,111.3 82.3,111.2 82.7,111.2 83.1,111.2 83.5,111.1 83.9,111.1 84.3,111 84.7,111 85.1,110.9 85.5,110.9 85.9,110.8 86.2,110.7 86.6,110.6 87,110.5 87.4,110.4 87.7,110.2 88.1,110.1 88.4,109.9 88.8,109.7 89.1,109.5 89.4,109.3 89.8,109 90.1,108.8 90.4,108.5 90.6,108.3 90.9,108 91.2,107.7 91.4,107.4 91.7,107.1 91.9,106.8 92.1,106.4 92.3,106.1 92.5,105.7 92.7,105.4 92.8,105 93,104.7 93.1,104.3 93.3,104 93.4,103.6 93.5,103.2 93.6,102.8 93.7,102.4 93.8,102.1 93.9,101.7 93.9,101.3 94,100.9 94.1,100.5 94.2,100.1 94.3,99.8 94.4,99.4 94.5,99 94.6,98.6 94.7,98.3 94.9,97.9 95.1,97.6 95.3,97.3 95.6,96.9 95.8,96.6 96,96.3 96.3,96 96.3,20" fill="#16ee44"/>
<polygon points="67.9,20 67.9,95.5 68.1,95.8 68.3,96.1 68.6,96.4 68.8,96.8 69,97.1 69.2,97.4 69.4,97.7 69.5,98.1 69.7,98.4 69.8,98.8 69.9,99.1 70,99.5 70.1,99.9 70.2,100.2 70.3,100.6 70.3,101 70.4,101.4 70.5,101.7 70.6,102.1 70.7,102.5 70.8,102.8 70.9,103.2 71,103.6 71.1,103.9 71.3,104.3 71.4,104.6 71.5,105 71.7,105.3 71.9,105.6 72.1,106 72.3,106.3 72.5,106.6 72.7,106.9 73,107.2 73.2,107.5 73.5,107.7 73.8,108 74,108.2 74.3,108.5 74.6,108.7 75,108.9 75.3,109.1 75.6,109.3 76,109.4 76.3,109.6 76.7,109.7 77,109.8 77.4,109.9 77.8,110 78.1,110.1 78.5,110.1 78.9,110.2 79.3,110.2 79.7,110.3 80,110.3 80.4,110.4 80.8,110.4 81.2,110.4 81.6,110.5 81.9,110.5 82.3,110.4 82.7,110.4 83.1,110.4 83.5,110.3 83.8,110.3 84.2,110.2 84.6,110.2 85,110.1 85.4,110.1 85.7,110 86.1,109.9 86.5,109.8 86.8,109.7 87.2,109.6 87.5,109.4 87.9,109.3 88.2,109.1 88.5,108.9 88.9,108.7 89.2,108.5 89.5,108.2 89.7,108 90,107.7 90.3,107.5 90.5,107.2 90.8,106.9 91,106.6 91.2,106.3 91.4,106 91.6,105.6 91.8,105.3 92,105 92.1,104.6 92.2,104.3 92.4,103.9 92.5,103.6 92.6,103.2 92.7,102.8 92.8,102.5 92.9,102.1 93,101.7 93.1,101.4 93.2,101 93.2,100.6 93.3,100.2 93.4,99.9 93.5,99.5 93.6,99.1 93.7,98.8 93.8,98.4 94,98.1 94.1,97.7 94.3,97.4 94.5,97.1 94.7,96.8 94.9,96.4 95.2,96.1 95.4,95.8 95.6,95.5 95.6,20" fill="#50ee16"/>
<polygon points="68.5,20 68.5,95.1 68.8,95.4 69,95.6 69.2,95.9 69.4,96.2 69.6,96.5 69.8,96.9 70,97.2 70.2,97.5 70.3,97.8 70.4,98.2 70.6,98.5 70.7,98.9 70.8,99.2 70.9,99.6 71,99.9 71,100.3 71.1,100.7 71.2,101 71.2,101.4 71.3,101.7 71.4,102.1 71.5,102.4 71.6,102.8 71.7,103.1 71.8,103.5 71.9,103.8 72.1,104.2 72.2,104.5 72.4,104.8 72.5,105.2 72.7,105.5 72.9,105.8 73.1,106.1 73.3,106.4 73.6,106.7 73.8,106.9 74.1,107.2 74.3,107.4 74.6,107.7 74.9,107.9 75.2,108.1 75.5,108.3 75.8,108.5 76.2,108.7 76.5,108.8 76.8,108.9 77.2,109 77.6,109.1 77.9,109.2 78.3,109.3 78.6,109.4 79,109.4 79.4,109.4 79.7,109.5 80.1,109.5 80.5,109.6 80.8,109.6 81.2,109.6 81.6,109.7 81.9,109.7 82.3,109.6 82.7,109.6 83,109.6 83.4,109.5 83.8,109.5 84.1,109.4 84.5,109.4 84.9,109.4 85.2,109.3 85.6,109.2 85.9,109.1 86.3,109 86.7,108.9 87,108.8 87.3,108.7 87.7,108.5 88,108.3 88.3,108.1 88.6,107.9 88.9,107.7 89.2,107.4 89.4,107.2 89.7,106.9 89.9,106.7 90.2,106.4 90.4,106.1 90.6,105.8 90.8,105.5 91,105.2 91.1,104.8 91.3,104.5 91.4,104.2 91.6,103.8 91.7,103.5 91.8,103.1 91.9,102.8 92,102.4 92.1,102.1 92.2,101.7 92.3,101.4 92.3,101 92.4,100.7 92.5,100.3 92.5,99.9 92.6,99.6 92.7,99.2 92.8,98.9 92.9,98.5 93.1,98.2 93.2,97.8 93.3,97.5 93.5,97.2 93.7,96.9 93.9,96.5 94.1,96.2 94.3,95.9 94.5,95.6 94.7,95.4 95,95.1 95,20" fill="#e4f01a"/>
<polygon points="69.2,20 69.2,94.6 69.4,94.9 69.6,95.2 69.8,95.5 70,95.7 70.2,96 70.4,96.3 70.6,96.6 70.8,96.9 70.9,97.2 71.1,97.6 71.2,97.9 71.4,98.2 71.5,98.6 71.6,98.9 71.6,99.2 71.7,99.6 71.8,99.9 71.8,100.3 71.9,100.6 72,101 72.1,101.3 72.1,101.7 72.2,102 72.3,102.4 72.4,102.7 72.5,103.1 72.6,103.4 72.7,103.7 72.8,104 73,104.4 73.1,104.7 73.3,105 73.5,105.3 73.7,105.6 73.9,105.9 74.1,106.1 74.4,106.4 74.6,106.6 74.9,106.9 75.2,107.1 75.4,107.3 75.7,107.5 76,107.7 76.4,107.9 76.7,108 77,108.2 77.4,108.3 77.7,108.3 78,108.4 78.4,108.5 78.7,108.6 79.1,108.6 79.4,108.6 79.8,108.7 80.2,108.7 80.5,108.8 80.9,108.8 81.2,108.8 81.6,108.9 81.9,108.9 82.3,108.8 82.6,108.8 83,108.8 83.3,108.7 83.7,108.7 84.1,108.6 84.4,108.6 84.8,108.6 85.1,108.5 85.5,108.4 85.8,108.3 86.1,108.3 86.5,108.2 86.8,108 87.1,107.9 87.5,107.7 87.8,107.5 88.1,107.3 88.3,107.1 88.6,106.9 88.9,106.6 89.1,106.4 89.4,106.1 89.6,105.9 89.8,105.6 90,105.3 90.2,105 90.4,104.7 90.5,104.4 90.7,104 90.8,103.7 90.9,103.4 91,103.1 91.1,102.7 91.2,102.4 91.3,102 91.4,101.7 91.4,101.3 91.5,101 91.6,100.6 91.7,100.3 91.7,99.9 91.8,99.6 91.9,99.2 91.9,98.9 92,98.6 92.1,98.2 92.3,97.9 92.4,97.6 92.6,97.2 92.7,96.9 92.9,96.6 93.1,96.3 93.3,96 93.5,95.7 93.7,95.5 93.9,95.2 94.1,94.9 94.3,94.6 94.3,20" fill="#ff8c1a"/>
<polygon points="70,20 70,94 70.2,94.3 70.4,94.6 70.6,94.8 70.8,95.1 71,95.4 71.2,95.7 71.4,95.9 71.6,96.2 71.7,96.5 71.9,96.8 72.1,97.1 72.2,97.4 72.3,97.7 72.4,98.1 72.5,98.4 72.6,98.7 72.6,99.1 72.7,99.4 72.8,99.7 72.8,100.1 72.9,100.4 72.9,100.7 73,101.1 73,101.4 73.1,101.7 73.2,102.1 73.2,102.4 73.3,102.7 73.4,103.1 73.5,103.4 73.7,103.7 73.8,104 74,104.3 74.2,104.6 74.4,104.9 74.6,105.1 74.8,105.4 75,105.7 75.2,105.9 75.5,106.1 75.8,106.3 76,106.5 76.3,106.7 76.6,106.9 76.9,107 77.2,107.2 77.6,107.3 77.9,107.4 78.2,107.5 78.5,107.5 78.9,107.6 79.2,107.6 79.6,107.6 79.9,107.7 80.2,107.7 80.6,107.8 80.9,107.8 81.2,107.8 81.6,107.9 81.9,107.9 82.3,107.8 82.6,107.8 82.9,107.8 83.3,107.7 83.6,107.7 83.9,107.6 84.3,107.6 84.6,107.6 85,107.5 85.3,107.5 85.6,107.4 85.9,107.3 86.3,107.2 86.6,107 86.9,106.9 87.2,106.7 87.5,106.5 87.7,106.3 88,106.1 88.3,105.9 88.5,105.7 88.7,105.4 88.9,105.1 89.1,104.9 89.3,104.6 89.5,104.3 89.7,104 89.8,103.7 90,103.4 90.1,103.1 90.2,102.7 90.3,102.4 90.3,102.1 90.4,101.7 90.5,101.4 90.5,101.1 90.6,100.7 90.6,100.4 90.7,100.1 90.7,99.7 90.8,99.4 90.9,99.1 90.9,98.7 91,98.4 91.1,98.1 91.2,97.7 91.3,97.4 91.4,97.1 91.6,96.8 91.8,96.5 91.9,96.2 92.1,95.9 92.3,95.7 92.5,95.4 92.7,95.1 92.9,94.8 93.1,94.6 93.3,94.3 93.5,94 93.5,20" fill="#ff1a1a"/>
<rect x="70.6" y="37.9" width="22.2" height="59.1" fill="#ff1a1a"/>
</g>
<text stroke="#111" stroke-width="0.28" x="5" y="119.8" font-family="&quot;Liberation Sans&quot;, Arial, sans-serif" font-weight="bold" font-size="11.5" fill="#111" textLength="41" lengthAdjust="spacingAndGlyphs">Layer 1</text>
<text stroke="#111" stroke-width="0.28" x="5" y="156" font-family="&quot;Liberation Sans&quot;, Arial, sans-serif" font-weight="bold" font-size="11.5" fill="#111" textLength="41" lengthAdjust="spacingAndGlyphs">Layer 2</text>
<text stroke="#111" stroke-width="0.28" x="5" y="190" font-family="&quot;Liberation Sans&quot;, Arial, sans-serif" font-weight="bold" font-size="11.5" fill="#111" textLength="41" lengthAdjust="spacingAndGlyphs">Layer 3</text>
<text stroke="#111" stroke-width="0.28" x="5" y="218.5" font-family="&quot;Liberation Sans&quot;, Arial, sans-serif" font-weight="bold" font-size="11.5" fill="#111" textLength="41" lengthAdjust="spacingAndGlyphs">Layer 4</text>
<text stroke="#111" stroke-width="0.28" x="5" y="254.3" font-family="&quot;Liberation Sans&quot;, Arial, sans-serif" font-weight="bold" font-size="11.5" fill="#111" textLength="41" lengthAdjust="spacingAndGlyphs">Layer 5</text>
<text x="55.4" y="277.9" font-family="&quot;Liberation Sans&quot;, Arial, sans-serif" font-weight="bold" font-size="14.6" fill="#fff" textLength="60.4" lengthAdjust="spacingAndGlyphs">y=0.18m</text>
<text stroke="#111" stroke-width="0.28" x="147" y="7.4" font-family="&quot;Liberation Sans&quot;, Arial, sans-serif" font-weight="bold" font-size="12" fill="#111">Volatile matter</text>
<text stroke="#111" stroke-width="0.28" x="147" y="19.1" font-family="&quot;Liberation Sans&quot;, Arial, sans-serif" font-weight="bold" font-size="12" fill="#111">(CO)</text>
<rect x="146.3" y="25.8" width="15.5" height="6.6" fill="#ee0a0a"/>
<rect x="146.3" y="32.1" width="15.5" height="12.35" fill="#ff8c1a"/>
<rect x="146.3" y="44.15" width="15.5" height="12.35" fill="#e4f01a"/>
<rect x="146.3" y="56.2" width="15.5" height="12.35" fill="#50ee16"/>
<rect x="146.3" y="68.25" width="15.5" height="12.35" fill="#16ee44"/>
<rect x="146.3" y="80.3" width="15.5" height="12.35" fill="#1af0d6"/>
<rect x="146.3" y="92.35" width="15.5" height="12.35" fill="#1f8cf2"/>
<rect x="146.3" y="104.4" width="15.5" height="6.3" fill="#1010e6"/>
<text stroke="#111" stroke-width="0.28" x="169.3" y="37.5" font-family="&quot;Liberation Sans&quot;, Arial, sans-serif" font-weight="bold" font-size="10" fill="#111">0.012</text>
<text stroke="#111" stroke-width="0.28" x="169.3" y="49.6" font-family="&quot;Liberation Sans&quot;, Arial, sans-serif" font-weight="bold" font-size="10" fill="#111">0.01</text>
<text stroke="#111" stroke-width="0.28" x="169.3" y="61.7" font-family="&quot;Liberation Sans&quot;, Arial, sans-serif" font-weight="bold" font-size="10" fill="#111">0.008</text>
<text stroke="#111" stroke-width="0.28" x="169.3" y="73.8" font-family="&quot;Liberation Sans&quot;, Arial, sans-serif" font-weight="bold" font-size="10" fill="#111">0.006</text>
<text stroke="#111" stroke-width="0.28" x="169.3" y="85.9" font-family="&quot;Liberation Sans&quot;, Arial, sans-serif" font-weight="bold" font-size="10" fill="#111">0.004</text>
<text stroke="#111" stroke-width="0.28" x="169.3" y="98" font-family="&quot;Liberation Sans&quot;, Arial, sans-serif" font-weight="bold" font-size="10" fill="#111">0.002</text>
<text stroke="#111" stroke-width="0.28" x="169.3" y="110.1" font-family="&quot;Liberation Sans&quot;, Arial, sans-serif" font-weight="bold" font-size="10" fill="#111">0.001</text>
<text stroke="#2424e8" stroke-width="0.28" x="241" y="18.3" font-family="&quot;Liberation Sans&quot;, Arial, sans-serif" font-weight="bold" font-size="12" fill="#2424e8" textLength="88.8" lengthAdjust="spacingAndGlyphs">Temperature(K)</text>
<text stroke="#111" stroke-width="0.28" transform="translate(232,147) rotate(-90)" font-family="&quot;Liberation Sans&quot;, Arial, sans-serif" font-weight="bold" font-size="12" fill="#111" text-anchor="middle">The distance from furnace top(m)</text>
<path d="M253.5 38.5H318.5M253.5 38.5V286.4" stroke="#9a9a9a" stroke-width="1.1" fill="none"/>
<path d="M253.24 38.5v2.4 M258.62 38.5v2.4 M269.38 38.5v2.4 M274.76 38.5v2.4 M280.14 38.5v2.4 M285.52 38.5v2.4 M296.28 38.5v2.4 M301.66 38.5v2.4 M307.04 38.5v2.4 M312.42 38.5v2.4" stroke="#999" stroke-width="0.9"/>
<path d="M264 38.5v5 M290.9 38.5v5 M317.8 38.5v5" stroke="#111" stroke-width="1.2"/>
<text stroke="#111" stroke-width="0.28" x="264" y="32.6" font-family="&quot;Liberation Sans&quot;, Arial, sans-serif" font-weight="bold" font-size="10" fill="#111" text-anchor="middle">500</text>
<text stroke="#111" stroke-width="0.28" x="290.9" y="32.6" font-family="&quot;Liberation Sans&quot;, Arial, sans-serif" font-weight="bold" font-size="10" fill="#111" text-anchor="middle">1000</text>
<text stroke="#111" stroke-width="0.28" x="317.8" y="32.6" font-family="&quot;Liberation Sans&quot;, Arial, sans-serif" font-weight="bold" font-size="10" fill="#111" text-anchor="middle">1500</text>
<path d="M253.5 50.58h3.2 M253.5 62.66h3.2 M253.5 74.74h3.2 M253.5 86.82h3.2 M253.5 110.98h3.2 M253.5 123.06h3.2 M253.5 135.14h3.2 M253.5 147.22h3.2 M253.5 171.38h3.2 M253.5 183.46h3.2 M253.5 195.54h3.2 M253.5 207.62h3.2 M253.5 231.78h3.2 M253.5 243.86h3.2 M253.5 255.94h3.2 M253.5 268.02h3.2" stroke="#999" stroke-width="0.9"/>
<path d="M253.5 38.5h5.3 M253.5 98.9h5.3 M253.5 159.3h5.3 M253.5 219.7h5.3 M253.5 280.1h5.3" stroke="#111" stroke-width="1.2"/>
<text stroke="#111" stroke-width="0.28" x="250" y="42.3" font-family="&quot;Liberation Sans&quot;, Arial, sans-serif" font-weight="bold" font-size="11" fill="#111" text-anchor="end">0</text>
<text stroke="#111" stroke-width="0.28" x="249.6" y="102.9" font-family="&quot;Liberation Sans&quot;, Arial, sans-serif" font-weight="bold" font-size="11" fill="#111" text-anchor="end">-1</text>
<text stroke="#111" stroke-width="0.28" x="249.6" y="163.3" font-family="&quot;Liberation Sans&quot;, Arial, sans-serif" font-weight="bold" font-size="11" fill="#111" text-anchor="end">-2</text>
<text stroke="#111" stroke-width="0.28" x="249.6" y="223.7" font-family="&quot;Liberation Sans&quot;, Arial, sans-serif" font-weight="bold" font-size="11" fill="#111" text-anchor="end">-3</text>
<text stroke="#111" stroke-width="0.28" x="249.6" y="284.1" font-family="&quot;Liberation Sans&quot;, Arial, sans-serif" font-weight="bold" font-size="11" fill="#111" text-anchor="end">-4</text>
<path d="M253.5 249.9H318.3" stroke="#a0a0bc" stroke-width="1.1"/>
<path d="M259.53 249.9v-2.6 M265.56 249.9v-2.6 M271.59 249.9v-2.6 M277.62 249.9v-2.6 M289.68 249.9v-2.6 M295.71 249.9v-2.6 M301.74 249.9v-2.6 M307.77 249.9v-2.6" stroke="#8c8cb0" stroke-width="0.9"/>
<path d="M253.5 249.9v-5 M283.65 249.9v-5 M313.8 249.9v-5" stroke="#111" stroke-width="1.2"/>
<text stroke="#111" stroke-width="0.28" x="253.5" y="264.2" font-family="&quot;Liberation Sans&quot;, Arial, sans-serif" font-weight="bold" font-size="11.3" fill="#111" text-anchor="middle">0</text>
<text stroke="#111" stroke-width="0.28" x="283.65" y="264.2" font-family="&quot;Liberation Sans&quot;, Arial, sans-serif" font-weight="bold" font-size="11.3" fill="#111" text-anchor="middle">0.007</text>
<text stroke="#111" stroke-width="0.28" x="313.8" y="264.2" font-family="&quot;Liberation Sans&quot;, Arial, sans-serif" font-weight="bold" font-size="11.3" fill="#111" text-anchor="middle">0.014</text>
<text stroke="#d81212" stroke-width="0.28" x="275.85" y="279.8" font-family="&quot;Liberation Sans&quot;, Arial, sans-serif" font-weight="bold" font-size="14.5" fill="#d81212" textLength="20.3" lengthAdjust="spacingAndGlyphs">CO</text>
<polyline points="258,38.4 260.1,49.5 264.8,63 270.2,74.6 281.5,86.2 289,92.5 296,99 300.3,109.1 303.5,117 306.4,126.1 309.5,137 311.5,147 312.1,157 312,166 312.3,180 313.5,205 315,228 315.9,246 316.8,285.6" fill="none" stroke="#2a2af0" stroke-width="1.3" stroke-linejoin="round"/>
<polyline points="308.6,38.1 308.6,74 307.6,84 306.4,86.1 295.1,90.5 284.7,93.1 270,97.4 255.2,110 253.6,112.1 253.6,286" fill="none" stroke="#e21a1a" stroke-width="1.3" stroke-linejoin="round"/>
</g>
<path d="M380 286.6H708" stroke="#b4b4c8" stroke-width="1"/>
</svg>
</body></html>
